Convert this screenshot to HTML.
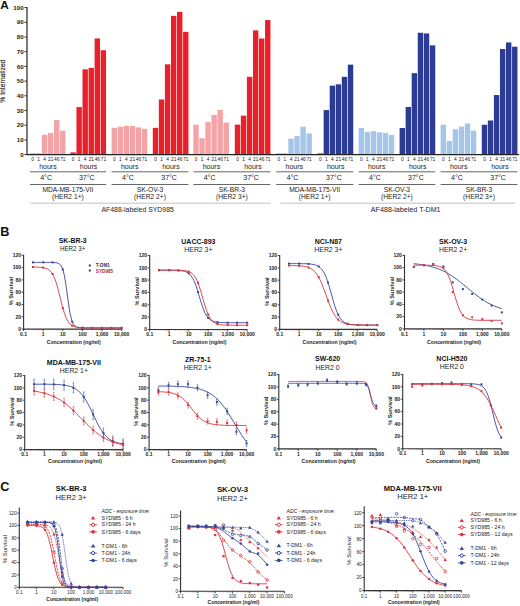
<!DOCTYPE html>
<html><head><meta charset="utf-8"><style>
html,body{margin:0;padding:0;background:#fff;width:520px;height:606px;overflow:hidden}
svg{display:block}
text{font-family:"Liberation Sans",sans-serif}
</style></head><body>
<svg width="520" height="606" viewBox="0 0 520 606">
<rect width="520" height="606" fill="#fff"/>
<text x="0.3" y="9.3" font-size="11.8" text-anchor="start" font-weight="bold" fill="#111">A</text>
<line x1="27.00" y1="155.10" x2="27.00" y2="7.10" stroke="#333" stroke-width="1.3"/>
<line x1="24.40" y1="154.60" x2="27.00" y2="154.60" stroke="#333" stroke-width="1.0"/>
<text x="23.6" y="156.7" font-size="6.2" text-anchor="end" font-weight="bold" fill="#1a1a1a">0</text>
<line x1="24.40" y1="139.90" x2="27.00" y2="139.90" stroke="#333" stroke-width="1.0"/>
<text x="23.6" y="142.0" font-size="6.2" text-anchor="end" font-weight="bold" fill="#1a1a1a">10</text>
<line x1="24.40" y1="125.20" x2="27.00" y2="125.20" stroke="#333" stroke-width="1.0"/>
<text x="23.6" y="127.3" font-size="6.2" text-anchor="end" font-weight="bold" fill="#1a1a1a">20</text>
<line x1="24.40" y1="110.50" x2="27.00" y2="110.50" stroke="#333" stroke-width="1.0"/>
<text x="23.6" y="112.6" font-size="6.2" text-anchor="end" font-weight="bold" fill="#1a1a1a">30</text>
<line x1="24.40" y1="95.80" x2="27.00" y2="95.80" stroke="#333" stroke-width="1.0"/>
<text x="23.6" y="97.9" font-size="6.2" text-anchor="end" font-weight="bold" fill="#1a1a1a">40</text>
<line x1="24.40" y1="81.10" x2="27.00" y2="81.10" stroke="#333" stroke-width="1.0"/>
<text x="23.6" y="83.2" font-size="6.2" text-anchor="end" font-weight="bold" fill="#1a1a1a">50</text>
<line x1="24.40" y1="66.40" x2="27.00" y2="66.40" stroke="#333" stroke-width="1.0"/>
<text x="23.6" y="68.5" font-size="6.2" text-anchor="end" font-weight="bold" fill="#1a1a1a">60</text>
<line x1="24.40" y1="51.70" x2="27.00" y2="51.70" stroke="#333" stroke-width="1.0"/>
<text x="23.6" y="53.8" font-size="6.2" text-anchor="end" font-weight="bold" fill="#1a1a1a">70</text>
<line x1="24.40" y1="37.00" x2="27.00" y2="37.00" stroke="#333" stroke-width="1.0"/>
<text x="23.6" y="39.1" font-size="6.2" text-anchor="end" font-weight="bold" fill="#1a1a1a">80</text>
<line x1="24.40" y1="22.30" x2="27.00" y2="22.30" stroke="#333" stroke-width="1.0"/>
<text x="23.6" y="24.4" font-size="6.2" text-anchor="end" font-weight="bold" fill="#1a1a1a">90</text>
<line x1="24.40" y1="7.60" x2="27.00" y2="7.60" stroke="#333" stroke-width="1.0"/>
<text x="23.6" y="9.7" font-size="6.2" text-anchor="end" font-weight="bold" fill="#1a1a1a">100</text>
<text x="0" y="0" font-size="6.8" text-anchor="middle" fill="#1a1a1a" stroke="#1a1a1a" stroke-width="0.15" transform="translate(5.4,81.2) rotate(-90)">% Internalized</text>
<rect x="29.80" y="153.13" width="5.4" height="1.47" fill="#f4a3a7"/>
<rect x="35.85" y="153.13" width="5.4" height="1.47" fill="#f4a3a7"/>
<rect x="41.90" y="134.75" width="5.4" height="19.84" fill="#f4a3a7"/>
<rect x="47.95" y="132.84" width="5.4" height="21.76" fill="#f4a3a7"/>
<rect x="54.00" y="120.05" width="5.4" height="34.55" fill="#f4a3a7"/>
<rect x="60.05" y="130.79" width="5.4" height="23.81" fill="#f4a3a7"/>
<text x="32.5" y="160.9" font-size="4.8" text-anchor="middle" fill="#222">0</text>
<text x="38.6" y="160.9" font-size="4.8" text-anchor="middle" fill="#222">1</text>
<text x="44.6" y="160.9" font-size="4.8" text-anchor="middle" fill="#222">4</text>
<text x="50.7" y="160.9" font-size="4.8" text-anchor="middle" fill="#222">21</text>
<text x="56.7" y="160.9" font-size="4.8" text-anchor="middle" fill="#222">46</text>
<text x="62.8" y="160.9" font-size="4.8" text-anchor="middle" fill="#222">71</text>
<text x="47.9" y="169.4" font-size="7.0" text-anchor="middle" fill="#1a1a1a">hours</text>
<text x="46.1" y="180.2" font-size="7.0" text-anchor="middle" fill="#1a1a1a">4°C</text>
<rect x="70.40" y="152.39" width="5.4" height="2.21" fill="#e8202a"/>
<rect x="76.45" y="107.12" width="5.4" height="47.48" fill="#e8202a"/>
<rect x="82.50" y="69.34" width="5.4" height="85.26" fill="#e8202a"/>
<rect x="88.55" y="67.87" width="5.4" height="86.73" fill="#e8202a"/>
<rect x="94.60" y="38.47" width="5.4" height="116.13" fill="#e8202a"/>
<rect x="100.65" y="50.23" width="5.4" height="104.37" fill="#e8202a"/>
<text x="73.1" y="160.9" font-size="4.8" text-anchor="middle" fill="#222">0</text>
<text x="79.2" y="160.9" font-size="4.8" text-anchor="middle" fill="#222">1</text>
<text x="85.2" y="160.9" font-size="4.8" text-anchor="middle" fill="#222">4</text>
<text x="91.3" y="160.9" font-size="4.8" text-anchor="middle" fill="#222">21</text>
<text x="97.3" y="160.9" font-size="4.8" text-anchor="middle" fill="#222">46</text>
<text x="103.4" y="160.9" font-size="4.8" text-anchor="middle" fill="#222">71</text>
<text x="88.5" y="169.4" font-size="7.0" text-anchor="middle" fill="#1a1a1a">hours</text>
<text x="86.7" y="180.2" font-size="7.0" text-anchor="middle" fill="#1a1a1a">37°C</text>
<rect x="111.60" y="127.85" width="5.4" height="26.75" fill="#f4a3a7"/>
<rect x="117.65" y="126.67" width="5.4" height="27.93" fill="#f4a3a7"/>
<rect x="123.70" y="125.94" width="5.4" height="28.66" fill="#f4a3a7"/>
<rect x="129.75" y="125.94" width="5.4" height="28.66" fill="#f4a3a7"/>
<rect x="135.80" y="127.41" width="5.4" height="27.20" fill="#f4a3a7"/>
<rect x="141.85" y="128.88" width="5.4" height="25.72" fill="#f4a3a7"/>
<text x="114.3" y="160.9" font-size="4.8" text-anchor="middle" fill="#222">0</text>
<text x="120.3" y="160.9" font-size="4.8" text-anchor="middle" fill="#222">1</text>
<text x="126.4" y="160.9" font-size="4.8" text-anchor="middle" fill="#222">4</text>
<text x="132.4" y="160.9" font-size="4.8" text-anchor="middle" fill="#222">21</text>
<text x="138.5" y="160.9" font-size="4.8" text-anchor="middle" fill="#222">46</text>
<text x="144.5" y="160.9" font-size="4.8" text-anchor="middle" fill="#222">71</text>
<text x="129.7" y="169.4" font-size="7.0" text-anchor="middle" fill="#1a1a1a">hours</text>
<text x="127.9" y="180.2" font-size="7.0" text-anchor="middle" fill="#1a1a1a">4°C</text>
<rect x="152.80" y="127.85" width="5.4" height="26.75" fill="#e8202a"/>
<rect x="158.85" y="99.47" width="5.4" height="55.12" fill="#e8202a"/>
<rect x="164.90" y="64.34" width="5.4" height="90.26" fill="#e8202a"/>
<rect x="170.95" y="15.83" width="5.4" height="138.77" fill="#e8202a"/>
<rect x="177.00" y="11.86" width="5.4" height="142.74" fill="#e8202a"/>
<rect x="183.05" y="31.85" width="5.4" height="122.75" fill="#e8202a"/>
<text x="155.5" y="160.9" font-size="4.8" text-anchor="middle" fill="#222">0</text>
<text x="161.6" y="160.9" font-size="4.8" text-anchor="middle" fill="#222">1</text>
<text x="167.6" y="160.9" font-size="4.8" text-anchor="middle" fill="#222">4</text>
<text x="173.7" y="160.9" font-size="4.8" text-anchor="middle" fill="#222">21</text>
<text x="179.7" y="160.9" font-size="4.8" text-anchor="middle" fill="#222">46</text>
<text x="185.8" y="160.9" font-size="4.8" text-anchor="middle" fill="#222">71</text>
<text x="170.9" y="169.4" font-size="7.0" text-anchor="middle" fill="#1a1a1a">hours</text>
<text x="169.1" y="180.2" font-size="7.0" text-anchor="middle" fill="#1a1a1a">37°C</text>
<rect x="193.30" y="124.76" width="5.4" height="29.84" fill="#f4a3a7"/>
<rect x="199.35" y="138.28" width="5.4" height="16.32" fill="#f4a3a7"/>
<rect x="205.40" y="121.97" width="5.4" height="32.63" fill="#f4a3a7"/>
<rect x="211.45" y="114.91" width="5.4" height="39.69" fill="#f4a3a7"/>
<rect x="217.50" y="109.91" width="5.4" height="44.69" fill="#f4a3a7"/>
<rect x="223.55" y="122.55" width="5.4" height="32.05" fill="#f4a3a7"/>
<text x="196.0" y="160.9" font-size="4.8" text-anchor="middle" fill="#222">0</text>
<text x="202.1" y="160.9" font-size="4.8" text-anchor="middle" fill="#222">1</text>
<text x="208.1" y="160.9" font-size="4.8" text-anchor="middle" fill="#222">4</text>
<text x="214.2" y="160.9" font-size="4.8" text-anchor="middle" fill="#222">21</text>
<text x="220.2" y="160.9" font-size="4.8" text-anchor="middle" fill="#222">46</text>
<text x="226.2" y="160.9" font-size="4.8" text-anchor="middle" fill="#222">71</text>
<text x="211.4" y="169.4" font-size="7.0" text-anchor="middle" fill="#1a1a1a">hours</text>
<text x="209.6" y="180.2" font-size="7.0" text-anchor="middle" fill="#1a1a1a">4°C</text>
<rect x="234.80" y="124.61" width="5.4" height="29.99" fill="#e8202a"/>
<rect x="240.85" y="115.64" width="5.4" height="38.95" fill="#e8202a"/>
<rect x="246.90" y="76.84" width="5.4" height="77.76" fill="#e8202a"/>
<rect x="252.95" y="30.38" width="5.4" height="124.22" fill="#e8202a"/>
<rect x="259.00" y="38.47" width="5.4" height="116.13" fill="#e8202a"/>
<rect x="265.05" y="20.09" width="5.4" height="134.50" fill="#e8202a"/>
<text x="237.5" y="160.9" font-size="4.8" text-anchor="middle" fill="#222">0</text>
<text x="243.6" y="160.9" font-size="4.8" text-anchor="middle" fill="#222">1</text>
<text x="249.6" y="160.9" font-size="4.8" text-anchor="middle" fill="#222">4</text>
<text x="255.7" y="160.9" font-size="4.8" text-anchor="middle" fill="#222">21</text>
<text x="261.7" y="160.9" font-size="4.8" text-anchor="middle" fill="#222">46</text>
<text x="267.8" y="160.9" font-size="4.8" text-anchor="middle" fill="#222">71</text>
<text x="252.9" y="169.4" font-size="7.0" text-anchor="middle" fill="#1a1a1a">hours</text>
<text x="251.1" y="180.2" font-size="7.0" text-anchor="middle" fill="#1a1a1a">37°C</text>
<rect x="276.20" y="153.13" width="5.4" height="1.47" fill="#a5c6e8"/>
<rect x="282.25" y="153.13" width="5.4" height="1.47" fill="#a5c6e8"/>
<rect x="288.30" y="138.72" width="5.4" height="15.88" fill="#a5c6e8"/>
<rect x="294.35" y="136.08" width="5.4" height="18.52" fill="#a5c6e8"/>
<rect x="300.40" y="126.67" width="5.4" height="27.93" fill="#a5c6e8"/>
<rect x="306.45" y="133.43" width="5.4" height="21.17" fill="#a5c6e8"/>
<text x="278.9" y="160.9" font-size="4.8" text-anchor="middle" fill="#222">0</text>
<text x="284.9" y="160.9" font-size="4.8" text-anchor="middle" fill="#222">1</text>
<text x="291.0" y="160.9" font-size="4.8" text-anchor="middle" fill="#222">4</text>
<text x="297.0" y="160.9" font-size="4.8" text-anchor="middle" fill="#222">21</text>
<text x="303.1" y="160.9" font-size="4.8" text-anchor="middle" fill="#222">46</text>
<text x="309.1" y="160.9" font-size="4.8" text-anchor="middle" fill="#222">71</text>
<text x="294.3" y="169.4" font-size="7.0" text-anchor="middle" fill="#1a1a1a">hours</text>
<text x="292.5" y="180.2" font-size="7.0" text-anchor="middle" fill="#1a1a1a">4°C</text>
<rect x="317.60" y="153.42" width="5.4" height="1.18" fill="#2c3b94"/>
<rect x="323.65" y="110.06" width="5.4" height="44.54" fill="#2c3b94"/>
<rect x="329.70" y="85.66" width="5.4" height="68.94" fill="#2c3b94"/>
<rect x="335.75" y="84.33" width="5.4" height="70.27" fill="#2c3b94"/>
<rect x="341.80" y="76.84" width="5.4" height="77.76" fill="#2c3b94"/>
<rect x="347.85" y="64.64" width="5.4" height="89.96" fill="#2c3b94"/>
<text x="320.3" y="160.9" font-size="4.8" text-anchor="middle" fill="#222">0</text>
<text x="326.4" y="160.9" font-size="4.8" text-anchor="middle" fill="#222">1</text>
<text x="332.4" y="160.9" font-size="4.8" text-anchor="middle" fill="#222">4</text>
<text x="338.4" y="160.9" font-size="4.8" text-anchor="middle" fill="#222">21</text>
<text x="344.5" y="160.9" font-size="4.8" text-anchor="middle" fill="#222">46</text>
<text x="350.6" y="160.9" font-size="4.8" text-anchor="middle" fill="#222">71</text>
<text x="335.7" y="169.4" font-size="7.0" text-anchor="middle" fill="#1a1a1a">hours</text>
<text x="333.9" y="180.2" font-size="7.0" text-anchor="middle" fill="#1a1a1a">37°C</text>
<rect x="358.60" y="127.99" width="5.4" height="26.61" fill="#a5c6e8"/>
<rect x="364.65" y="131.96" width="5.4" height="22.64" fill="#a5c6e8"/>
<rect x="370.70" y="131.23" width="5.4" height="23.37" fill="#a5c6e8"/>
<rect x="376.75" y="132.40" width="5.4" height="22.20" fill="#a5c6e8"/>
<rect x="382.80" y="132.99" width="5.4" height="21.61" fill="#a5c6e8"/>
<rect x="388.85" y="135.05" width="5.4" height="19.55" fill="#a5c6e8"/>
<text x="361.3" y="160.9" font-size="4.8" text-anchor="middle" fill="#222">0</text>
<text x="367.4" y="160.9" font-size="4.8" text-anchor="middle" fill="#222">1</text>
<text x="373.4" y="160.9" font-size="4.8" text-anchor="middle" fill="#222">4</text>
<text x="379.4" y="160.9" font-size="4.8" text-anchor="middle" fill="#222">21</text>
<text x="385.5" y="160.9" font-size="4.8" text-anchor="middle" fill="#222">46</text>
<text x="391.6" y="160.9" font-size="4.8" text-anchor="middle" fill="#222">71</text>
<text x="376.7" y="169.4" font-size="7.0" text-anchor="middle" fill="#1a1a1a">hours</text>
<text x="374.9" y="180.2" font-size="7.0" text-anchor="middle" fill="#1a1a1a">4°C</text>
<rect x="399.60" y="127.99" width="5.4" height="26.61" fill="#2c3b94"/>
<rect x="405.65" y="106.97" width="5.4" height="47.63" fill="#2c3b94"/>
<rect x="411.70" y="73.16" width="5.4" height="81.44" fill="#2c3b94"/>
<rect x="417.75" y="32.74" width="5.4" height="121.86" fill="#2c3b94"/>
<rect x="423.80" y="33.47" width="5.4" height="121.13" fill="#2c3b94"/>
<rect x="429.85" y="45.38" width="5.4" height="109.22" fill="#2c3b94"/>
<text x="402.3" y="160.9" font-size="4.8" text-anchor="middle" fill="#222">0</text>
<text x="408.4" y="160.9" font-size="4.8" text-anchor="middle" fill="#222">1</text>
<text x="414.4" y="160.9" font-size="4.8" text-anchor="middle" fill="#222">4</text>
<text x="420.4" y="160.9" font-size="4.8" text-anchor="middle" fill="#222">21</text>
<text x="426.5" y="160.9" font-size="4.8" text-anchor="middle" fill="#222">46</text>
<text x="432.6" y="160.9" font-size="4.8" text-anchor="middle" fill="#222">71</text>
<text x="417.7" y="169.4" font-size="7.0" text-anchor="middle" fill="#1a1a1a">hours</text>
<text x="415.9" y="180.2" font-size="7.0" text-anchor="middle" fill="#1a1a1a">37°C</text>
<rect x="440.60" y="124.76" width="5.4" height="29.84" fill="#a5c6e8"/>
<rect x="446.65" y="140.93" width="5.4" height="13.67" fill="#a5c6e8"/>
<rect x="452.70" y="129.32" width="5.4" height="25.28" fill="#a5c6e8"/>
<rect x="458.75" y="126.67" width="5.4" height="27.93" fill="#a5c6e8"/>
<rect x="464.80" y="123.44" width="5.4" height="31.16" fill="#a5c6e8"/>
<rect x="470.85" y="130.64" width="5.4" height="23.96" fill="#a5c6e8"/>
<text x="443.3" y="160.9" font-size="4.8" text-anchor="middle" fill="#222">0</text>
<text x="449.4" y="160.9" font-size="4.8" text-anchor="middle" fill="#222">1</text>
<text x="455.4" y="160.9" font-size="4.8" text-anchor="middle" fill="#222">4</text>
<text x="461.4" y="160.9" font-size="4.8" text-anchor="middle" fill="#222">21</text>
<text x="467.5" y="160.9" font-size="4.8" text-anchor="middle" fill="#222">46</text>
<text x="473.6" y="160.9" font-size="4.8" text-anchor="middle" fill="#222">71</text>
<text x="458.7" y="169.4" font-size="7.0" text-anchor="middle" fill="#1a1a1a">hours</text>
<text x="456.9" y="180.2" font-size="7.0" text-anchor="middle" fill="#1a1a1a">4°C</text>
<rect x="481.80" y="124.76" width="5.4" height="29.84" fill="#2c3b94"/>
<rect x="487.85" y="120.50" width="5.4" height="34.10" fill="#2c3b94"/>
<rect x="493.90" y="95.06" width="5.4" height="59.53" fill="#2c3b94"/>
<rect x="499.95" y="49.05" width="5.4" height="105.55" fill="#2c3b94"/>
<rect x="506.00" y="42.44" width="5.4" height="112.16" fill="#2c3b94"/>
<rect x="512.05" y="46.70" width="5.4" height="107.90" fill="#2c3b94"/>
<text x="484.5" y="160.9" font-size="4.8" text-anchor="middle" fill="#222">0</text>
<text x="490.6" y="160.9" font-size="4.8" text-anchor="middle" fill="#222">1</text>
<text x="496.6" y="160.9" font-size="4.8" text-anchor="middle" fill="#222">4</text>
<text x="502.6" y="160.9" font-size="4.8" text-anchor="middle" fill="#222">21</text>
<text x="508.7" y="160.9" font-size="4.8" text-anchor="middle" fill="#222">46</text>
<text x="514.8" y="160.9" font-size="4.8" text-anchor="middle" fill="#222">71</text>
<text x="499.9" y="169.4" font-size="7.0" text-anchor="middle" fill="#1a1a1a">hours</text>
<text x="498.1" y="180.2" font-size="7.0" text-anchor="middle" fill="#1a1a1a">37°C</text>
<line x1="27.00" y1="154.60" x2="519.00" y2="154.60" stroke="#222" stroke-width="1.2"/>
<line x1="29.80" y1="171.80" x2="106.05" y2="171.80" stroke="#555" stroke-width="0.9"/>
<line x1="29.80" y1="184.50" x2="106.05" y2="184.50" stroke="#555" stroke-width="0.9"/>
<text x="67.9" y="191.9" font-size="6.7" text-anchor="middle" fill="#222">MDA-MB-175-VII</text>
<text x="67.9" y="198.8" font-size="6.7" text-anchor="middle" fill="#222">(HER2 1+)</text>
<line x1="111.60" y1="171.80" x2="188.45" y2="171.80" stroke="#555" stroke-width="0.9"/>
<line x1="111.60" y1="184.50" x2="188.45" y2="184.50" stroke="#555" stroke-width="0.9"/>
<text x="150.0" y="191.9" font-size="6.7" text-anchor="middle" fill="#222">SK-OV-3</text>
<text x="150.0" y="198.8" font-size="6.7" text-anchor="middle" fill="#222">(HER2 2+)</text>
<line x1="193.30" y1="171.80" x2="270.45" y2="171.80" stroke="#555" stroke-width="0.9"/>
<line x1="193.30" y1="184.50" x2="270.45" y2="184.50" stroke="#555" stroke-width="0.9"/>
<text x="231.9" y="191.9" font-size="6.7" text-anchor="middle" fill="#222">SK-BR-3</text>
<text x="231.9" y="198.8" font-size="6.7" text-anchor="middle" fill="#222">(HER2 3+)</text>
<line x1="276.20" y1="171.80" x2="353.25" y2="171.80" stroke="#555" stroke-width="0.9"/>
<line x1="276.20" y1="184.50" x2="353.25" y2="184.50" stroke="#555" stroke-width="0.9"/>
<text x="314.7" y="191.9" font-size="6.7" text-anchor="middle" fill="#222">MDA-MB-175-VII</text>
<text x="314.7" y="198.8" font-size="6.7" text-anchor="middle" fill="#222">(HER2 1+)</text>
<line x1="358.60" y1="171.80" x2="435.25" y2="171.80" stroke="#555" stroke-width="0.9"/>
<line x1="358.60" y1="184.50" x2="435.25" y2="184.50" stroke="#555" stroke-width="0.9"/>
<text x="396.9" y="191.9" font-size="6.7" text-anchor="middle" fill="#222">SK-OV-3</text>
<text x="396.9" y="198.8" font-size="6.7" text-anchor="middle" fill="#222">(HER2 2+)</text>
<line x1="440.60" y1="171.80" x2="517.45" y2="171.80" stroke="#555" stroke-width="0.9"/>
<line x1="440.60" y1="184.50" x2="517.45" y2="184.50" stroke="#555" stroke-width="0.9"/>
<text x="479.0" y="191.9" font-size="6.7" text-anchor="middle" fill="#222">SK-BR-3</text>
<text x="479.0" y="198.8" font-size="6.7" text-anchor="middle" fill="#222">(HER2 3+)</text>
<line x1="30.40" y1="203.20" x2="270.50" y2="203.20" stroke="#bbb" stroke-width="0.9"/>
<line x1="280.30" y1="203.20" x2="515.00" y2="203.20" stroke="#bbb" stroke-width="0.9"/>
<text x="101.5" y="212.2" font-size="6.5" text-anchor="start" fill="#222" textLength="72.3" lengthAdjust="spacingAndGlyphs">AF488-labeled SYD985</text>
<text x="370.8" y="212.2" font-size="6.5" text-anchor="start" fill="#222" textLength="69.8" lengthAdjust="spacingAndGlyphs">AF488-labeled T-DM1</text>
<text x="0.2" y="235.9" font-size="12.7" text-anchor="start" font-weight="bold" fill="#111">B</text>
<line x1="23.60" y1="254.80" x2="23.60" y2="329.60" stroke="#333" stroke-width="1.1"/>
<line x1="23.60" y1="329.10" x2="121.70" y2="329.10" stroke="#333" stroke-width="1.1"/>
<line x1="21.60" y1="329.10" x2="23.60" y2="329.10" stroke="#333" stroke-width="0.9"/>
<text x="21.0" y="330.9" font-size="5.0" text-anchor="end" font-weight="bold" fill="#222">0</text>
<line x1="21.60" y1="316.80" x2="23.60" y2="316.80" stroke="#333" stroke-width="0.9"/>
<text x="21.0" y="318.6" font-size="5.0" text-anchor="end" font-weight="bold" fill="#222">20</text>
<line x1="21.60" y1="304.50" x2="23.60" y2="304.50" stroke="#333" stroke-width="0.9"/>
<text x="21.0" y="306.3" font-size="5.0" text-anchor="end" font-weight="bold" fill="#222">40</text>
<line x1="21.60" y1="292.20" x2="23.60" y2="292.20" stroke="#333" stroke-width="0.9"/>
<text x="21.0" y="294.0" font-size="5.0" text-anchor="end" font-weight="bold" fill="#222">60</text>
<line x1="21.60" y1="279.90" x2="23.60" y2="279.90" stroke="#333" stroke-width="0.9"/>
<text x="21.0" y="281.7" font-size="5.0" text-anchor="end" font-weight="bold" fill="#222">80</text>
<line x1="21.60" y1="267.60" x2="23.60" y2="267.60" stroke="#333" stroke-width="0.9"/>
<text x="21.0" y="269.4" font-size="5.0" text-anchor="end" font-weight="bold" fill="#222">100</text>
<line x1="21.60" y1="255.30" x2="23.60" y2="255.30" stroke="#333" stroke-width="0.9"/>
<text x="21.0" y="257.1" font-size="5.0" text-anchor="end" font-weight="bold" fill="#222">120</text>
<line x1="23.60" y1="329.10" x2="23.60" y2="331.10" stroke="#333" stroke-width="0.9"/>
<text x="23.6" y="335.7" font-size="5.0" text-anchor="middle" font-weight="bold" fill="#222">0.1</text>
<line x1="29.51" y1="329.10" x2="29.51" y2="330.20" stroke="#555" stroke-width="0.5"/>
<line x1="32.96" y1="329.10" x2="32.96" y2="330.20" stroke="#555" stroke-width="0.5"/>
<line x1="35.41" y1="329.10" x2="35.41" y2="330.20" stroke="#555" stroke-width="0.5"/>
<line x1="37.31" y1="329.10" x2="37.31" y2="330.20" stroke="#555" stroke-width="0.5"/>
<line x1="38.87" y1="329.10" x2="38.87" y2="330.20" stroke="#555" stroke-width="0.5"/>
<line x1="40.18" y1="329.10" x2="40.18" y2="330.20" stroke="#555" stroke-width="0.5"/>
<line x1="41.32" y1="329.10" x2="41.32" y2="330.20" stroke="#555" stroke-width="0.5"/>
<line x1="42.32" y1="329.10" x2="42.32" y2="330.20" stroke="#555" stroke-width="0.5"/>
<line x1="43.22" y1="329.10" x2="43.22" y2="331.10" stroke="#333" stroke-width="0.9"/>
<text x="43.2" y="335.7" font-size="5.0" text-anchor="middle" font-weight="bold" fill="#222">1</text>
<line x1="49.13" y1="329.10" x2="49.13" y2="330.20" stroke="#555" stroke-width="0.5"/>
<line x1="52.58" y1="329.10" x2="52.58" y2="330.20" stroke="#555" stroke-width="0.5"/>
<line x1="55.03" y1="329.10" x2="55.03" y2="330.20" stroke="#555" stroke-width="0.5"/>
<line x1="56.93" y1="329.10" x2="56.93" y2="330.20" stroke="#555" stroke-width="0.5"/>
<line x1="58.49" y1="329.10" x2="58.49" y2="330.20" stroke="#555" stroke-width="0.5"/>
<line x1="59.80" y1="329.10" x2="59.80" y2="330.20" stroke="#555" stroke-width="0.5"/>
<line x1="60.94" y1="329.10" x2="60.94" y2="330.20" stroke="#555" stroke-width="0.5"/>
<line x1="61.94" y1="329.10" x2="61.94" y2="330.20" stroke="#555" stroke-width="0.5"/>
<line x1="62.84" y1="329.10" x2="62.84" y2="331.10" stroke="#333" stroke-width="0.9"/>
<text x="62.8" y="335.7" font-size="5.0" text-anchor="middle" font-weight="bold" fill="#222">10</text>
<line x1="68.75" y1="329.10" x2="68.75" y2="330.20" stroke="#555" stroke-width="0.5"/>
<line x1="72.20" y1="329.10" x2="72.20" y2="330.20" stroke="#555" stroke-width="0.5"/>
<line x1="74.65" y1="329.10" x2="74.65" y2="330.20" stroke="#555" stroke-width="0.5"/>
<line x1="76.55" y1="329.10" x2="76.55" y2="330.20" stroke="#555" stroke-width="0.5"/>
<line x1="78.11" y1="329.10" x2="78.11" y2="330.20" stroke="#555" stroke-width="0.5"/>
<line x1="79.42" y1="329.10" x2="79.42" y2="330.20" stroke="#555" stroke-width="0.5"/>
<line x1="80.56" y1="329.10" x2="80.56" y2="330.20" stroke="#555" stroke-width="0.5"/>
<line x1="81.56" y1="329.10" x2="81.56" y2="330.20" stroke="#555" stroke-width="0.5"/>
<line x1="82.46" y1="329.10" x2="82.46" y2="331.10" stroke="#333" stroke-width="0.9"/>
<text x="82.5" y="335.7" font-size="5.0" text-anchor="middle" font-weight="bold" fill="#222">100</text>
<line x1="88.37" y1="329.10" x2="88.37" y2="330.20" stroke="#555" stroke-width="0.5"/>
<line x1="91.82" y1="329.10" x2="91.82" y2="330.20" stroke="#555" stroke-width="0.5"/>
<line x1="94.27" y1="329.10" x2="94.27" y2="330.20" stroke="#555" stroke-width="0.5"/>
<line x1="96.17" y1="329.10" x2="96.17" y2="330.20" stroke="#555" stroke-width="0.5"/>
<line x1="97.73" y1="329.10" x2="97.73" y2="330.20" stroke="#555" stroke-width="0.5"/>
<line x1="99.04" y1="329.10" x2="99.04" y2="330.20" stroke="#555" stroke-width="0.5"/>
<line x1="100.18" y1="329.10" x2="100.18" y2="330.20" stroke="#555" stroke-width="0.5"/>
<line x1="101.18" y1="329.10" x2="101.18" y2="330.20" stroke="#555" stroke-width="0.5"/>
<line x1="102.08" y1="329.10" x2="102.08" y2="331.10" stroke="#333" stroke-width="0.9"/>
<text x="102.1" y="335.7" font-size="5.0" text-anchor="middle" font-weight="bold" fill="#222">1,000</text>
<line x1="107.99" y1="329.10" x2="107.99" y2="330.20" stroke="#555" stroke-width="0.5"/>
<line x1="111.44" y1="329.10" x2="111.44" y2="330.20" stroke="#555" stroke-width="0.5"/>
<line x1="113.89" y1="329.10" x2="113.89" y2="330.20" stroke="#555" stroke-width="0.5"/>
<line x1="115.79" y1="329.10" x2="115.79" y2="330.20" stroke="#555" stroke-width="0.5"/>
<line x1="117.35" y1="329.10" x2="117.35" y2="330.20" stroke="#555" stroke-width="0.5"/>
<line x1="118.66" y1="329.10" x2="118.66" y2="330.20" stroke="#555" stroke-width="0.5"/>
<line x1="119.80" y1="329.10" x2="119.80" y2="330.20" stroke="#555" stroke-width="0.5"/>
<line x1="120.80" y1="329.10" x2="120.80" y2="330.20" stroke="#555" stroke-width="0.5"/>
<line x1="121.70" y1="329.10" x2="121.70" y2="331.10" stroke="#333" stroke-width="0.9"/>
<text x="121.7" y="335.7" font-size="5.0" text-anchor="middle" font-weight="bold" fill="#222">10,000</text>
<text x="0" y="0" font-size="5.6" font-weight="bold" text-anchor="middle" fill="#222" transform="translate(12.6,291.2) rotate(-90)">% Survival</text>
<text x="73.7" y="343.8" font-size="5.6" text-anchor="middle" font-weight="bold" fill="#222" textLength="54" lengthAdjust="spacingAndGlyphs">Concentration (ng/ml)</text>
<text x="72.7" y="243.2" font-size="7.0" text-anchor="middle" font-weight="bold" fill="#111" textLength="27.9" lengthAdjust="spacingAndGlyphs">SK-BR-3</text>
<text x="72.7" y="251.2" font-size="6.9" text-anchor="middle" fill="#1e1e1e" textLength="25.6" lengthAdjust="spacingAndGlyphs">HER2 3+</text>
<polyline points="33.0,262.4 34.8,262.4 36.7,262.4 38.5,262.4 40.4,262.4 42.2,262.4 44.1,262.4 45.9,262.4 47.8,262.4 49.6,262.4 51.4,262.4 53.3,262.5 55.1,262.6 57.0,262.9 58.8,263.6 60.7,265.1 62.5,268.5 64.4,275.4 66.2,286.7 68.1,300.6 69.9,312.8 71.8,320.6 73.6,324.6 75.5,326.5 77.3,327.3 79.2,327.6 81.0,327.8 82.9,327.8 84.7,327.9 86.6,327.9 88.4,327.9 90.3,327.9 92.1,327.9 94.0,327.9 95.8,327.9 97.7,327.9 99.5,327.9 101.4,327.9 103.2,327.9 105.1,327.9 106.9,327.9 108.8,327.9 110.6,327.9 112.5,327.9 114.3,327.9 116.2,327.9 118.0,327.9 119.9,327.9 121.7,327.9" fill="none" stroke="#34479a" stroke-width="0.9"/>
<rect x="32.0" y="261.4" width="2.0" height="2.0" fill="#34479a"/>
<rect x="42.2" y="261.4" width="2.0" height="2.0" fill="#34479a"/>
<rect x="51.6" y="261.4" width="2.0" height="2.0" fill="#34479a"/>
<rect x="61.8" y="268.4" width="2.0" height="2.0" fill="#34479a"/>
<rect x="71.2" y="320.7" width="2.0" height="2.0" fill="#34479a"/>
<rect x="81.5" y="326.8" width="2.0" height="2.0" fill="#34479a"/>
<rect x="90.8" y="326.9" width="2.0" height="2.0" fill="#34479a"/>
<rect x="101.1" y="326.9" width="2.0" height="2.0" fill="#34479a"/>
<rect x="110.4" y="326.9" width="2.0" height="2.0" fill="#34479a"/>
<rect x="120.7" y="326.9" width="2.0" height="2.0" fill="#34479a"/>
<polyline points="33.0,267.0 34.8,267.0 36.7,267.1 38.5,267.2 40.4,267.3 42.2,267.5 44.1,267.8 45.9,268.3 47.8,269.1 49.6,270.3 51.4,272.3 53.3,275.2 55.1,279.5 57.0,285.2 58.8,292.1 60.7,299.6 62.5,306.9 64.4,313.1 66.2,318.0 68.1,321.5 69.9,323.8 71.8,325.3 73.6,326.3 75.5,326.9 77.3,327.3 79.2,327.5 81.0,327.7 82.9,327.7 84.7,327.8 86.6,327.8 88.4,327.8 90.3,327.9 92.1,327.9 94.0,327.9 95.8,327.9 97.7,327.9 99.5,327.9 101.4,327.9 103.2,327.9 105.1,327.9 106.9,327.9 108.8,327.9 110.6,327.9 112.5,327.9 114.3,327.9 116.2,327.9 118.0,327.9 119.9,327.9 121.7,327.9" fill="none" stroke="#d9343c" stroke-width="0.9"/>
<rect x="32.0" y="266.0" width="2.0" height="2.0" fill="#d9343c"/>
<rect x="42.2" y="266.6" width="2.0" height="2.0" fill="#d9343c"/>
<rect x="51.6" y="273.0" width="2.0" height="2.0" fill="#d9343c"/>
<rect x="61.8" y="307.0" width="2.0" height="2.0" fill="#d9343c"/>
<rect x="71.2" y="324.6" width="2.0" height="2.0" fill="#d9343c"/>
<rect x="81.5" y="326.7" width="2.0" height="2.0" fill="#d9343c"/>
<rect x="90.8" y="326.9" width="2.0" height="2.0" fill="#d9343c"/>
<rect x="101.1" y="326.9" width="2.0" height="2.0" fill="#d9343c"/>
<rect x="110.4" y="326.9" width="2.0" height="2.0" fill="#d9343c"/>
<rect x="120.7" y="326.9" width="2.0" height="2.0" fill="#d9343c"/>
<rect x="88.8" y="264.5" width="2" height="2" fill="#333a55"/>
<text x="95.8" y="267.0" font-size="5.0" text-anchor="start" font-weight="bold" fill="#2a3870" textLength="14.2" lengthAdjust="spacingAndGlyphs">T-DM1</text>
<rect x="88.8" y="269.5" width="2" height="2" fill="#553338"/>
<text x="95.8" y="272.5" font-size="5.0" text-anchor="start" font-weight="bold" fill="#a83040" textLength="17.4" lengthAdjust="spacingAndGlyphs">SYD985</text>
<line x1="149.70" y1="254.90" x2="149.70" y2="330.00" stroke="#333" stroke-width="1.1"/>
<line x1="149.70" y1="329.50" x2="247.20" y2="329.50" stroke="#333" stroke-width="1.1"/>
<line x1="147.70" y1="329.50" x2="149.70" y2="329.50" stroke="#333" stroke-width="0.9"/>
<text x="147.1" y="331.3" font-size="5.0" text-anchor="end" font-weight="bold" fill="#222">0</text>
<line x1="147.70" y1="317.15" x2="149.70" y2="317.15" stroke="#333" stroke-width="0.9"/>
<text x="147.1" y="318.9" font-size="5.0" text-anchor="end" font-weight="bold" fill="#222">20</text>
<line x1="147.70" y1="304.80" x2="149.70" y2="304.80" stroke="#333" stroke-width="0.9"/>
<text x="147.1" y="306.6" font-size="5.0" text-anchor="end" font-weight="bold" fill="#222">40</text>
<line x1="147.70" y1="292.45" x2="149.70" y2="292.45" stroke="#333" stroke-width="0.9"/>
<text x="147.1" y="294.2" font-size="5.0" text-anchor="end" font-weight="bold" fill="#222">60</text>
<line x1="147.70" y1="280.10" x2="149.70" y2="280.10" stroke="#333" stroke-width="0.9"/>
<text x="147.1" y="281.9" font-size="5.0" text-anchor="end" font-weight="bold" fill="#222">80</text>
<line x1="147.70" y1="267.75" x2="149.70" y2="267.75" stroke="#333" stroke-width="0.9"/>
<text x="147.1" y="269.6" font-size="5.0" text-anchor="end" font-weight="bold" fill="#222">100</text>
<line x1="147.70" y1="255.40" x2="149.70" y2="255.40" stroke="#333" stroke-width="0.9"/>
<text x="147.1" y="257.2" font-size="5.0" text-anchor="end" font-weight="bold" fill="#222">120</text>
<line x1="149.70" y1="329.50" x2="149.70" y2="331.50" stroke="#333" stroke-width="0.9"/>
<text x="149.7" y="336.1" font-size="5.0" text-anchor="middle" font-weight="bold" fill="#222">0.1</text>
<line x1="155.57" y1="329.50" x2="155.57" y2="330.60" stroke="#555" stroke-width="0.5"/>
<line x1="159.00" y1="329.50" x2="159.00" y2="330.60" stroke="#555" stroke-width="0.5"/>
<line x1="161.44" y1="329.50" x2="161.44" y2="330.60" stroke="#555" stroke-width="0.5"/>
<line x1="163.33" y1="329.50" x2="163.33" y2="330.60" stroke="#555" stroke-width="0.5"/>
<line x1="164.87" y1="329.50" x2="164.87" y2="330.60" stroke="#555" stroke-width="0.5"/>
<line x1="166.18" y1="329.50" x2="166.18" y2="330.60" stroke="#555" stroke-width="0.5"/>
<line x1="167.31" y1="329.50" x2="167.31" y2="330.60" stroke="#555" stroke-width="0.5"/>
<line x1="168.31" y1="329.50" x2="168.31" y2="330.60" stroke="#555" stroke-width="0.5"/>
<line x1="169.20" y1="329.50" x2="169.20" y2="331.50" stroke="#333" stroke-width="0.9"/>
<text x="169.2" y="336.1" font-size="5.0" text-anchor="middle" font-weight="bold" fill="#222">1</text>
<line x1="175.07" y1="329.50" x2="175.07" y2="330.60" stroke="#555" stroke-width="0.5"/>
<line x1="178.50" y1="329.50" x2="178.50" y2="330.60" stroke="#555" stroke-width="0.5"/>
<line x1="180.94" y1="329.50" x2="180.94" y2="330.60" stroke="#555" stroke-width="0.5"/>
<line x1="182.83" y1="329.50" x2="182.83" y2="330.60" stroke="#555" stroke-width="0.5"/>
<line x1="184.37" y1="329.50" x2="184.37" y2="330.60" stroke="#555" stroke-width="0.5"/>
<line x1="185.68" y1="329.50" x2="185.68" y2="330.60" stroke="#555" stroke-width="0.5"/>
<line x1="186.81" y1="329.50" x2="186.81" y2="330.60" stroke="#555" stroke-width="0.5"/>
<line x1="187.81" y1="329.50" x2="187.81" y2="330.60" stroke="#555" stroke-width="0.5"/>
<line x1="188.70" y1="329.50" x2="188.70" y2="331.50" stroke="#333" stroke-width="0.9"/>
<text x="188.7" y="336.1" font-size="5.0" text-anchor="middle" font-weight="bold" fill="#222">10</text>
<line x1="194.57" y1="329.50" x2="194.57" y2="330.60" stroke="#555" stroke-width="0.5"/>
<line x1="198.00" y1="329.50" x2="198.00" y2="330.60" stroke="#555" stroke-width="0.5"/>
<line x1="200.44" y1="329.50" x2="200.44" y2="330.60" stroke="#555" stroke-width="0.5"/>
<line x1="202.33" y1="329.50" x2="202.33" y2="330.60" stroke="#555" stroke-width="0.5"/>
<line x1="203.87" y1="329.50" x2="203.87" y2="330.60" stroke="#555" stroke-width="0.5"/>
<line x1="205.18" y1="329.50" x2="205.18" y2="330.60" stroke="#555" stroke-width="0.5"/>
<line x1="206.31" y1="329.50" x2="206.31" y2="330.60" stroke="#555" stroke-width="0.5"/>
<line x1="207.31" y1="329.50" x2="207.31" y2="330.60" stroke="#555" stroke-width="0.5"/>
<line x1="208.20" y1="329.50" x2="208.20" y2="331.50" stroke="#333" stroke-width="0.9"/>
<text x="208.2" y="336.1" font-size="5.0" text-anchor="middle" font-weight="bold" fill="#222">100</text>
<line x1="214.07" y1="329.50" x2="214.07" y2="330.60" stroke="#555" stroke-width="0.5"/>
<line x1="217.50" y1="329.50" x2="217.50" y2="330.60" stroke="#555" stroke-width="0.5"/>
<line x1="219.94" y1="329.50" x2="219.94" y2="330.60" stroke="#555" stroke-width="0.5"/>
<line x1="221.83" y1="329.50" x2="221.83" y2="330.60" stroke="#555" stroke-width="0.5"/>
<line x1="223.37" y1="329.50" x2="223.37" y2="330.60" stroke="#555" stroke-width="0.5"/>
<line x1="224.68" y1="329.50" x2="224.68" y2="330.60" stroke="#555" stroke-width="0.5"/>
<line x1="225.81" y1="329.50" x2="225.81" y2="330.60" stroke="#555" stroke-width="0.5"/>
<line x1="226.81" y1="329.50" x2="226.81" y2="330.60" stroke="#555" stroke-width="0.5"/>
<line x1="227.70" y1="329.50" x2="227.70" y2="331.50" stroke="#333" stroke-width="0.9"/>
<text x="227.7" y="336.1" font-size="5.0" text-anchor="middle" font-weight="bold" fill="#222">1,000</text>
<line x1="233.57" y1="329.50" x2="233.57" y2="330.60" stroke="#555" stroke-width="0.5"/>
<line x1="237.00" y1="329.50" x2="237.00" y2="330.60" stroke="#555" stroke-width="0.5"/>
<line x1="239.44" y1="329.50" x2="239.44" y2="330.60" stroke="#555" stroke-width="0.5"/>
<line x1="241.33" y1="329.50" x2="241.33" y2="330.60" stroke="#555" stroke-width="0.5"/>
<line x1="242.87" y1="329.50" x2="242.87" y2="330.60" stroke="#555" stroke-width="0.5"/>
<line x1="244.18" y1="329.50" x2="244.18" y2="330.60" stroke="#555" stroke-width="0.5"/>
<line x1="245.31" y1="329.50" x2="245.31" y2="330.60" stroke="#555" stroke-width="0.5"/>
<line x1="246.31" y1="329.50" x2="246.31" y2="330.60" stroke="#555" stroke-width="0.5"/>
<line x1="247.20" y1="329.50" x2="247.20" y2="331.50" stroke="#333" stroke-width="0.9"/>
<text x="247.2" y="336.1" font-size="5.0" text-anchor="middle" font-weight="bold" fill="#222">10,000</text>
<text x="0" y="0" font-size="5.6" font-weight="bold" text-anchor="middle" fill="#222" transform="translate(138.7,291.4) rotate(-90)">% Survival</text>
<text x="199.4" y="343.8" font-size="5.6" text-anchor="middle" font-weight="bold" fill="#222" textLength="54" lengthAdjust="spacingAndGlyphs">Concentration (ng/ml)</text>
<text x="198.4" y="243.8" font-size="7.0" text-anchor="middle" font-weight="bold" fill="#111">UACC-893</text>
<text x="198.4" y="251.6" font-size="6.9" text-anchor="middle" fill="#1e1e1e">HER2 3+</text>
<polyline points="159.0,270.2 160.8,270.2 162.7,270.2 164.5,270.2 166.4,270.2 168.2,270.2 170.0,270.2 171.9,270.3 173.7,270.3 175.5,270.3 177.4,270.4 179.2,270.5 181.1,270.7 182.9,270.9 184.7,271.4 186.6,272.1 188.4,273.1 190.2,274.8 192.1,277.2 193.9,280.6 195.8,285.1 197.6,290.7 199.4,296.9 201.3,303.0 203.1,308.4 204.9,312.8 206.8,316.1 208.6,318.4 210.5,320.0 212.3,321.0 214.1,321.6 216.0,322.0 217.8,322.3 219.6,322.4 221.5,322.5 223.3,322.6 225.2,322.6 227.0,322.7 228.8,322.7 230.7,322.7 232.5,322.7 234.3,322.7 236.2,322.7 238.0,322.7 239.9,322.7 241.7,322.7 243.5,322.7 245.4,322.7 247.2,322.7" fill="none" stroke="#34479a" stroke-width="0.9"/>
<rect x="158.0" y="269.2" width="2.0" height="2.0" fill="#34479a"/>
<rect x="168.2" y="269.2" width="2.0" height="2.0" fill="#34479a"/>
<rect x="177.5" y="269.5" width="2.0" height="2.0" fill="#34479a"/>
<rect x="187.7" y="272.4" width="2.0" height="2.0" fill="#34479a"/>
<rect x="197.0" y="291.1" width="2.0" height="2.0" fill="#34479a"/>
<rect x="207.2" y="317.0" width="2.0" height="2.0" fill="#34479a"/>
<rect x="216.5" y="321.2" width="2.0" height="2.0" fill="#34479a"/>
<rect x="226.7" y="321.7" width="2.0" height="2.0" fill="#34479a"/>
<rect x="236.0" y="321.7" width="2.0" height="2.0" fill="#34479a"/>
<rect x="246.2" y="321.7" width="2.0" height="2.0" fill="#34479a"/>
<polyline points="159.0,270.2 160.8,270.2 162.7,270.2 164.5,270.2 166.4,270.2 168.2,270.2 170.0,270.2 171.9,270.2 173.7,270.2 175.5,270.3 177.4,270.3 179.2,270.3 181.1,270.4 182.9,270.5 184.7,270.7 186.6,271.0 188.4,271.5 190.2,272.3 192.1,273.5 193.9,275.4 195.8,278.0 197.6,281.8 199.4,286.8 201.3,292.8 203.1,299.3 204.9,305.6 206.8,311.1 208.6,315.5 210.5,318.8 212.3,321.0 214.1,322.5 216.0,323.5 217.8,324.1 219.6,324.5 221.5,324.8 223.3,324.9 225.2,325.0 227.0,325.1 228.8,325.1 230.7,325.1 232.5,325.2 234.3,325.2 236.2,325.2 238.0,325.2 239.9,325.2 241.7,325.2 243.5,325.2 245.4,325.2 247.2,325.2" fill="none" stroke="#d9343c" stroke-width="0.9"/>
<rect x="158.0" y="269.2" width="2.0" height="2.0" fill="#d9343c"/>
<rect x="168.2" y="269.2" width="2.0" height="2.0" fill="#d9343c"/>
<rect x="177.5" y="269.3" width="2.0" height="2.0" fill="#d9343c"/>
<rect x="187.7" y="270.6" width="2.0" height="2.0" fill="#d9343c"/>
<rect x="197.0" y="281.8" width="2.0" height="2.0" fill="#d9343c"/>
<rect x="207.2" y="313.6" width="2.0" height="2.0" fill="#d9343c"/>
<rect x="216.5" y="323.0" width="2.0" height="2.0" fill="#d9343c"/>
<rect x="226.7" y="324.1" width="2.0" height="2.0" fill="#d9343c"/>
<rect x="236.0" y="324.2" width="2.0" height="2.0" fill="#d9343c"/>
<rect x="246.2" y="324.2" width="2.0" height="2.0" fill="#d9343c"/>
<line x1="279.70" y1="255.10" x2="279.70" y2="329.90" stroke="#333" stroke-width="1.1"/>
<line x1="279.70" y1="329.40" x2="377.20" y2="329.40" stroke="#333" stroke-width="1.1"/>
<line x1="277.70" y1="329.40" x2="279.70" y2="329.40" stroke="#333" stroke-width="0.9"/>
<text x="277.1" y="331.2" font-size="5.0" text-anchor="end" font-weight="bold" fill="#222">0</text>
<line x1="277.70" y1="317.10" x2="279.70" y2="317.10" stroke="#333" stroke-width="0.9"/>
<text x="277.1" y="318.9" font-size="5.0" text-anchor="end" font-weight="bold" fill="#222">20</text>
<line x1="277.70" y1="304.80" x2="279.70" y2="304.80" stroke="#333" stroke-width="0.9"/>
<text x="277.1" y="306.6" font-size="5.0" text-anchor="end" font-weight="bold" fill="#222">40</text>
<line x1="277.70" y1="292.50" x2="279.70" y2="292.50" stroke="#333" stroke-width="0.9"/>
<text x="277.1" y="294.3" font-size="5.0" text-anchor="end" font-weight="bold" fill="#222">60</text>
<line x1="277.70" y1="280.20" x2="279.70" y2="280.20" stroke="#333" stroke-width="0.9"/>
<text x="277.1" y="282.0" font-size="5.0" text-anchor="end" font-weight="bold" fill="#222">80</text>
<line x1="277.70" y1="267.90" x2="279.70" y2="267.90" stroke="#333" stroke-width="0.9"/>
<text x="277.1" y="269.7" font-size="5.0" text-anchor="end" font-weight="bold" fill="#222">100</text>
<line x1="277.70" y1="255.60" x2="279.70" y2="255.60" stroke="#333" stroke-width="0.9"/>
<text x="277.1" y="257.4" font-size="5.0" text-anchor="end" font-weight="bold" fill="#222">120</text>
<line x1="279.70" y1="329.40" x2="279.70" y2="331.40" stroke="#333" stroke-width="0.9"/>
<text x="279.7" y="336.0" font-size="5.0" text-anchor="middle" font-weight="bold" fill="#222">0.1</text>
<line x1="285.57" y1="329.40" x2="285.57" y2="330.50" stroke="#555" stroke-width="0.5"/>
<line x1="289.00" y1="329.40" x2="289.00" y2="330.50" stroke="#555" stroke-width="0.5"/>
<line x1="291.44" y1="329.40" x2="291.44" y2="330.50" stroke="#555" stroke-width="0.5"/>
<line x1="293.33" y1="329.40" x2="293.33" y2="330.50" stroke="#555" stroke-width="0.5"/>
<line x1="294.87" y1="329.40" x2="294.87" y2="330.50" stroke="#555" stroke-width="0.5"/>
<line x1="296.18" y1="329.40" x2="296.18" y2="330.50" stroke="#555" stroke-width="0.5"/>
<line x1="297.31" y1="329.40" x2="297.31" y2="330.50" stroke="#555" stroke-width="0.5"/>
<line x1="298.31" y1="329.40" x2="298.31" y2="330.50" stroke="#555" stroke-width="0.5"/>
<line x1="299.20" y1="329.40" x2="299.20" y2="331.40" stroke="#333" stroke-width="0.9"/>
<text x="299.2" y="336.0" font-size="5.0" text-anchor="middle" font-weight="bold" fill="#222">1</text>
<line x1="305.07" y1="329.40" x2="305.07" y2="330.50" stroke="#555" stroke-width="0.5"/>
<line x1="308.50" y1="329.40" x2="308.50" y2="330.50" stroke="#555" stroke-width="0.5"/>
<line x1="310.94" y1="329.40" x2="310.94" y2="330.50" stroke="#555" stroke-width="0.5"/>
<line x1="312.83" y1="329.40" x2="312.83" y2="330.50" stroke="#555" stroke-width="0.5"/>
<line x1="314.37" y1="329.40" x2="314.37" y2="330.50" stroke="#555" stroke-width="0.5"/>
<line x1="315.68" y1="329.40" x2="315.68" y2="330.50" stroke="#555" stroke-width="0.5"/>
<line x1="316.81" y1="329.40" x2="316.81" y2="330.50" stroke="#555" stroke-width="0.5"/>
<line x1="317.81" y1="329.40" x2="317.81" y2="330.50" stroke="#555" stroke-width="0.5"/>
<line x1="318.70" y1="329.40" x2="318.70" y2="331.40" stroke="#333" stroke-width="0.9"/>
<text x="318.7" y="336.0" font-size="5.0" text-anchor="middle" font-weight="bold" fill="#222">10</text>
<line x1="324.57" y1="329.40" x2="324.57" y2="330.50" stroke="#555" stroke-width="0.5"/>
<line x1="328.00" y1="329.40" x2="328.00" y2="330.50" stroke="#555" stroke-width="0.5"/>
<line x1="330.44" y1="329.40" x2="330.44" y2="330.50" stroke="#555" stroke-width="0.5"/>
<line x1="332.33" y1="329.40" x2="332.33" y2="330.50" stroke="#555" stroke-width="0.5"/>
<line x1="333.87" y1="329.40" x2="333.87" y2="330.50" stroke="#555" stroke-width="0.5"/>
<line x1="335.18" y1="329.40" x2="335.18" y2="330.50" stroke="#555" stroke-width="0.5"/>
<line x1="336.31" y1="329.40" x2="336.31" y2="330.50" stroke="#555" stroke-width="0.5"/>
<line x1="337.31" y1="329.40" x2="337.31" y2="330.50" stroke="#555" stroke-width="0.5"/>
<line x1="338.20" y1="329.40" x2="338.20" y2="331.40" stroke="#333" stroke-width="0.9"/>
<text x="338.2" y="336.0" font-size="5.0" text-anchor="middle" font-weight="bold" fill="#222">100</text>
<line x1="344.07" y1="329.40" x2="344.07" y2="330.50" stroke="#555" stroke-width="0.5"/>
<line x1="347.50" y1="329.40" x2="347.50" y2="330.50" stroke="#555" stroke-width="0.5"/>
<line x1="349.94" y1="329.40" x2="349.94" y2="330.50" stroke="#555" stroke-width="0.5"/>
<line x1="351.83" y1="329.40" x2="351.83" y2="330.50" stroke="#555" stroke-width="0.5"/>
<line x1="353.37" y1="329.40" x2="353.37" y2="330.50" stroke="#555" stroke-width="0.5"/>
<line x1="354.68" y1="329.40" x2="354.68" y2="330.50" stroke="#555" stroke-width="0.5"/>
<line x1="355.81" y1="329.40" x2="355.81" y2="330.50" stroke="#555" stroke-width="0.5"/>
<line x1="356.81" y1="329.40" x2="356.81" y2="330.50" stroke="#555" stroke-width="0.5"/>
<line x1="357.70" y1="329.40" x2="357.70" y2="331.40" stroke="#333" stroke-width="0.9"/>
<text x="357.7" y="336.0" font-size="5.0" text-anchor="middle" font-weight="bold" fill="#222">1,000</text>
<line x1="363.57" y1="329.40" x2="363.57" y2="330.50" stroke="#555" stroke-width="0.5"/>
<line x1="367.00" y1="329.40" x2="367.00" y2="330.50" stroke="#555" stroke-width="0.5"/>
<line x1="369.44" y1="329.40" x2="369.44" y2="330.50" stroke="#555" stroke-width="0.5"/>
<line x1="371.33" y1="329.40" x2="371.33" y2="330.50" stroke="#555" stroke-width="0.5"/>
<line x1="372.87" y1="329.40" x2="372.87" y2="330.50" stroke="#555" stroke-width="0.5"/>
<line x1="374.18" y1="329.40" x2="374.18" y2="330.50" stroke="#555" stroke-width="0.5"/>
<line x1="375.31" y1="329.40" x2="375.31" y2="330.50" stroke="#555" stroke-width="0.5"/>
<line x1="376.31" y1="329.40" x2="376.31" y2="330.50" stroke="#555" stroke-width="0.5"/>
<line x1="377.20" y1="329.40" x2="377.20" y2="331.40" stroke="#333" stroke-width="0.9"/>
<text x="377.2" y="336.0" font-size="5.0" text-anchor="middle" font-weight="bold" fill="#222">10,000</text>
<text x="0" y="0" font-size="5.6" font-weight="bold" text-anchor="middle" fill="#222" transform="translate(268.7,291.5) rotate(-90)">% Survival</text>
<text x="329.4" y="344.4" font-size="5.6" text-anchor="middle" font-weight="bold" fill="#222" textLength="54" lengthAdjust="spacingAndGlyphs">Concentration (ng/ml)</text>
<text x="328.4" y="243.5" font-size="7.0" text-anchor="middle" font-weight="bold" fill="#111">NCI-N87</text>
<text x="328.4" y="251.9" font-size="6.9" text-anchor="middle" fill="#1e1e1e">HER2 3+</text>
<polyline points="289.0,263.6 290.8,263.6 292.7,263.6 294.5,263.6 296.4,263.6 298.2,263.6 300.0,263.6 301.9,263.7 303.7,263.7 305.5,263.7 307.4,263.8 309.2,263.9 311.1,264.1 312.9,264.4 314.7,264.8 316.6,265.4 318.4,266.3 320.2,267.7 322.1,269.7 323.9,272.5 325.8,276.3 327.6,281.3 329.4,287.2 331.3,293.7 333.1,300.3 334.9,306.4 336.8,311.5 338.6,315.6 340.5,318.6 342.3,320.7 344.1,322.2 346.0,323.2 347.8,323.8 349.6,324.3 351.5,324.6 353.3,324.7 355.2,324.9 357.0,324.9 358.8,325.0 360.7,325.0 362.5,325.1 364.3,325.1 366.2,325.1 368.0,325.1 369.9,325.1 371.7,325.1 373.5,325.1 375.4,325.1 377.2,325.1" fill="none" stroke="#34479a" stroke-width="0.9"/>
<rect x="288.0" y="262.6" width="2.0" height="2.0" fill="#34479a"/>
<rect x="298.2" y="262.6" width="2.0" height="2.0" fill="#34479a"/>
<rect x="307.5" y="262.9" width="2.0" height="2.0" fill="#34479a"/>
<rect x="317.7" y="265.5" width="2.0" height="2.0" fill="#34479a"/>
<rect x="327.0" y="281.5" width="2.0" height="2.0" fill="#34479a"/>
<rect x="337.2" y="313.7" width="2.0" height="2.0" fill="#34479a"/>
<rect x="346.5" y="322.7" width="2.0" height="2.0" fill="#34479a"/>
<rect x="356.7" y="324.0" width="2.0" height="2.0" fill="#34479a"/>
<rect x="366.0" y="324.1" width="2.0" height="2.0" fill="#34479a"/>
<rect x="376.2" y="324.1" width="2.0" height="2.0" fill="#34479a"/>
<polyline points="289.0,265.5 290.8,265.5 292.7,265.5 294.5,265.6 296.4,265.7 298.2,265.7 300.0,265.9 301.9,266.0 303.7,266.3 305.5,266.6 307.4,267.1 309.2,267.8 311.1,268.7 312.9,270.0 314.7,271.7 316.6,273.9 318.4,276.7 320.2,280.2 322.1,284.4 323.9,289.2 325.8,294.2 327.6,299.4 329.4,304.3 331.3,308.7 333.1,312.5 334.9,315.6 336.8,318.1 338.6,320.0 340.5,321.4 342.3,322.4 344.1,323.2 346.0,323.7 347.8,324.1 349.6,324.4 351.5,324.6 353.3,324.7 355.2,324.8 357.0,324.9 358.8,325.0 360.7,325.0 362.5,325.0 364.3,325.1 366.2,325.1 368.0,325.1 369.9,325.1 371.7,325.1 373.5,325.1 375.4,325.1 377.2,325.1" fill="none" stroke="#d9343c" stroke-width="0.9"/>
<rect x="288.0" y="264.5" width="2.0" height="2.0" fill="#d9343c"/>
<rect x="298.2" y="264.8" width="2.0" height="2.0" fill="#d9343c"/>
<rect x="307.5" y="266.5" width="2.0" height="2.0" fill="#d9343c"/>
<rect x="317.7" y="276.2" width="2.0" height="2.0" fill="#d9343c"/>
<rect x="327.0" y="299.5" width="2.0" height="2.0" fill="#d9343c"/>
<rect x="337.2" y="318.6" width="2.0" height="2.0" fill="#d9343c"/>
<rect x="346.5" y="323.1" width="2.0" height="2.0" fill="#d9343c"/>
<rect x="356.7" y="323.9" width="2.0" height="2.0" fill="#d9343c"/>
<rect x="366.0" y="324.1" width="2.0" height="2.0" fill="#d9343c"/>
<rect x="376.2" y="324.1" width="2.0" height="2.0" fill="#d9343c"/>
<line x1="404.50" y1="254.90" x2="404.50" y2="329.40" stroke="#333" stroke-width="1.1"/>
<line x1="404.50" y1="328.90" x2="501.80" y2="328.90" stroke="#333" stroke-width="1.1"/>
<line x1="402.50" y1="328.90" x2="404.50" y2="328.90" stroke="#333" stroke-width="0.9"/>
<text x="401.9" y="330.7" font-size="5.0" text-anchor="end" font-weight="bold" fill="#222">0</text>
<line x1="402.50" y1="316.65" x2="404.50" y2="316.65" stroke="#333" stroke-width="0.9"/>
<text x="401.9" y="318.4" font-size="5.0" text-anchor="end" font-weight="bold" fill="#222">20</text>
<line x1="402.50" y1="304.40" x2="404.50" y2="304.40" stroke="#333" stroke-width="0.9"/>
<text x="401.9" y="306.2" font-size="5.0" text-anchor="end" font-weight="bold" fill="#222">40</text>
<line x1="402.50" y1="292.15" x2="404.50" y2="292.15" stroke="#333" stroke-width="0.9"/>
<text x="401.9" y="293.9" font-size="5.0" text-anchor="end" font-weight="bold" fill="#222">60</text>
<line x1="402.50" y1="279.90" x2="404.50" y2="279.90" stroke="#333" stroke-width="0.9"/>
<text x="401.9" y="281.7" font-size="5.0" text-anchor="end" font-weight="bold" fill="#222">80</text>
<line x1="402.50" y1="267.65" x2="404.50" y2="267.65" stroke="#333" stroke-width="0.9"/>
<text x="401.9" y="269.4" font-size="5.0" text-anchor="end" font-weight="bold" fill="#222">100</text>
<line x1="402.50" y1="255.40" x2="404.50" y2="255.40" stroke="#333" stroke-width="0.9"/>
<text x="401.9" y="257.2" font-size="5.0" text-anchor="end" font-weight="bold" fill="#222">120</text>
<line x1="404.50" y1="328.90" x2="404.50" y2="330.90" stroke="#333" stroke-width="0.9"/>
<text x="404.5" y="335.5" font-size="5.0" text-anchor="middle" font-weight="bold" fill="#222">0.1</text>
<line x1="410.36" y1="328.90" x2="410.36" y2="330.00" stroke="#555" stroke-width="0.5"/>
<line x1="413.78" y1="328.90" x2="413.78" y2="330.00" stroke="#555" stroke-width="0.5"/>
<line x1="416.22" y1="328.90" x2="416.22" y2="330.00" stroke="#555" stroke-width="0.5"/>
<line x1="418.10" y1="328.90" x2="418.10" y2="330.00" stroke="#555" stroke-width="0.5"/>
<line x1="419.64" y1="328.90" x2="419.64" y2="330.00" stroke="#555" stroke-width="0.5"/>
<line x1="420.95" y1="328.90" x2="420.95" y2="330.00" stroke="#555" stroke-width="0.5"/>
<line x1="422.07" y1="328.90" x2="422.07" y2="330.00" stroke="#555" stroke-width="0.5"/>
<line x1="423.07" y1="328.90" x2="423.07" y2="330.00" stroke="#555" stroke-width="0.5"/>
<line x1="423.96" y1="328.90" x2="423.96" y2="330.90" stroke="#333" stroke-width="0.9"/>
<text x="424.0" y="335.5" font-size="5.0" text-anchor="middle" font-weight="bold" fill="#222">1</text>
<line x1="429.82" y1="328.90" x2="429.82" y2="330.00" stroke="#555" stroke-width="0.5"/>
<line x1="433.24" y1="328.90" x2="433.24" y2="330.00" stroke="#555" stroke-width="0.5"/>
<line x1="435.68" y1="328.90" x2="435.68" y2="330.00" stroke="#555" stroke-width="0.5"/>
<line x1="437.56" y1="328.90" x2="437.56" y2="330.00" stroke="#555" stroke-width="0.5"/>
<line x1="439.10" y1="328.90" x2="439.10" y2="330.00" stroke="#555" stroke-width="0.5"/>
<line x1="440.41" y1="328.90" x2="440.41" y2="330.00" stroke="#555" stroke-width="0.5"/>
<line x1="441.53" y1="328.90" x2="441.53" y2="330.00" stroke="#555" stroke-width="0.5"/>
<line x1="442.53" y1="328.90" x2="442.53" y2="330.00" stroke="#555" stroke-width="0.5"/>
<line x1="443.42" y1="328.90" x2="443.42" y2="330.90" stroke="#333" stroke-width="0.9"/>
<text x="443.4" y="335.5" font-size="5.0" text-anchor="middle" font-weight="bold" fill="#222">10</text>
<line x1="449.28" y1="328.90" x2="449.28" y2="330.00" stroke="#555" stroke-width="0.5"/>
<line x1="452.70" y1="328.90" x2="452.70" y2="330.00" stroke="#555" stroke-width="0.5"/>
<line x1="455.14" y1="328.90" x2="455.14" y2="330.00" stroke="#555" stroke-width="0.5"/>
<line x1="457.02" y1="328.90" x2="457.02" y2="330.00" stroke="#555" stroke-width="0.5"/>
<line x1="458.56" y1="328.90" x2="458.56" y2="330.00" stroke="#555" stroke-width="0.5"/>
<line x1="459.87" y1="328.90" x2="459.87" y2="330.00" stroke="#555" stroke-width="0.5"/>
<line x1="460.99" y1="328.90" x2="460.99" y2="330.00" stroke="#555" stroke-width="0.5"/>
<line x1="461.99" y1="328.90" x2="461.99" y2="330.00" stroke="#555" stroke-width="0.5"/>
<line x1="462.88" y1="328.90" x2="462.88" y2="330.90" stroke="#333" stroke-width="0.9"/>
<text x="462.9" y="335.5" font-size="5.0" text-anchor="middle" font-weight="bold" fill="#222">100</text>
<line x1="468.74" y1="328.90" x2="468.74" y2="330.00" stroke="#555" stroke-width="0.5"/>
<line x1="472.16" y1="328.90" x2="472.16" y2="330.00" stroke="#555" stroke-width="0.5"/>
<line x1="474.60" y1="328.90" x2="474.60" y2="330.00" stroke="#555" stroke-width="0.5"/>
<line x1="476.48" y1="328.90" x2="476.48" y2="330.00" stroke="#555" stroke-width="0.5"/>
<line x1="478.02" y1="328.90" x2="478.02" y2="330.00" stroke="#555" stroke-width="0.5"/>
<line x1="479.33" y1="328.90" x2="479.33" y2="330.00" stroke="#555" stroke-width="0.5"/>
<line x1="480.45" y1="328.90" x2="480.45" y2="330.00" stroke="#555" stroke-width="0.5"/>
<line x1="481.45" y1="328.90" x2="481.45" y2="330.00" stroke="#555" stroke-width="0.5"/>
<line x1="482.34" y1="328.90" x2="482.34" y2="330.90" stroke="#333" stroke-width="0.9"/>
<text x="482.3" y="335.5" font-size="5.0" text-anchor="middle" font-weight="bold" fill="#222">1,000</text>
<line x1="488.20" y1="328.90" x2="488.20" y2="330.00" stroke="#555" stroke-width="0.5"/>
<line x1="491.62" y1="328.90" x2="491.62" y2="330.00" stroke="#555" stroke-width="0.5"/>
<line x1="494.06" y1="328.90" x2="494.06" y2="330.00" stroke="#555" stroke-width="0.5"/>
<line x1="495.94" y1="328.90" x2="495.94" y2="330.00" stroke="#555" stroke-width="0.5"/>
<line x1="497.48" y1="328.90" x2="497.48" y2="330.00" stroke="#555" stroke-width="0.5"/>
<line x1="498.79" y1="328.90" x2="498.79" y2="330.00" stroke="#555" stroke-width="0.5"/>
<line x1="499.91" y1="328.90" x2="499.91" y2="330.00" stroke="#555" stroke-width="0.5"/>
<line x1="500.91" y1="328.90" x2="500.91" y2="330.00" stroke="#555" stroke-width="0.5"/>
<line x1="501.80" y1="328.90" x2="501.80" y2="330.90" stroke="#333" stroke-width="0.9"/>
<text x="501.8" y="335.5" font-size="5.0" text-anchor="middle" font-weight="bold" fill="#222">10,000</text>
<text x="0" y="0" font-size="5.6" font-weight="bold" text-anchor="middle" fill="#222" transform="translate(393.5,291.1) rotate(-90)">% Survival</text>
<text x="454.1" y="343.9" font-size="5.6" text-anchor="middle" font-weight="bold" fill="#222" textLength="54" lengthAdjust="spacingAndGlyphs">Concentration (ng/ml)</text>
<text x="453.1" y="243.5" font-size="7.0" text-anchor="middle" font-weight="bold" fill="#111">SK-OV-3</text>
<text x="453.1" y="251.9" font-size="6.9" text-anchor="middle" fill="#1e1e1e">HER2 2+</text>
<polyline points="413.8,263.7 415.6,263.9 417.5,264.1 419.3,264.3 421.1,264.6 423.0,264.8 424.8,265.2 426.6,265.5 428.5,265.9 430.3,266.4 432.1,266.9 434.0,267.4 435.8,268.0 437.6,268.6 439.5,269.3 441.3,270.1 443.1,270.9 445.0,271.8 446.8,272.8 448.6,273.9 450.5,275.0 452.3,276.2 454.1,277.4 456.0,278.7 457.8,280.1 459.6,281.5 461.5,283.0 463.3,284.5 465.1,286.0 467.0,287.5 468.8,289.1 470.6,290.6 472.5,292.1 474.3,293.6 476.1,295.0 478.0,296.4 479.8,297.7 481.6,299.0 483.5,300.2 485.3,301.4 487.1,302.5 489.0,303.5 490.8,304.4 492.6,305.3 494.5,306.1 496.3,306.8 498.1,307.5 500.0,308.1 501.8,308.6" fill="none" stroke="#34479a" stroke-width="0.9"/>
<rect x="412.8" y="266.0" width="2.0" height="2.0" fill="#34479a"/>
<rect x="423.0" y="264.2" width="2.0" height="2.0" fill="#34479a"/>
<rect x="432.2" y="263.0" width="2.0" height="2.0" fill="#34479a"/>
<rect x="442.4" y="265.4" width="2.0" height="2.0" fill="#34479a"/>
<rect x="451.7" y="281.4" width="2.0" height="2.0" fill="#34479a"/>
<rect x="461.9" y="288.1" width="2.0" height="2.0" fill="#34479a"/>
<rect x="471.2" y="293.0" width="2.0" height="2.0" fill="#34479a"/>
<rect x="481.3" y="298.5" width="2.0" height="2.0" fill="#34479a"/>
<rect x="490.6" y="304.6" width="2.0" height="2.0" fill="#34479a"/>
<rect x="500.8" y="311.4" width="2.0" height="2.0" fill="#34479a"/>
<polyline points="413.8,265.2 415.6,265.2 417.5,265.2 419.3,265.2 421.1,265.2 423.0,265.2 424.8,265.2 426.6,265.2 428.5,265.3 430.3,265.3 432.1,265.4 434.0,265.5 435.8,265.7 437.6,266.0 439.5,266.4 441.3,267.1 443.1,268.3 445.0,270.0 446.8,272.5 448.6,276.1 450.5,280.9 452.3,286.7 454.1,293.2 456.0,299.6 457.8,305.3 459.6,310.0 461.5,313.4 463.3,315.8 465.1,317.4 467.0,318.5 468.8,319.2 470.6,319.6 472.5,319.9 474.3,320.0 476.1,320.2 478.0,320.2 479.8,320.3 481.6,320.3 483.5,320.3 485.3,320.3 487.1,320.3 489.0,320.3 490.8,320.3 492.6,320.3 494.5,320.3 496.3,320.3 498.1,320.3 500.0,320.3 501.8,320.3" fill="none" stroke="#d9343c" stroke-width="0.9"/>
<rect x="412.8" y="266.0" width="2.0" height="2.0" fill="#d9343c"/>
<rect x="423.0" y="264.2" width="2.0" height="2.0" fill="#d9343c"/>
<rect x="432.2" y="263.6" width="2.0" height="2.0" fill="#d9343c"/>
<rect x="442.4" y="266.6" width="2.0" height="2.0" fill="#d9343c"/>
<rect x="451.7" y="291.1" width="2.0" height="2.0" fill="#d9343c"/>
<rect x="461.9" y="314.4" width="2.0" height="2.0" fill="#d9343c"/>
<rect x="471.2" y="316.3" width="2.0" height="2.0" fill="#d9343c"/>
<rect x="481.3" y="318.1" width="2.0" height="2.0" fill="#d9343c"/>
<rect x="490.6" y="319.9" width="2.0" height="2.0" fill="#d9343c"/>
<rect x="500.8" y="322.4" width="2.0" height="2.0" fill="#d9343c"/>
<line x1="24.70" y1="375.00" x2="24.70" y2="450.10" stroke="#333" stroke-width="1.1"/>
<line x1="24.70" y1="449.60" x2="123.10" y2="449.60" stroke="#333" stroke-width="1.1"/>
<line x1="22.70" y1="449.60" x2="24.70" y2="449.60" stroke="#333" stroke-width="0.9"/>
<text x="22.1" y="451.4" font-size="5.0" text-anchor="end" font-weight="bold" fill="#222">0</text>
<line x1="22.70" y1="437.25" x2="24.70" y2="437.25" stroke="#333" stroke-width="0.9"/>
<text x="22.1" y="439.1" font-size="5.0" text-anchor="end" font-weight="bold" fill="#222">20</text>
<line x1="22.70" y1="424.90" x2="24.70" y2="424.90" stroke="#333" stroke-width="0.9"/>
<text x="22.1" y="426.7" font-size="5.0" text-anchor="end" font-weight="bold" fill="#222">40</text>
<line x1="22.70" y1="412.55" x2="24.70" y2="412.55" stroke="#333" stroke-width="0.9"/>
<text x="22.1" y="414.4" font-size="5.0" text-anchor="end" font-weight="bold" fill="#222">60</text>
<line x1="22.70" y1="400.20" x2="24.70" y2="400.20" stroke="#333" stroke-width="0.9"/>
<text x="22.1" y="402.0" font-size="5.0" text-anchor="end" font-weight="bold" fill="#222">80</text>
<line x1="22.70" y1="387.85" x2="24.70" y2="387.85" stroke="#333" stroke-width="0.9"/>
<text x="22.1" y="389.7" font-size="5.0" text-anchor="end" font-weight="bold" fill="#222">100</text>
<line x1="22.70" y1="375.50" x2="24.70" y2="375.50" stroke="#333" stroke-width="0.9"/>
<text x="22.1" y="377.3" font-size="5.0" text-anchor="end" font-weight="bold" fill="#222">120</text>
<line x1="24.70" y1="449.60" x2="24.70" y2="451.60" stroke="#333" stroke-width="0.9"/>
<text x="24.7" y="456.2" font-size="5.0" text-anchor="middle" font-weight="bold" fill="#222">0.1</text>
<line x1="30.62" y1="449.60" x2="30.62" y2="450.70" stroke="#555" stroke-width="0.5"/>
<line x1="34.09" y1="449.60" x2="34.09" y2="450.70" stroke="#555" stroke-width="0.5"/>
<line x1="36.55" y1="449.60" x2="36.55" y2="450.70" stroke="#555" stroke-width="0.5"/>
<line x1="38.46" y1="449.60" x2="38.46" y2="450.70" stroke="#555" stroke-width="0.5"/>
<line x1="40.01" y1="449.60" x2="40.01" y2="450.70" stroke="#555" stroke-width="0.5"/>
<line x1="41.33" y1="449.60" x2="41.33" y2="450.70" stroke="#555" stroke-width="0.5"/>
<line x1="42.47" y1="449.60" x2="42.47" y2="450.70" stroke="#555" stroke-width="0.5"/>
<line x1="43.48" y1="449.60" x2="43.48" y2="450.70" stroke="#555" stroke-width="0.5"/>
<line x1="44.38" y1="449.60" x2="44.38" y2="451.60" stroke="#333" stroke-width="0.9"/>
<text x="44.4" y="456.2" font-size="5.0" text-anchor="middle" font-weight="bold" fill="#222">1</text>
<line x1="50.30" y1="449.60" x2="50.30" y2="450.70" stroke="#555" stroke-width="0.5"/>
<line x1="53.77" y1="449.60" x2="53.77" y2="450.70" stroke="#555" stroke-width="0.5"/>
<line x1="56.23" y1="449.60" x2="56.23" y2="450.70" stroke="#555" stroke-width="0.5"/>
<line x1="58.14" y1="449.60" x2="58.14" y2="450.70" stroke="#555" stroke-width="0.5"/>
<line x1="59.69" y1="449.60" x2="59.69" y2="450.70" stroke="#555" stroke-width="0.5"/>
<line x1="61.01" y1="449.60" x2="61.01" y2="450.70" stroke="#555" stroke-width="0.5"/>
<line x1="62.15" y1="449.60" x2="62.15" y2="450.70" stroke="#555" stroke-width="0.5"/>
<line x1="63.16" y1="449.60" x2="63.16" y2="450.70" stroke="#555" stroke-width="0.5"/>
<line x1="64.06" y1="449.60" x2="64.06" y2="451.60" stroke="#333" stroke-width="0.9"/>
<text x="64.1" y="456.2" font-size="5.0" text-anchor="middle" font-weight="bold" fill="#222">10</text>
<line x1="69.98" y1="449.60" x2="69.98" y2="450.70" stroke="#555" stroke-width="0.5"/>
<line x1="73.45" y1="449.60" x2="73.45" y2="450.70" stroke="#555" stroke-width="0.5"/>
<line x1="75.91" y1="449.60" x2="75.91" y2="450.70" stroke="#555" stroke-width="0.5"/>
<line x1="77.82" y1="449.60" x2="77.82" y2="450.70" stroke="#555" stroke-width="0.5"/>
<line x1="79.37" y1="449.60" x2="79.37" y2="450.70" stroke="#555" stroke-width="0.5"/>
<line x1="80.69" y1="449.60" x2="80.69" y2="450.70" stroke="#555" stroke-width="0.5"/>
<line x1="81.83" y1="449.60" x2="81.83" y2="450.70" stroke="#555" stroke-width="0.5"/>
<line x1="82.84" y1="449.60" x2="82.84" y2="450.70" stroke="#555" stroke-width="0.5"/>
<line x1="83.74" y1="449.60" x2="83.74" y2="451.60" stroke="#333" stroke-width="0.9"/>
<text x="83.7" y="456.2" font-size="5.0" text-anchor="middle" font-weight="bold" fill="#222">100</text>
<line x1="89.66" y1="449.60" x2="89.66" y2="450.70" stroke="#555" stroke-width="0.5"/>
<line x1="93.13" y1="449.60" x2="93.13" y2="450.70" stroke="#555" stroke-width="0.5"/>
<line x1="95.59" y1="449.60" x2="95.59" y2="450.70" stroke="#555" stroke-width="0.5"/>
<line x1="97.50" y1="449.60" x2="97.50" y2="450.70" stroke="#555" stroke-width="0.5"/>
<line x1="99.05" y1="449.60" x2="99.05" y2="450.70" stroke="#555" stroke-width="0.5"/>
<line x1="100.37" y1="449.60" x2="100.37" y2="450.70" stroke="#555" stroke-width="0.5"/>
<line x1="101.51" y1="449.60" x2="101.51" y2="450.70" stroke="#555" stroke-width="0.5"/>
<line x1="102.52" y1="449.60" x2="102.52" y2="450.70" stroke="#555" stroke-width="0.5"/>
<line x1="103.42" y1="449.60" x2="103.42" y2="451.60" stroke="#333" stroke-width="0.9"/>
<text x="103.4" y="456.2" font-size="5.0" text-anchor="middle" font-weight="bold" fill="#222">1,000</text>
<line x1="109.34" y1="449.60" x2="109.34" y2="450.70" stroke="#555" stroke-width="0.5"/>
<line x1="112.81" y1="449.60" x2="112.81" y2="450.70" stroke="#555" stroke-width="0.5"/>
<line x1="115.27" y1="449.60" x2="115.27" y2="450.70" stroke="#555" stroke-width="0.5"/>
<line x1="117.18" y1="449.60" x2="117.18" y2="450.70" stroke="#555" stroke-width="0.5"/>
<line x1="118.73" y1="449.60" x2="118.73" y2="450.70" stroke="#555" stroke-width="0.5"/>
<line x1="120.05" y1="449.60" x2="120.05" y2="450.70" stroke="#555" stroke-width="0.5"/>
<line x1="121.19" y1="449.60" x2="121.19" y2="450.70" stroke="#555" stroke-width="0.5"/>
<line x1="122.20" y1="449.60" x2="122.20" y2="450.70" stroke="#555" stroke-width="0.5"/>
<line x1="123.10" y1="449.60" x2="123.10" y2="451.60" stroke="#333" stroke-width="0.9"/>
<text x="123.1" y="456.2" font-size="5.0" text-anchor="middle" font-weight="bold" fill="#222">10,000</text>
<text x="0" y="0" font-size="5.6" font-weight="bold" text-anchor="middle" fill="#222" transform="translate(13.7,411.6) rotate(-90)">% Survival</text>
<text x="74.9" y="463.0" font-size="5.6" text-anchor="middle" font-weight="bold" fill="#222" textLength="54" lengthAdjust="spacingAndGlyphs">Concentration (ng/ml)</text>
<text x="73.9" y="364.9" font-size="7.0" text-anchor="middle" font-weight="bold" fill="#111">MDA-MB-175-VII</text>
<text x="73.9" y="373.1" font-size="6.9" text-anchor="middle" fill="#1e1e1e">HER2 1+</text>
<polyline points="34.1,384.2 35.9,384.2 37.8,384.2 39.7,384.2 41.5,384.2 43.4,384.2 45.2,384.2 47.1,384.2 48.9,384.3 50.8,384.3 52.6,384.3 54.5,384.4 56.3,384.5 58.2,384.6 60.1,384.7 61.9,384.9 63.8,385.1 65.6,385.4 67.5,385.8 69.3,386.2 71.2,386.8 73.0,387.5 74.9,388.5 76.7,389.7 78.6,391.1 80.4,392.9 82.3,395.0 84.2,397.5 86.0,400.4 87.9,403.7 89.7,407.3 91.6,411.1 93.4,415.0 95.3,418.9 97.1,422.7 99.0,426.2 100.8,429.4 102.7,432.1 104.6,434.5 106.4,436.5 108.3,438.2 110.1,439.6 112.0,440.7 113.8,441.5 115.7,442.2 117.5,442.8 119.4,443.2 121.2,443.5 123.1,443.8" fill="none" stroke="#34479a" stroke-width="0.9"/>
<line x1="34.09" y1="379.16" x2="34.09" y2="389.16" stroke="#34479a" stroke-width="0.6"/>
<line x1="33.29" y1="379.16" x2="34.89" y2="379.16" stroke="#34479a" stroke-width="0.5"/>
<line x1="33.29" y1="389.16" x2="34.89" y2="389.16" stroke="#34479a" stroke-width="0.5"/>
<rect x="33.1" y="383.2" width="2.0" height="2.0" fill="#34479a"/>
<line x1="44.38" y1="379.21" x2="44.38" y2="389.21" stroke="#34479a" stroke-width="0.6"/>
<line x1="43.58" y1="379.21" x2="45.18" y2="379.21" stroke="#34479a" stroke-width="0.5"/>
<line x1="43.58" y1="389.21" x2="45.18" y2="389.21" stroke="#34479a" stroke-width="0.5"/>
<rect x="43.4" y="383.2" width="2.0" height="2.0" fill="#34479a"/>
<line x1="53.77" y1="379.38" x2="53.77" y2="389.38" stroke="#34479a" stroke-width="0.6"/>
<line x1="52.97" y1="379.38" x2="54.57" y2="379.38" stroke="#34479a" stroke-width="0.5"/>
<line x1="52.97" y1="389.38" x2="54.57" y2="389.38" stroke="#34479a" stroke-width="0.5"/>
<rect x="52.8" y="383.4" width="2.0" height="2.0" fill="#34479a"/>
<line x1="64.06" y1="380.15" x2="64.06" y2="390.15" stroke="#34479a" stroke-width="0.6"/>
<line x1="63.26" y1="380.15" x2="64.86" y2="380.15" stroke="#34479a" stroke-width="0.5"/>
<line x1="63.26" y1="390.15" x2="64.86" y2="390.15" stroke="#34479a" stroke-width="0.5"/>
<rect x="63.1" y="384.1" width="2.0" height="2.0" fill="#34479a"/>
<line x1="73.45" y1="382.74" x2="73.45" y2="392.74" stroke="#34479a" stroke-width="0.6"/>
<line x1="72.65" y1="382.74" x2="74.25" y2="382.74" stroke="#34479a" stroke-width="0.5"/>
<line x1="72.65" y1="392.74" x2="74.25" y2="392.74" stroke="#34479a" stroke-width="0.5"/>
<rect x="72.4" y="386.7" width="2.0" height="2.0" fill="#34479a"/>
<line x1="83.74" y1="391.92" x2="83.74" y2="401.92" stroke="#34479a" stroke-width="0.6"/>
<line x1="82.94" y1="391.92" x2="84.54" y2="391.92" stroke="#34479a" stroke-width="0.5"/>
<line x1="82.94" y1="401.92" x2="84.54" y2="401.92" stroke="#34479a" stroke-width="0.5"/>
<rect x="82.7" y="395.9" width="2.0" height="2.0" fill="#34479a"/>
<line x1="93.13" y1="409.40" x2="93.13" y2="419.40" stroke="#34479a" stroke-width="0.6"/>
<line x1="92.33" y1="409.40" x2="93.93" y2="409.40" stroke="#34479a" stroke-width="0.5"/>
<line x1="92.33" y1="419.40" x2="93.93" y2="419.40" stroke="#34479a" stroke-width="0.5"/>
<rect x="92.1" y="413.4" width="2.0" height="2.0" fill="#34479a"/>
<line x1="103.42" y1="428.11" x2="103.42" y2="438.11" stroke="#34479a" stroke-width="0.6"/>
<line x1="102.62" y1="428.11" x2="104.22" y2="428.11" stroke="#34479a" stroke-width="0.5"/>
<line x1="102.62" y1="438.11" x2="104.22" y2="438.11" stroke="#34479a" stroke-width="0.5"/>
<rect x="102.4" y="432.1" width="2.0" height="2.0" fill="#34479a"/>
<line x1="112.81" y1="436.07" x2="112.81" y2="446.07" stroke="#34479a" stroke-width="0.6"/>
<line x1="112.01" y1="436.07" x2="113.61" y2="436.07" stroke="#34479a" stroke-width="0.5"/>
<line x1="112.01" y1="446.07" x2="113.61" y2="446.07" stroke="#34479a" stroke-width="0.5"/>
<rect x="111.8" y="440.1" width="2.0" height="2.0" fill="#34479a"/>
<line x1="123.10" y1="438.77" x2="123.10" y2="448.77" stroke="#34479a" stroke-width="0.6"/>
<line x1="122.30" y1="438.77" x2="123.90" y2="438.77" stroke="#34479a" stroke-width="0.5"/>
<line x1="122.30" y1="448.77" x2="123.90" y2="448.77" stroke="#34479a" stroke-width="0.5"/>
<rect x="122.1" y="442.8" width="2.0" height="2.0" fill="#34479a"/>
<polyline points="34.1,391.1 35.9,391.4 37.8,391.7 39.7,392.1 41.5,392.5 43.4,392.9 45.2,393.4 47.1,394.0 48.9,394.6 50.8,395.3 52.6,396.0 54.5,396.8 56.3,397.8 58.2,398.8 60.1,399.9 61.9,401.1 63.8,402.4 65.6,403.7 67.5,405.2 69.3,406.8 71.2,408.4 73.0,410.2 74.9,411.9 76.7,413.8 78.6,415.7 80.4,417.6 82.3,419.5 84.2,421.4 86.0,423.2 87.9,425.1 89.7,426.9 91.6,428.6 93.4,430.2 95.3,431.8 97.1,433.2 99.0,434.6 100.8,435.9 102.7,437.1 104.6,438.2 106.4,439.2 108.3,440.1 110.1,440.9 112.0,441.7 113.8,442.3 115.7,442.9 117.5,443.5 119.4,444.0 121.2,444.4 123.1,444.8" fill="none" stroke="#d9343c" stroke-width="0.9"/>
<line x1="34.09" y1="387.15" x2="34.09" y2="395.15" stroke="#d9343c" stroke-width="0.6"/>
<line x1="33.29" y1="387.15" x2="34.89" y2="387.15" stroke="#d9343c" stroke-width="0.5"/>
<line x1="33.29" y1="395.15" x2="34.89" y2="395.15" stroke="#d9343c" stroke-width="0.5"/>
<rect x="33.1" y="390.1" width="2.0" height="2.0" fill="#d9343c"/>
<line x1="44.38" y1="389.18" x2="44.38" y2="397.18" stroke="#d9343c" stroke-width="0.6"/>
<line x1="43.58" y1="389.18" x2="45.18" y2="389.18" stroke="#d9343c" stroke-width="0.5"/>
<line x1="43.58" y1="397.18" x2="45.18" y2="397.18" stroke="#d9343c" stroke-width="0.5"/>
<rect x="43.4" y="392.2" width="2.0" height="2.0" fill="#d9343c"/>
<line x1="53.77" y1="392.51" x2="53.77" y2="400.51" stroke="#d9343c" stroke-width="0.6"/>
<line x1="52.97" y1="392.51" x2="54.57" y2="392.51" stroke="#d9343c" stroke-width="0.5"/>
<line x1="52.97" y1="400.51" x2="54.57" y2="400.51" stroke="#d9343c" stroke-width="0.5"/>
<rect x="52.8" y="395.5" width="2.0" height="2.0" fill="#d9343c"/>
<line x1="64.06" y1="398.57" x2="64.06" y2="406.57" stroke="#d9343c" stroke-width="0.6"/>
<line x1="63.26" y1="398.57" x2="64.86" y2="398.57" stroke="#d9343c" stroke-width="0.5"/>
<line x1="63.26" y1="406.57" x2="64.86" y2="406.57" stroke="#d9343c" stroke-width="0.5"/>
<rect x="63.1" y="401.6" width="2.0" height="2.0" fill="#d9343c"/>
<line x1="73.45" y1="406.55" x2="73.45" y2="414.55" stroke="#d9343c" stroke-width="0.6"/>
<line x1="72.65" y1="406.55" x2="74.25" y2="406.55" stroke="#d9343c" stroke-width="0.5"/>
<line x1="72.65" y1="414.55" x2="74.25" y2="414.55" stroke="#d9343c" stroke-width="0.5"/>
<rect x="72.4" y="409.6" width="2.0" height="2.0" fill="#d9343c"/>
<line x1="83.74" y1="416.94" x2="83.74" y2="424.94" stroke="#d9343c" stroke-width="0.6"/>
<line x1="82.94" y1="416.94" x2="84.54" y2="416.94" stroke="#d9343c" stroke-width="0.5"/>
<line x1="82.94" y1="424.94" x2="84.54" y2="424.94" stroke="#d9343c" stroke-width="0.5"/>
<rect x="82.7" y="419.9" width="2.0" height="2.0" fill="#d9343c"/>
<line x1="93.13" y1="425.96" x2="93.13" y2="433.96" stroke="#d9343c" stroke-width="0.6"/>
<line x1="92.33" y1="425.96" x2="93.93" y2="425.96" stroke="#d9343c" stroke-width="0.5"/>
<line x1="92.33" y1="433.96" x2="93.93" y2="433.96" stroke="#d9343c" stroke-width="0.5"/>
<rect x="92.1" y="429.0" width="2.0" height="2.0" fill="#d9343c"/>
<line x1="103.42" y1="433.51" x2="103.42" y2="441.51" stroke="#d9343c" stroke-width="0.6"/>
<line x1="102.62" y1="433.51" x2="104.22" y2="433.51" stroke="#d9343c" stroke-width="0.5"/>
<line x1="102.62" y1="441.51" x2="104.22" y2="441.51" stroke="#d9343c" stroke-width="0.5"/>
<rect x="102.4" y="436.5" width="2.0" height="2.0" fill="#d9343c"/>
<line x1="112.81" y1="437.97" x2="112.81" y2="445.97" stroke="#d9343c" stroke-width="0.6"/>
<line x1="112.01" y1="437.97" x2="113.61" y2="437.97" stroke="#d9343c" stroke-width="0.5"/>
<line x1="112.01" y1="445.97" x2="113.61" y2="445.97" stroke="#d9343c" stroke-width="0.5"/>
<rect x="111.8" y="441.0" width="2.0" height="2.0" fill="#d9343c"/>
<line x1="123.10" y1="440.79" x2="123.10" y2="448.79" stroke="#d9343c" stroke-width="0.6"/>
<line x1="122.30" y1="440.79" x2="123.90" y2="440.79" stroke="#d9343c" stroke-width="0.5"/>
<line x1="122.30" y1="448.79" x2="123.90" y2="448.79" stroke="#d9343c" stroke-width="0.5"/>
<rect x="122.1" y="443.8" width="2.0" height="2.0" fill="#d9343c"/>
<line x1="149.10" y1="374.90" x2="149.10" y2="450.10" stroke="#333" stroke-width="1.1"/>
<line x1="149.10" y1="449.60" x2="246.60" y2="449.60" stroke="#333" stroke-width="1.1"/>
<line x1="147.10" y1="449.60" x2="149.10" y2="449.60" stroke="#333" stroke-width="0.9"/>
<text x="146.5" y="451.4" font-size="5.0" text-anchor="end" font-weight="bold" fill="#222">0</text>
<line x1="147.10" y1="437.23" x2="149.10" y2="437.23" stroke="#333" stroke-width="0.9"/>
<text x="146.5" y="439.0" font-size="5.0" text-anchor="end" font-weight="bold" fill="#222">20</text>
<line x1="147.10" y1="424.87" x2="149.10" y2="424.87" stroke="#333" stroke-width="0.9"/>
<text x="146.5" y="426.7" font-size="5.0" text-anchor="end" font-weight="bold" fill="#222">40</text>
<line x1="147.10" y1="412.50" x2="149.10" y2="412.50" stroke="#333" stroke-width="0.9"/>
<text x="146.5" y="414.3" font-size="5.0" text-anchor="end" font-weight="bold" fill="#222">60</text>
<line x1="147.10" y1="400.13" x2="149.10" y2="400.13" stroke="#333" stroke-width="0.9"/>
<text x="146.5" y="401.9" font-size="5.0" text-anchor="end" font-weight="bold" fill="#222">80</text>
<line x1="147.10" y1="387.77" x2="149.10" y2="387.77" stroke="#333" stroke-width="0.9"/>
<text x="146.5" y="389.6" font-size="5.0" text-anchor="end" font-weight="bold" fill="#222">100</text>
<line x1="147.10" y1="375.40" x2="149.10" y2="375.40" stroke="#333" stroke-width="0.9"/>
<text x="146.5" y="377.2" font-size="5.0" text-anchor="end" font-weight="bold" fill="#222">120</text>
<line x1="149.10" y1="449.60" x2="149.10" y2="451.60" stroke="#333" stroke-width="0.9"/>
<text x="149.1" y="456.2" font-size="5.0" text-anchor="middle" font-weight="bold" fill="#222">0.1</text>
<line x1="154.97" y1="449.60" x2="154.97" y2="450.70" stroke="#555" stroke-width="0.5"/>
<line x1="158.40" y1="449.60" x2="158.40" y2="450.70" stroke="#555" stroke-width="0.5"/>
<line x1="160.84" y1="449.60" x2="160.84" y2="450.70" stroke="#555" stroke-width="0.5"/>
<line x1="162.73" y1="449.60" x2="162.73" y2="450.70" stroke="#555" stroke-width="0.5"/>
<line x1="164.27" y1="449.60" x2="164.27" y2="450.70" stroke="#555" stroke-width="0.5"/>
<line x1="165.58" y1="449.60" x2="165.58" y2="450.70" stroke="#555" stroke-width="0.5"/>
<line x1="166.71" y1="449.60" x2="166.71" y2="450.70" stroke="#555" stroke-width="0.5"/>
<line x1="167.71" y1="449.60" x2="167.71" y2="450.70" stroke="#555" stroke-width="0.5"/>
<line x1="168.60" y1="449.60" x2="168.60" y2="451.60" stroke="#333" stroke-width="0.9"/>
<text x="168.6" y="456.2" font-size="5.0" text-anchor="middle" font-weight="bold" fill="#222">1</text>
<line x1="174.47" y1="449.60" x2="174.47" y2="450.70" stroke="#555" stroke-width="0.5"/>
<line x1="177.90" y1="449.60" x2="177.90" y2="450.70" stroke="#555" stroke-width="0.5"/>
<line x1="180.34" y1="449.60" x2="180.34" y2="450.70" stroke="#555" stroke-width="0.5"/>
<line x1="182.23" y1="449.60" x2="182.23" y2="450.70" stroke="#555" stroke-width="0.5"/>
<line x1="183.77" y1="449.60" x2="183.77" y2="450.70" stroke="#555" stroke-width="0.5"/>
<line x1="185.08" y1="449.60" x2="185.08" y2="450.70" stroke="#555" stroke-width="0.5"/>
<line x1="186.21" y1="449.60" x2="186.21" y2="450.70" stroke="#555" stroke-width="0.5"/>
<line x1="187.21" y1="449.60" x2="187.21" y2="450.70" stroke="#555" stroke-width="0.5"/>
<line x1="188.10" y1="449.60" x2="188.10" y2="451.60" stroke="#333" stroke-width="0.9"/>
<text x="188.1" y="456.2" font-size="5.0" text-anchor="middle" font-weight="bold" fill="#222">10</text>
<line x1="193.97" y1="449.60" x2="193.97" y2="450.70" stroke="#555" stroke-width="0.5"/>
<line x1="197.40" y1="449.60" x2="197.40" y2="450.70" stroke="#555" stroke-width="0.5"/>
<line x1="199.84" y1="449.60" x2="199.84" y2="450.70" stroke="#555" stroke-width="0.5"/>
<line x1="201.73" y1="449.60" x2="201.73" y2="450.70" stroke="#555" stroke-width="0.5"/>
<line x1="203.27" y1="449.60" x2="203.27" y2="450.70" stroke="#555" stroke-width="0.5"/>
<line x1="204.58" y1="449.60" x2="204.58" y2="450.70" stroke="#555" stroke-width="0.5"/>
<line x1="205.71" y1="449.60" x2="205.71" y2="450.70" stroke="#555" stroke-width="0.5"/>
<line x1="206.71" y1="449.60" x2="206.71" y2="450.70" stroke="#555" stroke-width="0.5"/>
<line x1="207.60" y1="449.60" x2="207.60" y2="451.60" stroke="#333" stroke-width="0.9"/>
<text x="207.6" y="456.2" font-size="5.0" text-anchor="middle" font-weight="bold" fill="#222">100</text>
<line x1="213.47" y1="449.60" x2="213.47" y2="450.70" stroke="#555" stroke-width="0.5"/>
<line x1="216.90" y1="449.60" x2="216.90" y2="450.70" stroke="#555" stroke-width="0.5"/>
<line x1="219.34" y1="449.60" x2="219.34" y2="450.70" stroke="#555" stroke-width="0.5"/>
<line x1="221.23" y1="449.60" x2="221.23" y2="450.70" stroke="#555" stroke-width="0.5"/>
<line x1="222.77" y1="449.60" x2="222.77" y2="450.70" stroke="#555" stroke-width="0.5"/>
<line x1="224.08" y1="449.60" x2="224.08" y2="450.70" stroke="#555" stroke-width="0.5"/>
<line x1="225.21" y1="449.60" x2="225.21" y2="450.70" stroke="#555" stroke-width="0.5"/>
<line x1="226.21" y1="449.60" x2="226.21" y2="450.70" stroke="#555" stroke-width="0.5"/>
<line x1="227.10" y1="449.60" x2="227.10" y2="451.60" stroke="#333" stroke-width="0.9"/>
<text x="227.1" y="456.2" font-size="5.0" text-anchor="middle" font-weight="bold" fill="#222">1,000</text>
<line x1="232.97" y1="449.60" x2="232.97" y2="450.70" stroke="#555" stroke-width="0.5"/>
<line x1="236.40" y1="449.60" x2="236.40" y2="450.70" stroke="#555" stroke-width="0.5"/>
<line x1="238.84" y1="449.60" x2="238.84" y2="450.70" stroke="#555" stroke-width="0.5"/>
<line x1="240.73" y1="449.60" x2="240.73" y2="450.70" stroke="#555" stroke-width="0.5"/>
<line x1="242.27" y1="449.60" x2="242.27" y2="450.70" stroke="#555" stroke-width="0.5"/>
<line x1="243.58" y1="449.60" x2="243.58" y2="450.70" stroke="#555" stroke-width="0.5"/>
<line x1="244.71" y1="449.60" x2="244.71" y2="450.70" stroke="#555" stroke-width="0.5"/>
<line x1="245.71" y1="449.60" x2="245.71" y2="450.70" stroke="#555" stroke-width="0.5"/>
<line x1="246.60" y1="449.60" x2="246.60" y2="451.60" stroke="#333" stroke-width="0.9"/>
<text x="246.6" y="456.2" font-size="5.0" text-anchor="middle" font-weight="bold" fill="#222">10,000</text>
<text x="0" y="0" font-size="5.6" font-weight="bold" text-anchor="middle" fill="#222" transform="translate(138.1,411.5) rotate(-90)">% Survival</text>
<text x="198.8" y="463.2" font-size="5.6" text-anchor="middle" font-weight="bold" fill="#222" textLength="54" lengthAdjust="spacingAndGlyphs">Concentration (ng/ml)</text>
<text x="197.8" y="362.1" font-size="7.0" text-anchor="middle" font-weight="bold" fill="#111">ZR-75-1</text>
<text x="197.8" y="370.3" font-size="6.9" text-anchor="middle" fill="#1e1e1e">HER2 1+</text>
<polyline points="158.4,386.0 160.2,386.0 162.1,386.0 163.9,386.1 165.8,386.1 167.6,386.1 169.4,386.1 171.3,386.2 173.1,386.2 174.9,386.3 176.8,386.4 178.6,386.4 180.5,386.5 182.3,386.6 184.1,386.8 186.0,386.9 187.8,387.1 189.6,387.3 191.5,387.5 193.3,387.8 195.2,388.1 197.0,388.5 198.8,388.9 200.7,389.4 202.5,390.0 204.3,390.7 206.2,391.5 208.0,392.4 209.9,393.4 211.7,394.6 213.5,395.9 215.4,397.4 217.2,399.1 219.0,400.9 220.9,403.0 222.7,405.3 224.6,407.7 226.4,410.3 228.2,413.1 230.1,416.0 231.9,419.0 233.7,422.1 235.6,425.1 237.4,428.2 239.3,431.2 241.1,434.2 242.9,437.0 244.8,439.6 246.6,442.1" fill="none" stroke="#34479a" stroke-width="0.9"/>
<line x1="158.40" y1="387.24" x2="158.40" y2="393.24" stroke="#34479a" stroke-width="0.6"/>
<line x1="157.60" y1="387.24" x2="159.20" y2="387.24" stroke="#34479a" stroke-width="0.5"/>
<line x1="157.60" y1="393.24" x2="159.20" y2="393.24" stroke="#34479a" stroke-width="0.5"/>
<rect x="157.4" y="389.2" width="2.0" height="2.0" fill="#34479a"/>
<line x1="168.60" y1="382.29" x2="168.60" y2="388.29" stroke="#34479a" stroke-width="0.6"/>
<line x1="167.80" y1="382.29" x2="169.40" y2="382.29" stroke="#34479a" stroke-width="0.5"/>
<line x1="167.80" y1="388.29" x2="169.40" y2="388.29" stroke="#34479a" stroke-width="0.5"/>
<rect x="167.6" y="384.3" width="2.0" height="2.0" fill="#34479a"/>
<line x1="177.90" y1="381.06" x2="177.90" y2="387.06" stroke="#34479a" stroke-width="0.6"/>
<line x1="177.10" y1="381.06" x2="178.70" y2="381.06" stroke="#34479a" stroke-width="0.5"/>
<line x1="177.10" y1="387.06" x2="178.70" y2="387.06" stroke="#34479a" stroke-width="0.5"/>
<rect x="176.9" y="383.1" width="2.0" height="2.0" fill="#34479a"/>
<line x1="188.10" y1="381.06" x2="188.10" y2="387.06" stroke="#34479a" stroke-width="0.6"/>
<line x1="187.30" y1="381.06" x2="188.90" y2="381.06" stroke="#34479a" stroke-width="0.5"/>
<line x1="187.30" y1="387.06" x2="188.90" y2="387.06" stroke="#34479a" stroke-width="0.5"/>
<rect x="187.1" y="383.1" width="2.0" height="2.0" fill="#34479a"/>
<line x1="197.40" y1="384.77" x2="197.40" y2="390.77" stroke="#34479a" stroke-width="0.6"/>
<line x1="196.60" y1="384.77" x2="198.20" y2="384.77" stroke="#34479a" stroke-width="0.5"/>
<line x1="196.60" y1="390.77" x2="198.20" y2="390.77" stroke="#34479a" stroke-width="0.5"/>
<rect x="196.4" y="386.8" width="2.0" height="2.0" fill="#34479a"/>
<line x1="207.60" y1="392.19" x2="207.60" y2="398.19" stroke="#34479a" stroke-width="0.6"/>
<line x1="206.80" y1="392.19" x2="208.40" y2="392.19" stroke="#34479a" stroke-width="0.5"/>
<line x1="206.80" y1="398.19" x2="208.40" y2="398.19" stroke="#34479a" stroke-width="0.5"/>
<rect x="206.6" y="394.2" width="2.0" height="2.0" fill="#34479a"/>
<line x1="216.90" y1="398.99" x2="216.90" y2="404.99" stroke="#34479a" stroke-width="0.6"/>
<line x1="216.10" y1="398.99" x2="217.70" y2="398.99" stroke="#34479a" stroke-width="0.5"/>
<line x1="216.10" y1="404.99" x2="217.70" y2="404.99" stroke="#34479a" stroke-width="0.5"/>
<rect x="215.9" y="401.0" width="2.0" height="2.0" fill="#34479a"/>
<line x1="227.10" y1="408.26" x2="227.10" y2="414.26" stroke="#34479a" stroke-width="0.6"/>
<line x1="226.30" y1="408.26" x2="227.90" y2="408.26" stroke="#34479a" stroke-width="0.5"/>
<line x1="226.30" y1="414.26" x2="227.90" y2="414.26" stroke="#34479a" stroke-width="0.5"/>
<rect x="226.1" y="410.3" width="2.0" height="2.0" fill="#34479a"/>
<line x1="236.40" y1="428.67" x2="236.40" y2="434.67" stroke="#34479a" stroke-width="0.6"/>
<line x1="235.60" y1="428.67" x2="237.20" y2="428.67" stroke="#34479a" stroke-width="0.5"/>
<line x1="235.60" y1="434.67" x2="237.20" y2="434.67" stroke="#34479a" stroke-width="0.5"/>
<rect x="235.4" y="430.7" width="2.0" height="2.0" fill="#34479a"/>
<line x1="246.60" y1="440.42" x2="246.60" y2="446.42" stroke="#34479a" stroke-width="0.6"/>
<line x1="245.80" y1="440.42" x2="247.40" y2="440.42" stroke="#34479a" stroke-width="0.5"/>
<line x1="245.80" y1="446.42" x2="247.40" y2="446.42" stroke="#34479a" stroke-width="0.5"/>
<rect x="245.6" y="442.4" width="2.0" height="2.0" fill="#34479a"/>
<polyline points="158.4,391.7 160.2,391.8 162.1,391.8 163.9,392.0 165.8,392.1 167.6,392.3 169.4,392.6 171.3,392.9 173.1,393.4 174.9,393.9 176.8,394.7 178.6,395.6 180.5,396.7 182.3,398.1 184.1,399.7 186.0,401.6 187.8,403.7 189.6,406.0 191.5,408.4 193.3,410.8 195.2,413.1 197.0,415.2 198.8,417.1 200.7,418.8 202.5,420.2 204.3,421.3 206.2,422.2 208.0,423.0 209.9,423.6 211.7,424.0 213.5,424.4 215.4,424.6 217.2,424.8 219.0,425.0 220.9,425.1 222.7,425.2 224.6,425.3 226.4,425.3 228.2,425.4 230.1,425.4 231.9,425.4 233.7,425.4 235.6,425.4 237.4,425.5 239.3,425.5 241.1,425.5 242.9,425.5 244.8,425.5 246.6,425.5" fill="none" stroke="#d9343c" stroke-width="0.9"/>
<line x1="158.40" y1="389.09" x2="158.40" y2="395.09" stroke="#d9343c" stroke-width="0.6"/>
<line x1="157.60" y1="389.09" x2="159.20" y2="389.09" stroke="#d9343c" stroke-width="0.5"/>
<line x1="157.60" y1="395.09" x2="159.20" y2="395.09" stroke="#d9343c" stroke-width="0.5"/>
<rect x="157.4" y="391.1" width="2.0" height="2.0" fill="#d9343c"/>
<line x1="168.60" y1="389.09" x2="168.60" y2="395.09" stroke="#d9343c" stroke-width="0.6"/>
<line x1="167.80" y1="389.09" x2="169.40" y2="389.09" stroke="#d9343c" stroke-width="0.5"/>
<line x1="167.80" y1="395.09" x2="169.40" y2="395.09" stroke="#d9343c" stroke-width="0.5"/>
<rect x="167.6" y="391.1" width="2.0" height="2.0" fill="#d9343c"/>
<line x1="177.90" y1="392.81" x2="177.90" y2="398.81" stroke="#d9343c" stroke-width="0.6"/>
<line x1="177.10" y1="392.81" x2="178.70" y2="392.81" stroke="#d9343c" stroke-width="0.5"/>
<line x1="177.10" y1="398.81" x2="178.70" y2="398.81" stroke="#d9343c" stroke-width="0.5"/>
<rect x="176.9" y="394.8" width="2.0" height="2.0" fill="#d9343c"/>
<line x1="188.10" y1="402.08" x2="188.10" y2="408.08" stroke="#d9343c" stroke-width="0.6"/>
<line x1="187.30" y1="402.08" x2="188.90" y2="402.08" stroke="#d9343c" stroke-width="0.5"/>
<line x1="187.30" y1="408.08" x2="188.90" y2="408.08" stroke="#d9343c" stroke-width="0.5"/>
<rect x="187.1" y="404.1" width="2.0" height="2.0" fill="#d9343c"/>
<line x1="197.40" y1="413.21" x2="197.40" y2="419.21" stroke="#d9343c" stroke-width="0.6"/>
<line x1="196.60" y1="413.21" x2="198.20" y2="413.21" stroke="#d9343c" stroke-width="0.5"/>
<line x1="196.60" y1="419.21" x2="198.20" y2="419.21" stroke="#d9343c" stroke-width="0.5"/>
<rect x="196.4" y="415.2" width="2.0" height="2.0" fill="#d9343c"/>
<line x1="207.60" y1="418.16" x2="207.60" y2="424.16" stroke="#d9343c" stroke-width="0.6"/>
<line x1="206.80" y1="418.16" x2="208.40" y2="418.16" stroke="#d9343c" stroke-width="0.5"/>
<line x1="206.80" y1="424.16" x2="208.40" y2="424.16" stroke="#d9343c" stroke-width="0.5"/>
<rect x="206.6" y="420.2" width="2.0" height="2.0" fill="#d9343c"/>
<line x1="216.90" y1="418.77" x2="216.90" y2="424.77" stroke="#d9343c" stroke-width="0.6"/>
<line x1="216.10" y1="418.77" x2="217.70" y2="418.77" stroke="#d9343c" stroke-width="0.5"/>
<line x1="216.10" y1="424.77" x2="217.70" y2="424.77" stroke="#d9343c" stroke-width="0.5"/>
<rect x="215.9" y="420.8" width="2.0" height="2.0" fill="#d9343c"/>
<line x1="227.10" y1="420.01" x2="227.10" y2="426.01" stroke="#d9343c" stroke-width="0.6"/>
<line x1="226.30" y1="420.01" x2="227.90" y2="420.01" stroke="#d9343c" stroke-width="0.5"/>
<line x1="226.30" y1="426.01" x2="227.90" y2="426.01" stroke="#d9343c" stroke-width="0.5"/>
<rect x="226.1" y="422.0" width="2.0" height="2.0" fill="#d9343c"/>
<line x1="236.40" y1="421.87" x2="236.40" y2="427.87" stroke="#d9343c" stroke-width="0.6"/>
<line x1="235.60" y1="421.87" x2="237.20" y2="421.87" stroke="#d9343c" stroke-width="0.5"/>
<line x1="235.60" y1="427.87" x2="237.20" y2="427.87" stroke="#d9343c" stroke-width="0.5"/>
<rect x="235.4" y="423.9" width="2.0" height="2.0" fill="#d9343c"/>
<line x1="246.60" y1="427.43" x2="246.60" y2="433.43" stroke="#d9343c" stroke-width="0.6"/>
<line x1="245.80" y1="427.43" x2="247.40" y2="427.43" stroke="#d9343c" stroke-width="0.5"/>
<line x1="245.80" y1="433.43" x2="247.40" y2="433.43" stroke="#d9343c" stroke-width="0.5"/>
<rect x="245.6" y="429.4" width="2.0" height="2.0" fill="#d9343c"/>
<line x1="278.80" y1="374.10" x2="278.80" y2="449.40" stroke="#333" stroke-width="1.1"/>
<line x1="278.80" y1="448.90" x2="376.30" y2="448.90" stroke="#333" stroke-width="1.1"/>
<line x1="276.80" y1="448.90" x2="278.80" y2="448.90" stroke="#333" stroke-width="0.9"/>
<text x="276.2" y="450.7" font-size="5.0" text-anchor="end" font-weight="bold" fill="#222">0</text>
<line x1="276.80" y1="436.52" x2="278.80" y2="436.52" stroke="#333" stroke-width="0.9"/>
<text x="276.2" y="438.3" font-size="5.0" text-anchor="end" font-weight="bold" fill="#222">20</text>
<line x1="276.80" y1="424.13" x2="278.80" y2="424.13" stroke="#333" stroke-width="0.9"/>
<text x="276.2" y="425.9" font-size="5.0" text-anchor="end" font-weight="bold" fill="#222">40</text>
<line x1="276.80" y1="411.75" x2="278.80" y2="411.75" stroke="#333" stroke-width="0.9"/>
<text x="276.2" y="413.6" font-size="5.0" text-anchor="end" font-weight="bold" fill="#222">60</text>
<line x1="276.80" y1="399.37" x2="278.80" y2="399.37" stroke="#333" stroke-width="0.9"/>
<text x="276.2" y="401.2" font-size="5.0" text-anchor="end" font-weight="bold" fill="#222">80</text>
<line x1="276.80" y1="386.98" x2="278.80" y2="386.98" stroke="#333" stroke-width="0.9"/>
<text x="276.2" y="388.8" font-size="5.0" text-anchor="end" font-weight="bold" fill="#222">100</text>
<line x1="276.80" y1="374.60" x2="278.80" y2="374.60" stroke="#333" stroke-width="0.9"/>
<text x="276.2" y="376.4" font-size="5.0" text-anchor="end" font-weight="bold" fill="#222">120</text>
<line x1="278.80" y1="448.90" x2="278.80" y2="450.90" stroke="#333" stroke-width="0.9"/>
<text x="278.8" y="455.5" font-size="5.0" text-anchor="middle" font-weight="bold" fill="#222">0.1</text>
<line x1="284.67" y1="448.90" x2="284.67" y2="450.00" stroke="#555" stroke-width="0.5"/>
<line x1="288.10" y1="448.90" x2="288.10" y2="450.00" stroke="#555" stroke-width="0.5"/>
<line x1="290.54" y1="448.90" x2="290.54" y2="450.00" stroke="#555" stroke-width="0.5"/>
<line x1="292.43" y1="448.90" x2="292.43" y2="450.00" stroke="#555" stroke-width="0.5"/>
<line x1="293.97" y1="448.90" x2="293.97" y2="450.00" stroke="#555" stroke-width="0.5"/>
<line x1="295.28" y1="448.90" x2="295.28" y2="450.00" stroke="#555" stroke-width="0.5"/>
<line x1="296.41" y1="448.90" x2="296.41" y2="450.00" stroke="#555" stroke-width="0.5"/>
<line x1="297.41" y1="448.90" x2="297.41" y2="450.00" stroke="#555" stroke-width="0.5"/>
<line x1="298.30" y1="448.90" x2="298.30" y2="450.90" stroke="#333" stroke-width="0.9"/>
<text x="298.3" y="455.5" font-size="5.0" text-anchor="middle" font-weight="bold" fill="#222">1</text>
<line x1="304.17" y1="448.90" x2="304.17" y2="450.00" stroke="#555" stroke-width="0.5"/>
<line x1="307.60" y1="448.90" x2="307.60" y2="450.00" stroke="#555" stroke-width="0.5"/>
<line x1="310.04" y1="448.90" x2="310.04" y2="450.00" stroke="#555" stroke-width="0.5"/>
<line x1="311.93" y1="448.90" x2="311.93" y2="450.00" stroke="#555" stroke-width="0.5"/>
<line x1="313.47" y1="448.90" x2="313.47" y2="450.00" stroke="#555" stroke-width="0.5"/>
<line x1="314.78" y1="448.90" x2="314.78" y2="450.00" stroke="#555" stroke-width="0.5"/>
<line x1="315.91" y1="448.90" x2="315.91" y2="450.00" stroke="#555" stroke-width="0.5"/>
<line x1="316.91" y1="448.90" x2="316.91" y2="450.00" stroke="#555" stroke-width="0.5"/>
<line x1="317.80" y1="448.90" x2="317.80" y2="450.90" stroke="#333" stroke-width="0.9"/>
<text x="317.8" y="455.5" font-size="5.0" text-anchor="middle" font-weight="bold" fill="#222">10</text>
<line x1="323.67" y1="448.90" x2="323.67" y2="450.00" stroke="#555" stroke-width="0.5"/>
<line x1="327.10" y1="448.90" x2="327.10" y2="450.00" stroke="#555" stroke-width="0.5"/>
<line x1="329.54" y1="448.90" x2="329.54" y2="450.00" stroke="#555" stroke-width="0.5"/>
<line x1="331.43" y1="448.90" x2="331.43" y2="450.00" stroke="#555" stroke-width="0.5"/>
<line x1="332.97" y1="448.90" x2="332.97" y2="450.00" stroke="#555" stroke-width="0.5"/>
<line x1="334.28" y1="448.90" x2="334.28" y2="450.00" stroke="#555" stroke-width="0.5"/>
<line x1="335.41" y1="448.90" x2="335.41" y2="450.00" stroke="#555" stroke-width="0.5"/>
<line x1="336.41" y1="448.90" x2="336.41" y2="450.00" stroke="#555" stroke-width="0.5"/>
<line x1="337.30" y1="448.90" x2="337.30" y2="450.90" stroke="#333" stroke-width="0.9"/>
<text x="337.3" y="455.5" font-size="5.0" text-anchor="middle" font-weight="bold" fill="#222">100</text>
<line x1="343.17" y1="448.90" x2="343.17" y2="450.00" stroke="#555" stroke-width="0.5"/>
<line x1="346.60" y1="448.90" x2="346.60" y2="450.00" stroke="#555" stroke-width="0.5"/>
<line x1="349.04" y1="448.90" x2="349.04" y2="450.00" stroke="#555" stroke-width="0.5"/>
<line x1="350.93" y1="448.90" x2="350.93" y2="450.00" stroke="#555" stroke-width="0.5"/>
<line x1="352.47" y1="448.90" x2="352.47" y2="450.00" stroke="#555" stroke-width="0.5"/>
<line x1="353.78" y1="448.90" x2="353.78" y2="450.00" stroke="#555" stroke-width="0.5"/>
<line x1="354.91" y1="448.90" x2="354.91" y2="450.00" stroke="#555" stroke-width="0.5"/>
<line x1="355.91" y1="448.90" x2="355.91" y2="450.00" stroke="#555" stroke-width="0.5"/>
<line x1="356.80" y1="448.90" x2="356.80" y2="450.90" stroke="#333" stroke-width="0.9"/>
<text x="356.8" y="455.5" font-size="5.0" text-anchor="middle" font-weight="bold" fill="#222">1,000</text>
<line x1="362.67" y1="448.90" x2="362.67" y2="450.00" stroke="#555" stroke-width="0.5"/>
<line x1="366.10" y1="448.90" x2="366.10" y2="450.00" stroke="#555" stroke-width="0.5"/>
<line x1="368.54" y1="448.90" x2="368.54" y2="450.00" stroke="#555" stroke-width="0.5"/>
<line x1="370.43" y1="448.90" x2="370.43" y2="450.00" stroke="#555" stroke-width="0.5"/>
<line x1="371.97" y1="448.90" x2="371.97" y2="450.00" stroke="#555" stroke-width="0.5"/>
<line x1="373.28" y1="448.90" x2="373.28" y2="450.00" stroke="#555" stroke-width="0.5"/>
<line x1="374.41" y1="448.90" x2="374.41" y2="450.00" stroke="#555" stroke-width="0.5"/>
<line x1="375.41" y1="448.90" x2="375.41" y2="450.00" stroke="#555" stroke-width="0.5"/>
<line x1="376.30" y1="448.90" x2="376.30" y2="450.90" stroke="#333" stroke-width="0.9"/>
<text x="376.3" y="455.5" font-size="5.0" text-anchor="middle" font-weight="bold" fill="#222">10,000</text>
<text x="0" y="0" font-size="5.6" font-weight="bold" text-anchor="middle" fill="#222" transform="translate(267.8,410.8) rotate(-90)">% Survival</text>
<text x="328.6" y="462.9" font-size="5.6" text-anchor="middle" font-weight="bold" fill="#222" textLength="54" lengthAdjust="spacingAndGlyphs">Concentration (ng/ml)</text>
<text x="327.6" y="361.0" font-size="7.0" text-anchor="middle" font-weight="bold" fill="#111">SW-620</text>
<text x="327.6" y="369.5" font-size="6.9" text-anchor="middle" fill="#1e1e1e">HER2 0</text>
<polyline points="288.1,381.4 289.9,381.4 291.8,381.4 293.6,381.4 295.5,381.4 297.3,381.4 299.1,381.4 301.0,381.4 302.8,381.4 304.6,381.4 306.5,381.4 308.3,381.4 310.2,381.4 312.0,381.4 313.8,381.4 315.7,381.4 317.5,381.4 319.3,381.4 321.2,381.4 323.0,381.4 324.9,381.4 326.7,381.4 328.5,381.4 330.4,381.4 332.2,381.4 334.0,381.4 335.9,381.4 337.7,381.4 339.6,381.4 341.4,381.4 343.2,381.4 345.1,381.4 346.9,381.4 348.7,381.4 350.6,381.4 352.4,381.4 354.3,381.4 356.1,381.4 357.9,381.4 359.8,381.4 361.6,381.5 363.4,381.6 365.3,382.1 367.1,383.8 369.0,388.6 370.8,397.1 372.6,404.4 374.5,407.8 376.3,408.8" fill="none" stroke="#d9343c" stroke-width="0.8"/>
<rect x="365.1" y="383.5" width="2.0" height="2.0" fill="#d9343c"/>
<rect x="375.3" y="407.7" width="2.0" height="2.0" fill="#d9343c"/>
<polyline points="288.1,383.3 289.9,383.3 291.8,383.3 293.6,383.3 295.5,383.3 297.3,383.3 299.1,383.3 301.0,383.3 302.8,383.3 304.6,383.3 306.5,383.3 308.3,383.3 310.2,383.3 312.0,383.3 313.8,383.3 315.7,383.3 317.5,383.3 319.3,383.3 321.2,383.3 323.0,383.3 324.9,383.3 326.7,383.3 328.5,383.3 330.4,383.3 332.2,383.3 334.0,383.3 335.9,383.3 337.7,383.3 339.6,383.3 341.4,383.3 343.2,383.3 345.1,383.3 346.9,383.3 348.7,383.3 350.6,383.3 352.4,383.3 354.3,383.3 356.1,383.3 357.9,383.3 359.8,383.3 361.6,383.3 363.4,383.4 365.3,383.8 367.1,385.3 369.0,389.2 370.8,396.2 372.6,402.2 374.5,404.9 376.3,405.8" fill="none" stroke="#34479a" stroke-width="0.8"/>
<line x1="288.10" y1="384.86" x2="288.10" y2="387.86" stroke="#34479a" stroke-width="0.6"/>
<line x1="287.30" y1="384.86" x2="288.90" y2="384.86" stroke="#34479a" stroke-width="0.5"/>
<line x1="287.30" y1="387.86" x2="288.90" y2="387.86" stroke="#34479a" stroke-width="0.5"/>
<rect x="287.1" y="385.4" width="2.0" height="2.0" fill="#34479a"/>
<line x1="298.30" y1="383.63" x2="298.30" y2="386.63" stroke="#34479a" stroke-width="0.6"/>
<line x1="297.50" y1="383.63" x2="299.10" y2="383.63" stroke="#34479a" stroke-width="0.5"/>
<line x1="297.50" y1="386.63" x2="299.10" y2="386.63" stroke="#34479a" stroke-width="0.5"/>
<rect x="297.3" y="384.1" width="2.0" height="2.0" fill="#34479a"/>
<line x1="307.60" y1="383.01" x2="307.60" y2="386.01" stroke="#34479a" stroke-width="0.6"/>
<line x1="306.80" y1="383.01" x2="308.40" y2="383.01" stroke="#34479a" stroke-width="0.5"/>
<line x1="306.80" y1="386.01" x2="308.40" y2="386.01" stroke="#34479a" stroke-width="0.5"/>
<rect x="306.6" y="383.5" width="2.0" height="2.0" fill="#34479a"/>
<line x1="317.80" y1="381.77" x2="317.80" y2="384.77" stroke="#34479a" stroke-width="0.6"/>
<line x1="317.00" y1="381.77" x2="318.60" y2="381.77" stroke="#34479a" stroke-width="0.5"/>
<line x1="317.00" y1="384.77" x2="318.60" y2="384.77" stroke="#34479a" stroke-width="0.5"/>
<rect x="316.8" y="382.3" width="2.0" height="2.0" fill="#34479a"/>
<line x1="327.10" y1="378.67" x2="327.10" y2="381.67" stroke="#34479a" stroke-width="0.6"/>
<line x1="326.30" y1="378.67" x2="327.90" y2="378.67" stroke="#34479a" stroke-width="0.5"/>
<line x1="326.30" y1="381.67" x2="327.90" y2="381.67" stroke="#34479a" stroke-width="0.5"/>
<rect x="326.1" y="379.2" width="2.0" height="2.0" fill="#34479a"/>
<line x1="337.30" y1="380.53" x2="337.30" y2="383.53" stroke="#34479a" stroke-width="0.6"/>
<line x1="336.50" y1="380.53" x2="338.10" y2="380.53" stroke="#34479a" stroke-width="0.5"/>
<line x1="336.50" y1="383.53" x2="338.10" y2="383.53" stroke="#34479a" stroke-width="0.5"/>
<rect x="336.3" y="381.0" width="2.0" height="2.0" fill="#34479a"/>
<line x1="346.60" y1="382.39" x2="346.60" y2="385.39" stroke="#34479a" stroke-width="0.6"/>
<line x1="345.80" y1="382.39" x2="347.40" y2="382.39" stroke="#34479a" stroke-width="0.5"/>
<line x1="345.80" y1="385.39" x2="347.40" y2="385.39" stroke="#34479a" stroke-width="0.5"/>
<rect x="345.6" y="382.9" width="2.0" height="2.0" fill="#34479a"/>
<line x1="356.80" y1="381.77" x2="356.80" y2="384.77" stroke="#34479a" stroke-width="0.6"/>
<line x1="356.00" y1="381.77" x2="357.60" y2="381.77" stroke="#34479a" stroke-width="0.5"/>
<line x1="356.00" y1="384.77" x2="357.60" y2="384.77" stroke="#34479a" stroke-width="0.5"/>
<rect x="355.8" y="382.3" width="2.0" height="2.0" fill="#34479a"/>
<line x1="366.10" y1="383.01" x2="366.10" y2="386.01" stroke="#34479a" stroke-width="0.6"/>
<line x1="365.30" y1="383.01" x2="366.90" y2="383.01" stroke="#34479a" stroke-width="0.5"/>
<line x1="365.30" y1="386.01" x2="366.90" y2="386.01" stroke="#34479a" stroke-width="0.5"/>
<rect x="365.1" y="383.5" width="2.0" height="2.0" fill="#34479a"/>
<line x1="376.30" y1="404.68" x2="376.30" y2="407.68" stroke="#34479a" stroke-width="0.6"/>
<line x1="375.50" y1="404.68" x2="377.10" y2="404.68" stroke="#34479a" stroke-width="0.5"/>
<line x1="375.50" y1="407.68" x2="377.10" y2="407.68" stroke="#34479a" stroke-width="0.5"/>
<rect x="375.3" y="405.2" width="2.0" height="2.0" fill="#34479a"/>
<line x1="402.70" y1="373.90" x2="402.70" y2="449.30" stroke="#333" stroke-width="1.1"/>
<line x1="402.70" y1="448.80" x2="501.20" y2="448.80" stroke="#333" stroke-width="1.1"/>
<line x1="400.70" y1="448.80" x2="402.70" y2="448.80" stroke="#333" stroke-width="0.9"/>
<text x="400.1" y="450.6" font-size="5.0" text-anchor="end" font-weight="bold" fill="#222">0</text>
<line x1="400.70" y1="436.40" x2="402.70" y2="436.40" stroke="#333" stroke-width="0.9"/>
<text x="400.1" y="438.2" font-size="5.0" text-anchor="end" font-weight="bold" fill="#222">20</text>
<line x1="400.70" y1="424.00" x2="402.70" y2="424.00" stroke="#333" stroke-width="0.9"/>
<text x="400.1" y="425.8" font-size="5.0" text-anchor="end" font-weight="bold" fill="#222">40</text>
<line x1="400.70" y1="411.60" x2="402.70" y2="411.60" stroke="#333" stroke-width="0.9"/>
<text x="400.1" y="413.4" font-size="5.0" text-anchor="end" font-weight="bold" fill="#222">60</text>
<line x1="400.70" y1="399.20" x2="402.70" y2="399.20" stroke="#333" stroke-width="0.9"/>
<text x="400.1" y="401.0" font-size="5.0" text-anchor="end" font-weight="bold" fill="#222">80</text>
<line x1="400.70" y1="386.80" x2="402.70" y2="386.80" stroke="#333" stroke-width="0.9"/>
<text x="400.1" y="388.6" font-size="5.0" text-anchor="end" font-weight="bold" fill="#222">100</text>
<line x1="400.70" y1="374.40" x2="402.70" y2="374.40" stroke="#333" stroke-width="0.9"/>
<text x="400.1" y="376.2" font-size="5.0" text-anchor="end" font-weight="bold" fill="#222">120</text>
<line x1="402.70" y1="448.80" x2="402.70" y2="450.80" stroke="#333" stroke-width="0.9"/>
<text x="402.7" y="455.4" font-size="5.0" text-anchor="middle" font-weight="bold" fill="#222">0.1</text>
<line x1="408.63" y1="448.80" x2="408.63" y2="449.90" stroke="#555" stroke-width="0.5"/>
<line x1="412.10" y1="448.80" x2="412.10" y2="449.90" stroke="#555" stroke-width="0.5"/>
<line x1="414.56" y1="448.80" x2="414.56" y2="449.90" stroke="#555" stroke-width="0.5"/>
<line x1="416.47" y1="448.80" x2="416.47" y2="449.90" stroke="#555" stroke-width="0.5"/>
<line x1="418.03" y1="448.80" x2="418.03" y2="449.90" stroke="#555" stroke-width="0.5"/>
<line x1="419.35" y1="448.80" x2="419.35" y2="449.90" stroke="#555" stroke-width="0.5"/>
<line x1="420.49" y1="448.80" x2="420.49" y2="449.90" stroke="#555" stroke-width="0.5"/>
<line x1="421.50" y1="448.80" x2="421.50" y2="449.90" stroke="#555" stroke-width="0.5"/>
<line x1="422.40" y1="448.80" x2="422.40" y2="450.80" stroke="#333" stroke-width="0.9"/>
<text x="422.4" y="455.4" font-size="5.0" text-anchor="middle" font-weight="bold" fill="#222">1</text>
<line x1="428.33" y1="448.80" x2="428.33" y2="449.90" stroke="#555" stroke-width="0.5"/>
<line x1="431.80" y1="448.80" x2="431.80" y2="449.90" stroke="#555" stroke-width="0.5"/>
<line x1="434.26" y1="448.80" x2="434.26" y2="449.90" stroke="#555" stroke-width="0.5"/>
<line x1="436.17" y1="448.80" x2="436.17" y2="449.90" stroke="#555" stroke-width="0.5"/>
<line x1="437.73" y1="448.80" x2="437.73" y2="449.90" stroke="#555" stroke-width="0.5"/>
<line x1="439.05" y1="448.80" x2="439.05" y2="449.90" stroke="#555" stroke-width="0.5"/>
<line x1="440.19" y1="448.80" x2="440.19" y2="449.90" stroke="#555" stroke-width="0.5"/>
<line x1="441.20" y1="448.80" x2="441.20" y2="449.90" stroke="#555" stroke-width="0.5"/>
<line x1="442.10" y1="448.80" x2="442.10" y2="450.80" stroke="#333" stroke-width="0.9"/>
<text x="442.1" y="455.4" font-size="5.0" text-anchor="middle" font-weight="bold" fill="#222">10</text>
<line x1="448.03" y1="448.80" x2="448.03" y2="449.90" stroke="#555" stroke-width="0.5"/>
<line x1="451.50" y1="448.80" x2="451.50" y2="449.90" stroke="#555" stroke-width="0.5"/>
<line x1="453.96" y1="448.80" x2="453.96" y2="449.90" stroke="#555" stroke-width="0.5"/>
<line x1="455.87" y1="448.80" x2="455.87" y2="449.90" stroke="#555" stroke-width="0.5"/>
<line x1="457.43" y1="448.80" x2="457.43" y2="449.90" stroke="#555" stroke-width="0.5"/>
<line x1="458.75" y1="448.80" x2="458.75" y2="449.90" stroke="#555" stroke-width="0.5"/>
<line x1="459.89" y1="448.80" x2="459.89" y2="449.90" stroke="#555" stroke-width="0.5"/>
<line x1="460.90" y1="448.80" x2="460.90" y2="449.90" stroke="#555" stroke-width="0.5"/>
<line x1="461.80" y1="448.80" x2="461.80" y2="450.80" stroke="#333" stroke-width="0.9"/>
<text x="461.8" y="455.4" font-size="5.0" text-anchor="middle" font-weight="bold" fill="#222">100</text>
<line x1="467.73" y1="448.80" x2="467.73" y2="449.90" stroke="#555" stroke-width="0.5"/>
<line x1="471.20" y1="448.80" x2="471.20" y2="449.90" stroke="#555" stroke-width="0.5"/>
<line x1="473.66" y1="448.80" x2="473.66" y2="449.90" stroke="#555" stroke-width="0.5"/>
<line x1="475.57" y1="448.80" x2="475.57" y2="449.90" stroke="#555" stroke-width="0.5"/>
<line x1="477.13" y1="448.80" x2="477.13" y2="449.90" stroke="#555" stroke-width="0.5"/>
<line x1="478.45" y1="448.80" x2="478.45" y2="449.90" stroke="#555" stroke-width="0.5"/>
<line x1="479.59" y1="448.80" x2="479.59" y2="449.90" stroke="#555" stroke-width="0.5"/>
<line x1="480.60" y1="448.80" x2="480.60" y2="449.90" stroke="#555" stroke-width="0.5"/>
<line x1="481.50" y1="448.80" x2="481.50" y2="450.80" stroke="#333" stroke-width="0.9"/>
<text x="481.5" y="455.4" font-size="5.0" text-anchor="middle" font-weight="bold" fill="#222">1,000</text>
<line x1="487.43" y1="448.80" x2="487.43" y2="449.90" stroke="#555" stroke-width="0.5"/>
<line x1="490.90" y1="448.80" x2="490.90" y2="449.90" stroke="#555" stroke-width="0.5"/>
<line x1="493.36" y1="448.80" x2="493.36" y2="449.90" stroke="#555" stroke-width="0.5"/>
<line x1="495.27" y1="448.80" x2="495.27" y2="449.90" stroke="#555" stroke-width="0.5"/>
<line x1="496.83" y1="448.80" x2="496.83" y2="449.90" stroke="#555" stroke-width="0.5"/>
<line x1="498.15" y1="448.80" x2="498.15" y2="449.90" stroke="#555" stroke-width="0.5"/>
<line x1="499.29" y1="448.80" x2="499.29" y2="449.90" stroke="#555" stroke-width="0.5"/>
<line x1="500.30" y1="448.80" x2="500.30" y2="449.90" stroke="#555" stroke-width="0.5"/>
<line x1="501.20" y1="448.80" x2="501.20" y2="450.80" stroke="#333" stroke-width="0.9"/>
<text x="501.2" y="455.4" font-size="5.0" text-anchor="middle" font-weight="bold" fill="#222">10,000</text>
<text x="0" y="0" font-size="5.6" font-weight="bold" text-anchor="middle" fill="#222" transform="translate(391.7,410.6) rotate(-90)">% Survival</text>
<text x="452.9" y="462.8" font-size="5.6" text-anchor="middle" font-weight="bold" fill="#222" textLength="54" lengthAdjust="spacingAndGlyphs">Concentration (ng/ml)</text>
<text x="451.9" y="360.5" font-size="7.0" text-anchor="middle" font-weight="bold" fill="#111">NCI-H520</text>
<text x="451.9" y="368.7" font-size="6.9" text-anchor="middle" fill="#1e1e1e">HER2 0</text>
<polyline points="412.1,383.7 414.0,383.7 415.8,383.7 417.7,383.7 419.5,383.7 421.4,383.7 423.2,383.7 425.1,383.7 426.9,383.7 428.8,383.7 430.7,383.7 432.5,383.7 434.4,383.7 436.2,383.7 438.1,383.7 439.9,383.7 441.8,383.7 443.7,383.7 445.5,383.7 447.4,383.7 449.2,383.7 451.1,383.7 452.9,383.7 454.8,383.7 456.6,383.7 458.5,383.7 460.4,383.7 462.2,383.7 464.1,383.7 465.9,383.7 467.8,383.7 469.6,383.8 471.5,383.8 473.4,383.9 475.2,384.0 477.1,384.3 478.9,384.7 480.8,385.4 482.6,386.6 484.5,388.5 486.3,391.5 488.2,395.9 490.1,402.0 491.9,409.3 493.8,417.0 495.6,424.2 497.5,430.0 499.3,434.1 501.2,436.9" fill="none" stroke="#34479a" stroke-width="0.9"/>
<rect x="411.1" y="383.3" width="2.0" height="2.0" fill="#34479a"/>
<rect x="421.4" y="383.3" width="2.0" height="2.0" fill="#34479a"/>
<rect x="430.8" y="382.7" width="2.0" height="2.0" fill="#34479a"/>
<rect x="441.1" y="382.1" width="2.0" height="2.0" fill="#34479a"/>
<rect x="450.5" y="381.5" width="2.0" height="2.0" fill="#34479a"/>
<rect x="460.8" y="383.3" width="2.0" height="2.0" fill="#34479a"/>
<rect x="470.2" y="383.3" width="2.0" height="2.0" fill="#34479a"/>
<rect x="480.5" y="383.3" width="2.0" height="2.0" fill="#34479a"/>
<rect x="489.9" y="404.4" width="2.0" height="2.0" fill="#34479a"/>
<rect x="500.2" y="436.6" width="2.0" height="2.0" fill="#34479a"/>
<polyline points="412.1,384.3 414.0,384.3 415.8,384.3 417.7,384.3 419.5,384.3 421.4,384.3 423.2,384.3 425.1,384.3 426.9,384.3 428.8,384.3 430.7,384.3 432.5,384.3 434.4,384.3 436.2,384.3 438.1,384.3 439.9,384.3 441.8,384.4 443.7,384.4 445.5,384.4 447.4,384.4 449.2,384.4 451.1,384.4 452.9,384.5 454.8,384.5 456.6,384.6 458.5,384.6 460.4,384.7 462.2,384.9 464.1,385.0 465.9,385.2 467.8,385.5 469.6,385.9 471.5,386.3 473.4,386.9 475.2,387.6 477.1,388.5 478.9,389.6 480.8,391.1 482.6,392.8 484.5,394.9 486.3,397.4 488.2,400.4 490.1,403.7 491.9,407.4 493.8,411.4 495.6,415.5 497.5,419.7 499.3,423.8 501.2,427.7" fill="none" stroke="#d9343c" stroke-width="0.9"/>
<rect x="411.1" y="385.8" width="2.0" height="2.0" fill="#d9343c"/>
<rect x="421.4" y="384.6" width="2.0" height="2.0" fill="#d9343c"/>
<rect x="430.8" y="383.3" width="2.0" height="2.0" fill="#d9343c"/>
<rect x="441.1" y="383.3" width="2.0" height="2.0" fill="#d9343c"/>
<rect x="450.5" y="383.3" width="2.0" height="2.0" fill="#d9343c"/>
<rect x="460.8" y="383.9" width="2.0" height="2.0" fill="#d9343c"/>
<rect x="470.2" y="385.2" width="2.0" height="2.0" fill="#d9343c"/>
<rect x="480.5" y="390.1" width="2.0" height="2.0" fill="#d9343c"/>
<rect x="489.9" y="404.4" width="2.0" height="2.0" fill="#d9343c"/>
<rect x="500.2" y="426.7" width="2.0" height="2.0" fill="#d9343c"/>
<text x="0.2" y="491.1" font-size="12.7" text-anchor="start" font-weight="bold" fill="#111">C</text>
<line x1="19.30" y1="507.60" x2="19.30" y2="587.80" stroke="#333" stroke-width="1.1"/>
<line x1="19.30" y1="587.30" x2="123.10" y2="587.30" stroke="#333" stroke-width="1.1"/>
<line x1="17.30" y1="587.30" x2="19.30" y2="587.30" stroke="#333" stroke-width="0.9"/>
<text x="16.7" y="589.1" font-size="4.6" text-anchor="end" fill="#222">0</text>
<line x1="17.30" y1="574.93" x2="19.30" y2="574.93" stroke="#333" stroke-width="0.9"/>
<text x="16.7" y="576.7" font-size="4.6" text-anchor="end" fill="#222">20</text>
<line x1="17.30" y1="562.57" x2="19.30" y2="562.57" stroke="#333" stroke-width="0.9"/>
<text x="16.7" y="564.4" font-size="4.6" text-anchor="end" fill="#222">40</text>
<line x1="17.30" y1="550.20" x2="19.30" y2="550.20" stroke="#333" stroke-width="0.9"/>
<text x="16.7" y="552.0" font-size="4.6" text-anchor="end" fill="#222">60</text>
<line x1="17.30" y1="537.83" x2="19.30" y2="537.83" stroke="#333" stroke-width="0.9"/>
<text x="16.7" y="539.6" font-size="4.6" text-anchor="end" fill="#222">80</text>
<line x1="17.30" y1="525.47" x2="19.30" y2="525.47" stroke="#333" stroke-width="0.9"/>
<text x="16.7" y="527.3" font-size="4.6" text-anchor="end" fill="#222">100</text>
<line x1="17.30" y1="513.10" x2="19.30" y2="513.10" stroke="#333" stroke-width="0.9"/>
<text x="16.7" y="514.9" font-size="4.6" text-anchor="end" fill="#222">120</text>
<line x1="19.30" y1="587.30" x2="19.30" y2="589.30" stroke="#333" stroke-width="0.9"/>
<text x="19.3" y="594.3" font-size="4.6" text-anchor="middle" fill="#222">0.1</text>
<line x1="24.51" y1="587.30" x2="24.51" y2="588.40" stroke="#555" stroke-width="0.5"/>
<line x1="27.55" y1="587.30" x2="27.55" y2="588.40" stroke="#555" stroke-width="0.5"/>
<line x1="29.72" y1="587.30" x2="29.72" y2="588.40" stroke="#555" stroke-width="0.5"/>
<line x1="31.39" y1="587.30" x2="31.39" y2="588.40" stroke="#555" stroke-width="0.5"/>
<line x1="32.76" y1="587.30" x2="32.76" y2="588.40" stroke="#555" stroke-width="0.5"/>
<line x1="33.92" y1="587.30" x2="33.92" y2="588.40" stroke="#555" stroke-width="0.5"/>
<line x1="34.92" y1="587.30" x2="34.92" y2="588.40" stroke="#555" stroke-width="0.5"/>
<line x1="35.81" y1="587.30" x2="35.81" y2="588.40" stroke="#555" stroke-width="0.5"/>
<line x1="36.60" y1="587.30" x2="36.60" y2="589.30" stroke="#333" stroke-width="0.9"/>
<text x="36.6" y="594.3" font-size="4.6" text-anchor="middle" fill="#222">1</text>
<line x1="41.81" y1="587.30" x2="41.81" y2="588.40" stroke="#555" stroke-width="0.5"/>
<line x1="44.85" y1="587.30" x2="44.85" y2="588.40" stroke="#555" stroke-width="0.5"/>
<line x1="47.02" y1="587.30" x2="47.02" y2="588.40" stroke="#555" stroke-width="0.5"/>
<line x1="48.69" y1="587.30" x2="48.69" y2="588.40" stroke="#555" stroke-width="0.5"/>
<line x1="50.06" y1="587.30" x2="50.06" y2="588.40" stroke="#555" stroke-width="0.5"/>
<line x1="51.22" y1="587.30" x2="51.22" y2="588.40" stroke="#555" stroke-width="0.5"/>
<line x1="52.22" y1="587.30" x2="52.22" y2="588.40" stroke="#555" stroke-width="0.5"/>
<line x1="53.11" y1="587.30" x2="53.11" y2="588.40" stroke="#555" stroke-width="0.5"/>
<line x1="53.90" y1="587.30" x2="53.90" y2="589.30" stroke="#333" stroke-width="0.9"/>
<text x="53.9" y="594.3" font-size="4.6" text-anchor="middle" fill="#222">10</text>
<line x1="59.11" y1="587.30" x2="59.11" y2="588.40" stroke="#555" stroke-width="0.5"/>
<line x1="62.15" y1="587.30" x2="62.15" y2="588.40" stroke="#555" stroke-width="0.5"/>
<line x1="64.32" y1="587.30" x2="64.32" y2="588.40" stroke="#555" stroke-width="0.5"/>
<line x1="65.99" y1="587.30" x2="65.99" y2="588.40" stroke="#555" stroke-width="0.5"/>
<line x1="67.36" y1="587.30" x2="67.36" y2="588.40" stroke="#555" stroke-width="0.5"/>
<line x1="68.52" y1="587.30" x2="68.52" y2="588.40" stroke="#555" stroke-width="0.5"/>
<line x1="69.52" y1="587.30" x2="69.52" y2="588.40" stroke="#555" stroke-width="0.5"/>
<line x1="70.41" y1="587.30" x2="70.41" y2="588.40" stroke="#555" stroke-width="0.5"/>
<line x1="71.20" y1="587.30" x2="71.20" y2="589.30" stroke="#333" stroke-width="0.9"/>
<text x="71.2" y="594.3" font-size="4.6" text-anchor="middle" fill="#222">100</text>
<line x1="76.41" y1="587.30" x2="76.41" y2="588.40" stroke="#555" stroke-width="0.5"/>
<line x1="79.45" y1="587.30" x2="79.45" y2="588.40" stroke="#555" stroke-width="0.5"/>
<line x1="81.62" y1="587.30" x2="81.62" y2="588.40" stroke="#555" stroke-width="0.5"/>
<line x1="83.29" y1="587.30" x2="83.29" y2="588.40" stroke="#555" stroke-width="0.5"/>
<line x1="84.66" y1="587.30" x2="84.66" y2="588.40" stroke="#555" stroke-width="0.5"/>
<line x1="85.82" y1="587.30" x2="85.82" y2="588.40" stroke="#555" stroke-width="0.5"/>
<line x1="86.82" y1="587.30" x2="86.82" y2="588.40" stroke="#555" stroke-width="0.5"/>
<line x1="87.71" y1="587.30" x2="87.71" y2="588.40" stroke="#555" stroke-width="0.5"/>
<line x1="88.50" y1="587.30" x2="88.50" y2="589.30" stroke="#333" stroke-width="0.9"/>
<text x="88.5" y="594.3" font-size="4.6" text-anchor="middle" fill="#222">1,000</text>
<line x1="93.71" y1="587.30" x2="93.71" y2="588.40" stroke="#555" stroke-width="0.5"/>
<line x1="96.75" y1="587.30" x2="96.75" y2="588.40" stroke="#555" stroke-width="0.5"/>
<line x1="98.92" y1="587.30" x2="98.92" y2="588.40" stroke="#555" stroke-width="0.5"/>
<line x1="100.59" y1="587.30" x2="100.59" y2="588.40" stroke="#555" stroke-width="0.5"/>
<line x1="101.96" y1="587.30" x2="101.96" y2="588.40" stroke="#555" stroke-width="0.5"/>
<line x1="103.12" y1="587.30" x2="103.12" y2="588.40" stroke="#555" stroke-width="0.5"/>
<line x1="104.12" y1="587.30" x2="104.12" y2="588.40" stroke="#555" stroke-width="0.5"/>
<line x1="105.01" y1="587.30" x2="105.01" y2="588.40" stroke="#555" stroke-width="0.5"/>
<line x1="105.80" y1="587.30" x2="105.80" y2="589.30" stroke="#333" stroke-width="0.9"/>
<text x="105.8" y="594.3" font-size="4.6" text-anchor="middle" fill="#222">10,000</text>
<line x1="111.01" y1="587.30" x2="111.01" y2="588.40" stroke="#555" stroke-width="0.5"/>
<line x1="114.05" y1="587.30" x2="114.05" y2="588.40" stroke="#555" stroke-width="0.5"/>
<line x1="116.22" y1="587.30" x2="116.22" y2="588.40" stroke="#555" stroke-width="0.5"/>
<line x1="117.89" y1="587.30" x2="117.89" y2="588.40" stroke="#555" stroke-width="0.5"/>
<line x1="119.26" y1="587.30" x2="119.26" y2="588.40" stroke="#555" stroke-width="0.5"/>
<line x1="120.42" y1="587.30" x2="120.42" y2="588.40" stroke="#555" stroke-width="0.5"/>
<line x1="121.42" y1="587.30" x2="121.42" y2="588.40" stroke="#555" stroke-width="0.5"/>
<line x1="122.31" y1="587.30" x2="122.31" y2="588.40" stroke="#555" stroke-width="0.5"/>
<line x1="123.10" y1="587.30" x2="123.10" y2="589.30" stroke="#333" stroke-width="0.9"/>
<text x="123.1" y="594.3" font-size="4.6" text-anchor="middle" fill="#222">100,000</text>
<text x="0" y="0" font-size="6.0" text-anchor="middle" fill="#222" transform="translate(7.1,549.2) rotate(-90)">% Survival</text>
<text x="72.2" y="600.5" font-size="5.6" text-anchor="middle" font-weight="bold" fill="#222" textLength="51.8" lengthAdjust="spacingAndGlyphs">Concentration (ng/ml)</text>
<text x="71.2" y="490.8" font-size="7.5" text-anchor="middle" font-weight="bold" fill="#111" textLength="30.7" lengthAdjust="spacingAndGlyphs">SK-BR-3</text>
<text x="71.2" y="500.0" font-size="7.6" text-anchor="middle" fill="#1e1e1e" textLength="31.2" lengthAdjust="spacingAndGlyphs">HER2 3+</text>
<polyline points="27.6,524.2 29.2,524.2 30.8,524.2 32.4,524.2 34.1,524.2 35.7,524.3 37.3,524.3 39.0,524.3 40.6,524.3 42.2,524.4 43.9,524.6 45.5,524.9 47.1,525.3 48.7,526.2 50.4,527.6 52.0,529.9 53.6,533.5 55.3,538.9 56.9,546.1 58.5,554.7 60.2,563.4 61.8,571.1 63.4,576.9 65.0,580.9 66.7,583.5 68.3,585.1 69.9,586.0 71.6,586.6 73.2,586.9 74.8,587.1 76.5,587.2 78.1,587.2 79.7,587.3 81.3,587.3 83.0,587.3 84.6,587.3 86.2,587.3 87.9,587.3 89.5,587.3 91.1,587.3 92.8,587.3 94.4,587.3 96.0,587.3 97.6,587.3 99.3,587.3 100.9,587.3 102.5,587.3 104.2,587.3 105.8,587.3" fill="none" stroke="#d9343c" stroke-width="0.9" stroke-dasharray="0.9,0.9"/>
<path d="M27.6,522.5L29.2,525.4L25.9,525.4Z" fill="#d9343c"/>
<path d="M36.6,522.5L38.2,525.5L35.0,525.5Z" fill="#d9343c"/>
<path d="M44.9,523.0L46.5,526.0L43.2,526.0Z" fill="#d9343c"/>
<path d="M53.9,532.5L55.5,535.4L52.3,535.4Z" fill="#d9343c"/>
<path d="M62.2,570.8L63.8,573.8L60.5,573.8Z" fill="#d9343c"/>
<path d="M71.2,584.7L72.8,587.7L69.6,587.7Z" fill="#d9343c"/>
<path d="M79.5,585.5L81.1,588.5L77.8,588.5Z" fill="#d9343c"/>
<path d="M88.5,585.5L90.1,588.5L86.9,588.5Z" fill="#d9343c"/>
<path d="M96.8,585.5L98.4,588.5L95.1,588.5Z" fill="#d9343c"/>
<path d="M105.8,585.5L107.4,588.5L104.2,588.5Z" fill="#d9343c"/>
<polyline points="27.6,524.2 29.2,524.2 30.8,524.2 32.4,524.3 34.1,524.3 35.7,524.3 37.3,524.4 39.0,524.5 40.6,524.7 42.2,525.1 43.9,525.7 45.5,526.8 47.1,528.6 48.7,531.5 50.4,536.0 52.0,542.4 53.6,550.5 55.3,559.3 56.9,567.6 58.5,574.3 60.2,579.2 61.8,582.4 63.4,584.4 65.0,585.6 66.7,586.3 68.3,586.8 69.9,587.0 71.6,587.1 73.2,587.2 74.8,587.2 76.5,587.3 78.1,587.3 79.7,587.3 81.3,587.3 83.0,587.3 84.6,587.3 86.2,587.3 87.9,587.3 89.5,587.3 91.1,587.3 92.8,587.3 94.4,587.3 96.0,587.3 97.6,587.3 99.3,587.3 100.9,587.3 102.5,587.3 104.2,587.3 105.8,587.3" fill="none" stroke="#d9343c" stroke-width="0.9" stroke-dasharray="2,1.1"/>
<circle cx="27.6" cy="524.2" r="1.3" fill="none" stroke="#d9343c" stroke-width="0.8"/>
<circle cx="36.6" cy="524.4" r="1.3" fill="none" stroke="#d9343c" stroke-width="0.8"/>
<circle cx="44.9" cy="526.3" r="1.3" fill="none" stroke="#d9343c" stroke-width="0.8"/>
<circle cx="53.9" cy="551.9" r="1.3" fill="none" stroke="#d9343c" stroke-width="0.8"/>
<circle cx="62.2" cy="583.0" r="1.3" fill="none" stroke="#d9343c" stroke-width="0.8"/>
<circle cx="71.2" cy="587.1" r="1.3" fill="none" stroke="#d9343c" stroke-width="0.8"/>
<circle cx="79.5" cy="587.3" r="1.3" fill="none" stroke="#d9343c" stroke-width="0.8"/>
<circle cx="88.5" cy="587.3" r="1.3" fill="none" stroke="#d9343c" stroke-width="0.8"/>
<circle cx="96.8" cy="587.3" r="1.3" fill="none" stroke="#d9343c" stroke-width="0.8"/>
<circle cx="105.8" cy="587.3" r="1.3" fill="none" stroke="#d9343c" stroke-width="0.8"/>
<polyline points="27.6,525.5 29.2,525.5 30.8,525.5 32.4,525.5 34.1,525.6 35.7,525.7 37.3,525.8 39.0,526.1 40.6,526.6 42.2,527.3 43.9,528.6 45.5,530.6 47.1,533.9 48.7,538.6 50.4,545.1 52.0,552.9 53.6,561.3 55.3,568.9 56.9,575.1 58.5,579.6 60.2,582.6 61.8,584.5 63.4,585.6 65.0,586.3 66.7,586.7 68.3,587.0 69.9,587.1 71.6,587.2 73.2,587.2 74.8,587.3 76.5,587.3 78.1,587.3 79.7,587.3 81.3,587.3 83.0,587.3 84.6,587.3 86.2,587.3 87.9,587.3 89.5,587.3 91.1,587.3 92.8,587.3 94.4,587.3 96.0,587.3 97.6,587.3 99.3,587.3 100.9,587.3 102.5,587.3 104.2,587.3 105.8,587.3" fill="none" stroke="#d9343c" stroke-width="0.9"/>
<circle cx="27.6" cy="525.5" r="1.25" fill="#d9343c"/>
<circle cx="36.6" cy="525.8" r="1.25" fill="#d9343c"/>
<circle cx="44.9" cy="529.7" r="1.25" fill="#d9343c"/>
<circle cx="53.9" cy="562.6" r="1.25" fill="#d9343c"/>
<circle cx="62.2" cy="584.8" r="1.25" fill="#d9343c"/>
<circle cx="71.2" cy="587.2" r="1.25" fill="#d9343c"/>
<circle cx="79.5" cy="587.3" r="1.25" fill="#d9343c"/>
<circle cx="88.5" cy="587.3" r="1.25" fill="#d9343c"/>
<circle cx="96.8" cy="587.3" r="1.25" fill="#d9343c"/>
<circle cx="105.8" cy="587.3" r="1.25" fill="#d9343c"/>
<polyline points="27.6,521.8 29.2,521.8 30.8,521.8 32.4,521.8 34.1,521.8 35.7,521.8 37.3,521.8 39.0,521.8 40.6,521.8 42.2,521.8 43.9,521.8 45.5,521.8 47.1,521.8 48.7,521.8 50.4,521.8 52.0,521.9 53.6,522.1 55.3,522.4 56.9,523.1 58.5,524.6 60.2,527.5 61.8,532.9 63.4,541.6 65.0,553.4 66.7,565.4 68.3,574.8 69.9,580.8 71.6,584.1 73.2,585.8 74.8,586.6 76.5,587.0 78.1,587.1 79.7,587.2 81.3,587.3 83.0,587.3 84.6,587.3 86.2,587.3 87.9,587.3 89.5,587.3 91.1,587.3 92.8,587.3 94.4,587.3 96.0,587.3 97.6,587.3 99.3,587.3 100.9,587.3 102.5,587.3 104.2,587.3 105.8,587.3" fill="none" stroke="#34479a" stroke-width="0.9" stroke-dasharray="0.9,0.9"/>
<path d="M27.6,520.0L29.2,523.0L25.9,523.0Z" fill="#34479a"/>
<path d="M36.6,520.0L38.2,523.0L35.0,523.0Z" fill="#34479a"/>
<path d="M44.9,520.0L46.5,523.0L43.2,523.0Z" fill="#34479a"/>
<path d="M53.9,520.3L55.5,523.3L52.3,523.3Z" fill="#34479a"/>
<path d="M62.2,532.8L63.8,535.7L60.5,535.7Z" fill="#34479a"/>
<path d="M71.2,581.8L72.8,584.7L69.6,584.7Z" fill="#34479a"/>
<path d="M79.5,585.5L81.1,588.4L77.8,588.4Z" fill="#34479a"/>
<path d="M88.5,585.5L90.1,588.5L86.9,588.5Z" fill="#34479a"/>
<path d="M96.8,585.5L98.4,588.5L95.1,588.5Z" fill="#34479a"/>
<path d="M105.8,585.5L107.4,588.5L104.2,588.5Z" fill="#34479a"/>
<polyline points="27.6,522.4 29.2,522.4 30.8,522.4 32.4,522.4 34.1,522.4 35.7,522.4 37.3,522.4 39.0,522.4 40.6,522.4 42.2,522.4 43.9,522.4 45.5,522.4 47.1,522.4 48.7,522.5 50.4,522.7 52.0,523.1 53.6,524.0 55.3,526.2 56.9,530.8 58.5,539.3 60.2,552.1 61.8,565.7 63.4,576.1 65.0,582.1 66.7,585.0 68.3,586.3 69.9,586.9 71.6,587.1 73.2,587.2 74.8,587.3 76.5,587.3 78.1,587.3 79.7,587.3 81.3,587.3 83.0,587.3 84.6,587.3 86.2,587.3 87.9,587.3 89.5,587.3 91.1,587.3 92.8,587.3 94.4,587.3 96.0,587.3 97.6,587.3 99.3,587.3 100.9,587.3 102.5,587.3 104.2,587.3 105.8,587.3" fill="none" stroke="#34479a" stroke-width="0.9" stroke-dasharray="2,1.1"/>
<circle cx="27.6" cy="522.4" r="1.3" fill="none" stroke="#34479a" stroke-width="0.8"/>
<circle cx="36.6" cy="522.4" r="1.3" fill="none" stroke="#34479a" stroke-width="0.8"/>
<circle cx="44.9" cy="522.4" r="1.3" fill="none" stroke="#34479a" stroke-width="0.8"/>
<circle cx="53.9" cy="524.3" r="1.3" fill="none" stroke="#34479a" stroke-width="0.8"/>
<circle cx="62.2" cy="568.4" r="1.3" fill="none" stroke="#34479a" stroke-width="0.8"/>
<circle cx="71.2" cy="587.1" r="1.3" fill="none" stroke="#34479a" stroke-width="0.8"/>
<circle cx="79.5" cy="587.3" r="1.3" fill="none" stroke="#34479a" stroke-width="0.8"/>
<circle cx="88.5" cy="587.3" r="1.3" fill="none" stroke="#34479a" stroke-width="0.8"/>
<circle cx="96.8" cy="587.3" r="1.3" fill="none" stroke="#34479a" stroke-width="0.8"/>
<circle cx="105.8" cy="587.3" r="1.3" fill="none" stroke="#34479a" stroke-width="0.8"/>
<polyline points="27.6,522.4 29.2,522.4 30.8,522.4 32.4,522.4 34.1,522.4 35.7,522.4 37.3,522.4 39.0,522.4 40.6,522.4 42.2,522.4 43.9,522.4 45.5,522.4 47.1,522.5 48.7,522.6 50.4,523.0 52.0,523.8 53.6,525.7 55.3,529.8 56.9,537.7 58.5,549.9 60.2,563.7 61.8,574.7 63.4,581.4 65.0,584.7 66.7,586.2 68.3,586.8 69.9,587.1 71.6,587.2 73.2,587.3 74.8,587.3 76.5,587.3 78.1,587.3 79.7,587.3 81.3,587.3 83.0,587.3 84.6,587.3 86.2,587.3 87.9,587.3 89.5,587.3 91.1,587.3 92.8,587.3 94.4,587.3 96.0,587.3 97.6,587.3 99.3,587.3 100.9,587.3 102.5,587.3 104.2,587.3 105.8,587.3" fill="none" stroke="#34479a" stroke-width="0.9"/>
<circle cx="27.6" cy="522.4" r="1.25" fill="#34479a"/>
<circle cx="36.6" cy="522.4" r="1.25" fill="#34479a"/>
<circle cx="44.9" cy="522.4" r="1.25" fill="#34479a"/>
<circle cx="53.9" cy="526.2" r="1.25" fill="#34479a"/>
<circle cx="62.2" cy="576.6" r="1.25" fill="#34479a"/>
<circle cx="71.2" cy="587.2" r="1.25" fill="#34479a"/>
<circle cx="79.5" cy="587.3" r="1.25" fill="#34479a"/>
<circle cx="88.5" cy="587.3" r="1.25" fill="#34479a"/>
<circle cx="96.8" cy="587.3" r="1.25" fill="#34479a"/>
<circle cx="105.8" cy="587.3" r="1.25" fill="#34479a"/>
<text x="101.5" y="513.1" font-size="5.2" text-anchor="start" font-style="italic" fill="#222" textLength="48.4" lengthAdjust="spacingAndGlyphs">ADC - exposure time:</text>
<line x1="89.30" y1="518.20" x2="96.90" y2="518.20" stroke="#d9343c" stroke-width="0.7" stroke-dasharray="0.9,0.9" opacity="0.6"/>
<path d="M93.1,515.7L95.1,519.4L91.1,519.4Z" fill="#d9343c"/>
<text x="101.5" y="519.5" font-size="5.2" text-anchor="start" fill="#1a1a1a">SYD985 - 6 h</text>
<line x1="89.30" y1="524.80" x2="96.90" y2="524.80" stroke="#d9343c" stroke-width="0.9"/>
<circle cx="93.1" cy="524.8" r="1.6" fill="white" stroke="#d9343c" stroke-width="1.0"/>
<text x="101.5" y="526.4" font-size="5.2" text-anchor="start" fill="#1a1a1a">SYD985 - 24 h</text>
<line x1="89.30" y1="531.90" x2="96.90" y2="531.90" stroke="#d9343c" stroke-width="0.9"/>
<circle cx="93.1" cy="531.9" r="1.8" fill="#d9343c"/>
<text x="101.5" y="533.5" font-size="5.2" text-anchor="start" fill="#1a1a1a">SYD985 - 6 days</text>
<line x1="89.30" y1="546.30" x2="96.90" y2="546.30" stroke="#34479a" stroke-width="0.7" stroke-dasharray="0.9,0.9" opacity="0.6"/>
<path d="M93.1,543.8L95.1,547.5L91.1,547.5Z" fill="#34479a"/>
<text x="101.5" y="547.6" font-size="5.2" text-anchor="start" fill="#1a1a1a">T-DM1 - 6h</text>
<line x1="89.30" y1="553.10" x2="96.90" y2="553.10" stroke="#34479a" stroke-width="0.9"/>
<circle cx="93.1" cy="553.1" r="1.6" fill="white" stroke="#34479a" stroke-width="1.0"/>
<text x="101.5" y="554.7" font-size="5.2" text-anchor="start" fill="#1a1a1a">T-DM1 - 24h</text>
<line x1="89.30" y1="560.50" x2="96.90" y2="560.50" stroke="#34479a" stroke-width="0.9"/>
<circle cx="93.1" cy="560.5" r="1.8" fill="#34479a"/>
<text x="101.5" y="562.1" font-size="5.2" text-anchor="start" fill="#1a1a1a">T-DM1 - 6 days</text>
<line x1="180.60" y1="510.60" x2="180.60" y2="591.80" stroke="#333" stroke-width="1.1"/>
<line x1="180.60" y1="591.30" x2="284.40" y2="591.30" stroke="#333" stroke-width="1.1"/>
<line x1="178.60" y1="591.30" x2="180.60" y2="591.30" stroke="#333" stroke-width="0.9"/>
<text x="178.0" y="593.1" font-size="4.6" text-anchor="end" fill="#222">0</text>
<line x1="178.60" y1="578.77" x2="180.60" y2="578.77" stroke="#333" stroke-width="0.9"/>
<text x="178.0" y="580.6" font-size="4.6" text-anchor="end" fill="#222">20</text>
<line x1="178.60" y1="566.23" x2="180.60" y2="566.23" stroke="#333" stroke-width="0.9"/>
<text x="178.0" y="568.0" font-size="4.6" text-anchor="end" fill="#222">40</text>
<line x1="178.60" y1="553.70" x2="180.60" y2="553.70" stroke="#333" stroke-width="0.9"/>
<text x="178.0" y="555.5" font-size="4.6" text-anchor="end" fill="#222">60</text>
<line x1="178.60" y1="541.17" x2="180.60" y2="541.17" stroke="#333" stroke-width="0.9"/>
<text x="178.0" y="543.0" font-size="4.6" text-anchor="end" fill="#222">80</text>
<line x1="178.60" y1="528.63" x2="180.60" y2="528.63" stroke="#333" stroke-width="0.9"/>
<text x="178.0" y="530.4" font-size="4.6" text-anchor="end" fill="#222">100</text>
<line x1="178.60" y1="516.10" x2="180.60" y2="516.10" stroke="#333" stroke-width="0.9"/>
<text x="178.0" y="517.9" font-size="4.6" text-anchor="end" fill="#222">120</text>
<line x1="180.60" y1="591.30" x2="180.60" y2="593.30" stroke="#333" stroke-width="0.9"/>
<text x="180.6" y="597.9" font-size="4.6" text-anchor="middle" fill="#222">0.1</text>
<line x1="185.81" y1="591.30" x2="185.81" y2="592.40" stroke="#555" stroke-width="0.5"/>
<line x1="188.85" y1="591.30" x2="188.85" y2="592.40" stroke="#555" stroke-width="0.5"/>
<line x1="191.02" y1="591.30" x2="191.02" y2="592.40" stroke="#555" stroke-width="0.5"/>
<line x1="192.69" y1="591.30" x2="192.69" y2="592.40" stroke="#555" stroke-width="0.5"/>
<line x1="194.06" y1="591.30" x2="194.06" y2="592.40" stroke="#555" stroke-width="0.5"/>
<line x1="195.22" y1="591.30" x2="195.22" y2="592.40" stroke="#555" stroke-width="0.5"/>
<line x1="196.22" y1="591.30" x2="196.22" y2="592.40" stroke="#555" stroke-width="0.5"/>
<line x1="197.11" y1="591.30" x2="197.11" y2="592.40" stroke="#555" stroke-width="0.5"/>
<line x1="197.90" y1="591.30" x2="197.90" y2="593.30" stroke="#333" stroke-width="0.9"/>
<text x="197.9" y="597.9" font-size="4.6" text-anchor="middle" fill="#222">1</text>
<line x1="203.11" y1="591.30" x2="203.11" y2="592.40" stroke="#555" stroke-width="0.5"/>
<line x1="206.15" y1="591.30" x2="206.15" y2="592.40" stroke="#555" stroke-width="0.5"/>
<line x1="208.32" y1="591.30" x2="208.32" y2="592.40" stroke="#555" stroke-width="0.5"/>
<line x1="209.99" y1="591.30" x2="209.99" y2="592.40" stroke="#555" stroke-width="0.5"/>
<line x1="211.36" y1="591.30" x2="211.36" y2="592.40" stroke="#555" stroke-width="0.5"/>
<line x1="212.52" y1="591.30" x2="212.52" y2="592.40" stroke="#555" stroke-width="0.5"/>
<line x1="213.52" y1="591.30" x2="213.52" y2="592.40" stroke="#555" stroke-width="0.5"/>
<line x1="214.41" y1="591.30" x2="214.41" y2="592.40" stroke="#555" stroke-width="0.5"/>
<line x1="215.20" y1="591.30" x2="215.20" y2="593.30" stroke="#333" stroke-width="0.9"/>
<text x="215.2" y="597.9" font-size="4.6" text-anchor="middle" fill="#222">10</text>
<line x1="220.41" y1="591.30" x2="220.41" y2="592.40" stroke="#555" stroke-width="0.5"/>
<line x1="223.45" y1="591.30" x2="223.45" y2="592.40" stroke="#555" stroke-width="0.5"/>
<line x1="225.62" y1="591.30" x2="225.62" y2="592.40" stroke="#555" stroke-width="0.5"/>
<line x1="227.29" y1="591.30" x2="227.29" y2="592.40" stroke="#555" stroke-width="0.5"/>
<line x1="228.66" y1="591.30" x2="228.66" y2="592.40" stroke="#555" stroke-width="0.5"/>
<line x1="229.82" y1="591.30" x2="229.82" y2="592.40" stroke="#555" stroke-width="0.5"/>
<line x1="230.82" y1="591.30" x2="230.82" y2="592.40" stroke="#555" stroke-width="0.5"/>
<line x1="231.71" y1="591.30" x2="231.71" y2="592.40" stroke="#555" stroke-width="0.5"/>
<line x1="232.50" y1="591.30" x2="232.50" y2="593.30" stroke="#333" stroke-width="0.9"/>
<text x="232.5" y="597.9" font-size="4.6" text-anchor="middle" fill="#222">100</text>
<line x1="237.71" y1="591.30" x2="237.71" y2="592.40" stroke="#555" stroke-width="0.5"/>
<line x1="240.75" y1="591.30" x2="240.75" y2="592.40" stroke="#555" stroke-width="0.5"/>
<line x1="242.92" y1="591.30" x2="242.92" y2="592.40" stroke="#555" stroke-width="0.5"/>
<line x1="244.59" y1="591.30" x2="244.59" y2="592.40" stroke="#555" stroke-width="0.5"/>
<line x1="245.96" y1="591.30" x2="245.96" y2="592.40" stroke="#555" stroke-width="0.5"/>
<line x1="247.12" y1="591.30" x2="247.12" y2="592.40" stroke="#555" stroke-width="0.5"/>
<line x1="248.12" y1="591.30" x2="248.12" y2="592.40" stroke="#555" stroke-width="0.5"/>
<line x1="249.01" y1="591.30" x2="249.01" y2="592.40" stroke="#555" stroke-width="0.5"/>
<line x1="249.80" y1="591.30" x2="249.80" y2="593.30" stroke="#333" stroke-width="0.9"/>
<text x="249.8" y="597.9" font-size="4.6" text-anchor="middle" fill="#222">1,000</text>
<line x1="255.01" y1="591.30" x2="255.01" y2="592.40" stroke="#555" stroke-width="0.5"/>
<line x1="258.05" y1="591.30" x2="258.05" y2="592.40" stroke="#555" stroke-width="0.5"/>
<line x1="260.22" y1="591.30" x2="260.22" y2="592.40" stroke="#555" stroke-width="0.5"/>
<line x1="261.89" y1="591.30" x2="261.89" y2="592.40" stroke="#555" stroke-width="0.5"/>
<line x1="263.26" y1="591.30" x2="263.26" y2="592.40" stroke="#555" stroke-width="0.5"/>
<line x1="264.42" y1="591.30" x2="264.42" y2="592.40" stroke="#555" stroke-width="0.5"/>
<line x1="265.42" y1="591.30" x2="265.42" y2="592.40" stroke="#555" stroke-width="0.5"/>
<line x1="266.31" y1="591.30" x2="266.31" y2="592.40" stroke="#555" stroke-width="0.5"/>
<line x1="267.10" y1="591.30" x2="267.10" y2="593.30" stroke="#333" stroke-width="0.9"/>
<text x="267.1" y="597.9" font-size="4.6" text-anchor="middle" fill="#222">10,000</text>
<line x1="272.31" y1="591.30" x2="272.31" y2="592.40" stroke="#555" stroke-width="0.5"/>
<line x1="275.35" y1="591.30" x2="275.35" y2="592.40" stroke="#555" stroke-width="0.5"/>
<line x1="277.52" y1="591.30" x2="277.52" y2="592.40" stroke="#555" stroke-width="0.5"/>
<line x1="279.19" y1="591.30" x2="279.19" y2="592.40" stroke="#555" stroke-width="0.5"/>
<line x1="280.56" y1="591.30" x2="280.56" y2="592.40" stroke="#555" stroke-width="0.5"/>
<line x1="281.72" y1="591.30" x2="281.72" y2="592.40" stroke="#555" stroke-width="0.5"/>
<line x1="282.72" y1="591.30" x2="282.72" y2="592.40" stroke="#555" stroke-width="0.5"/>
<line x1="283.61" y1="591.30" x2="283.61" y2="592.40" stroke="#555" stroke-width="0.5"/>
<line x1="284.40" y1="591.30" x2="284.40" y2="593.30" stroke="#333" stroke-width="0.9"/>
<text x="284.4" y="597.9" font-size="4.6" text-anchor="middle" fill="#222">100,000</text>
<text x="0" y="0" font-size="6.0" text-anchor="middle" fill="#222" transform="translate(167.8,552.7) rotate(-90)">% Survival</text>
<text x="233.5" y="603.6" font-size="5.6" text-anchor="middle" font-weight="bold" fill="#222" textLength="51.8" lengthAdjust="spacingAndGlyphs">Concentration (ng/ml)</text>
<text x="232.5" y="492.0" font-size="7.8" text-anchor="middle" font-weight="bold" fill="#111">SK-OV-3</text>
<text x="232.5" y="501.4" font-size="7.6" text-anchor="middle" fill="#1e1e1e">HER2 2+</text>
<polyline points="188.9,526.8 190.5,526.8 192.1,526.8 193.7,526.8 195.4,526.8 197.0,526.8 198.6,526.8 200.3,526.8 201.9,526.8 203.5,526.8 205.2,526.8 206.8,526.8 208.4,526.8 210.0,526.8 211.7,526.9 213.3,526.9 214.9,526.9 216.6,526.9 218.2,526.9 219.8,527.0 221.5,527.0 223.1,527.1 224.7,527.1 226.3,527.2 228.0,527.2 229.6,527.3 231.2,527.3 232.9,527.4 234.5,527.8 236.1,528.6 237.8,529.6 239.4,531.0 241.0,532.5 242.6,534.1 244.3,535.8 245.9,537.5 247.5,539.1 249.2,540.6 250.8,542.0 252.4,543.3 254.1,544.6 255.7,546.0 257.3,547.4 258.9,548.9 260.6,550.4 262.2,552.0 263.8,553.6 265.5,555.2 267.1,556.8" fill="none" stroke="#d9343c" stroke-width="0.9" stroke-dasharray="0.9,0.9"/>
<path d="M188.9,526.3L190.5,529.2L187.2,529.2Z" fill="#d9343c"/>
<path d="M197.9,525.0L199.5,528.0L196.3,528.0Z" fill="#d9343c"/>
<path d="M206.2,525.0L207.8,528.0L204.5,528.0Z" fill="#d9343c"/>
<path d="M215.2,525.6L216.8,528.6L213.6,528.6Z" fill="#d9343c"/>
<path d="M223.5,526.3L225.1,529.2L221.8,529.2Z" fill="#d9343c"/>
<path d="M232.5,528.8L234.1,531.7L230.9,531.7Z" fill="#d9343c"/>
<path d="M240.8,538.2L242.4,541.1L239.1,541.1Z" fill="#d9343c"/>
<path d="M249.8,540.0L251.4,543.0L248.2,543.0Z" fill="#d9343c"/>
<path d="M258.1,546.3L259.7,549.3L256.4,549.3Z" fill="#d9343c"/>
<polyline points="188.9,526.8 190.5,526.8 192.1,526.8 193.7,526.9 195.4,526.9 197.0,526.9 198.6,527.0 200.3,527.0 201.9,527.1 203.5,527.2 205.2,527.3 206.8,527.4 208.4,527.5 210.0,527.7 211.7,527.9 213.3,528.3 214.9,529.1 216.6,530.4 218.2,532.2 219.8,534.4 221.5,536.7 223.1,538.8 224.7,540.8 226.3,542.8 228.0,544.9 229.6,546.8 231.2,548.7 232.9,550.3 234.5,551.7 236.1,553.0 237.8,554.1 239.4,555.2 241.0,556.4 242.6,557.5 244.3,558.5 245.9,559.5 247.5,560.6 249.2,561.9 250.8,563.5 252.4,565.3 254.1,567.2 255.7,569.2 257.3,571.1 258.9,572.8 260.6,574.3 262.2,575.8 263.8,577.2 265.5,578.6 267.1,580.0" fill="none" stroke="#d9343c" stroke-width="0.9" stroke-dasharray="2,1.1"/>
<circle cx="188.9" cy="528.0" r="1.3" fill="none" stroke="#d9343c" stroke-width="0.8"/>
<circle cx="197.9" cy="526.8" r="1.3" fill="none" stroke="#d9343c" stroke-width="0.8"/>
<circle cx="206.2" cy="527.4" r="1.3" fill="none" stroke="#d9343c" stroke-width="0.8"/>
<circle cx="215.2" cy="529.3" r="1.3" fill="none" stroke="#d9343c" stroke-width="0.8"/>
<circle cx="223.5" cy="540.5" r="1.3" fill="none" stroke="#d9343c" stroke-width="0.8"/>
<circle cx="232.5" cy="550.1" r="1.3" fill="none" stroke="#d9343c" stroke-width="0.8"/>
<circle cx="240.8" cy="555.6" r="1.3" fill="none" stroke="#d9343c" stroke-width="0.8"/>
<circle cx="249.8" cy="561.7" r="1.3" fill="none" stroke="#d9343c" stroke-width="0.8"/>
<circle cx="258.1" cy="571.9" r="1.3" fill="none" stroke="#d9343c" stroke-width="0.8"/>
<circle cx="267.1" cy="580.0" r="1.3" fill="none" stroke="#d9343c" stroke-width="0.8"/>
<polyline points="188.9,526.8 190.5,526.8 192.1,526.8 193.7,526.8 195.4,526.8 197.0,526.8 198.6,526.8 200.3,526.8 201.9,526.9 203.5,526.9 205.2,527.0 206.8,527.1 208.4,527.3 210.0,527.6 211.7,528.1 213.3,528.8 214.9,529.9 216.6,531.5 218.2,533.7 219.8,536.8 221.5,540.9 223.1,546.0 224.7,551.9 226.3,558.0 228.0,563.9 229.6,569.1 231.2,573.3 232.9,576.6 234.5,578.9 236.1,580.5 237.8,581.6 239.4,582.4 241.0,582.9 242.6,583.2 244.3,583.4 245.9,583.5 247.5,583.6 249.2,583.7 250.8,583.7 252.4,583.7 254.1,583.8 255.7,583.8 257.3,583.8 258.9,583.8 260.6,583.8 262.2,583.8 263.8,583.8 265.5,583.8 267.1,583.8" fill="none" stroke="#d9343c" stroke-width="0.9"/>
<circle cx="188.9" cy="528.0" r="1.25" fill="#d9343c"/>
<circle cx="197.9" cy="526.8" r="1.25" fill="#d9343c"/>
<circle cx="206.2" cy="526.8" r="1.25" fill="#d9343c"/>
<circle cx="215.2" cy="534.9" r="1.25" fill="#d9343c"/>
<circle cx="223.5" cy="556.3" r="1.25" fill="#d9343c"/>
<circle cx="232.5" cy="578.1" r="1.25" fill="#d9343c"/>
<circle cx="240.8" cy="581.0" r="1.25" fill="#d9343c"/>
<circle cx="249.8" cy="582.9" r="1.25" fill="#d9343c"/>
<circle cx="258.1" cy="584.7" r="1.25" fill="#d9343c"/>
<circle cx="267.1" cy="587.6" r="1.25" fill="#d9343c"/>
<polyline points="188.9,526.8 190.5,526.8 192.1,526.8 193.7,526.8 195.4,526.8 197.0,526.8 198.6,526.8 200.3,526.9 201.9,526.9 203.5,526.9 205.2,526.9 206.8,526.9 208.4,526.9 210.0,526.9 211.7,526.9 213.3,527.0 214.9,527.0 216.6,527.0 218.2,527.0 219.8,527.0 221.5,527.0 223.1,527.1 224.7,527.1 226.3,527.1 228.0,527.1 229.6,527.2 231.2,527.2 232.9,527.2 234.5,527.2 236.1,527.3 237.8,527.3 239.4,527.3 241.0,527.4 242.6,527.4 244.3,527.4 245.9,527.5 247.5,527.7 249.2,527.9 250.8,528.3 252.4,528.9 254.1,529.7 255.7,530.7 257.3,531.8 258.9,533.1 260.6,534.7 262.2,536.4 263.8,538.2 265.5,540.0 267.1,541.8" fill="none" stroke="#34479a" stroke-width="0.9" stroke-dasharray="0.9,0.9"/>
<path d="M188.9,524.4L190.5,527.3L187.2,527.3Z" fill="#34479a"/>
<path d="M197.9,524.4L199.5,527.3L196.3,527.3Z" fill="#34479a"/>
<path d="M206.2,524.4L207.8,527.3L204.5,527.3Z" fill="#34479a"/>
<path d="M215.2,523.7L216.8,526.7L213.6,526.7Z" fill="#34479a"/>
<path d="M223.5,525.0L225.1,528.0L221.8,528.0Z" fill="#34479a"/>
<path d="M232.5,525.8L234.1,528.7L230.9,528.7Z" fill="#34479a"/>
<path d="M240.8,526.4L242.4,529.4L239.1,529.4Z" fill="#34479a"/>
<path d="M249.8,525.8L251.4,528.7L248.2,528.7Z" fill="#34479a"/>
<path d="M258.1,530.4L259.7,533.4L256.4,533.4Z" fill="#34479a"/>
<path d="M267.1,539.7L268.7,542.7L265.5,542.7Z" fill="#34479a"/>
<polyline points="188.9,526.1 190.5,526.1 192.1,526.1 193.7,526.2 195.4,526.2 197.0,526.2 198.6,526.2 200.3,526.2 201.9,526.2 203.5,526.3 205.2,526.3 206.8,526.3 208.4,526.4 210.0,526.5 211.7,526.5 213.3,526.6 214.9,526.7 216.6,526.9 218.2,527.3 219.8,527.9 221.5,528.6 223.1,529.4 224.7,530.2 226.3,531.0 228.0,531.8 229.6,532.6 231.2,533.2 232.9,533.7 234.5,534.1 236.1,534.4 237.8,534.6 239.4,534.7 241.0,534.8 242.6,535.0 244.3,535.2 245.9,535.5 247.5,535.9 249.2,536.5 250.8,537.3 252.4,538.4 254.1,539.7 255.7,541.1 257.3,542.5 258.9,543.7 260.6,545.0 262.2,546.2 263.8,547.5 265.5,548.7 267.1,549.9" fill="none" stroke="#34479a" stroke-width="0.9" stroke-dasharray="2,1.1"/>
<circle cx="188.9" cy="526.1" r="1.3" fill="none" stroke="#34479a" stroke-width="0.8"/>
<circle cx="197.9" cy="526.1" r="1.3" fill="none" stroke="#34479a" stroke-width="0.8"/>
<circle cx="206.2" cy="526.1" r="1.3" fill="none" stroke="#34479a" stroke-width="0.8"/>
<circle cx="215.2" cy="525.5" r="1.3" fill="none" stroke="#34479a" stroke-width="0.8"/>
<circle cx="223.5" cy="524.9" r="1.3" fill="none" stroke="#34479a" stroke-width="0.8"/>
<circle cx="232.5" cy="534.3" r="1.3" fill="none" stroke="#34479a" stroke-width="0.8"/>
<circle cx="240.8" cy="535.5" r="1.3" fill="none" stroke="#34479a" stroke-width="0.8"/>
<circle cx="249.8" cy="536.8" r="1.3" fill="none" stroke="#34479a" stroke-width="0.8"/>
<circle cx="258.1" cy="543.4" r="1.3" fill="none" stroke="#34479a" stroke-width="0.8"/>
<circle cx="267.1" cy="550.1" r="1.3" fill="none" stroke="#34479a" stroke-width="0.8"/>
<polyline points="188.9,526.1 190.5,526.2 192.1,526.2 193.7,526.2 195.4,526.2 197.0,526.2 198.6,526.3 200.3,526.3 201.9,526.4 203.5,526.4 205.2,526.5 206.8,526.6 208.4,526.7 210.0,526.8 211.7,527.0 213.3,527.1 214.9,527.3 216.6,527.7 218.2,528.2 219.8,529.0 221.5,530.0 223.1,531.1 224.7,532.2 226.3,533.5 228.0,534.8 229.6,536.0 231.2,537.2 232.9,538.3 234.5,539.3 236.1,540.4 237.8,541.5 239.4,542.7 241.0,543.9 242.6,545.2 244.3,546.7 245.9,548.1 247.5,549.5 249.2,550.8 250.8,551.8 252.4,552.5 254.1,553.0 255.7,553.6 257.3,554.5 258.9,555.7 260.6,557.2 262.2,558.9 263.8,560.7 265.5,562.6 267.1,564.4" fill="none" stroke="#34479a" stroke-width="0.9"/>
<circle cx="188.9" cy="526.1" r="1.25" fill="#34479a"/>
<circle cx="197.9" cy="526.1" r="1.25" fill="#34479a"/>
<circle cx="206.2" cy="526.1" r="1.25" fill="#34479a"/>
<circle cx="215.2" cy="526.8" r="1.25" fill="#34479a"/>
<circle cx="223.5" cy="528.6" r="1.25" fill="#34479a"/>
<circle cx="232.5" cy="538.2" r="1.25" fill="#34479a"/>
<circle cx="240.8" cy="543.4" r="1.25" fill="#34479a"/>
<circle cx="249.8" cy="551.4" r="1.25" fill="#34479a"/>
<circle cx="258.1" cy="553.4" r="1.25" fill="#34479a"/>
<circle cx="267.1" cy="564.7" r="1.25" fill="#34479a"/>
<text x="286.6" y="513.0" font-size="5.2" text-anchor="start" font-style="italic" fill="#222" textLength="48.4" lengthAdjust="spacingAndGlyphs">ADC - exposure time:</text>
<line x1="275.00" y1="518.30" x2="282.60" y2="518.30" stroke="#d9343c" stroke-width="0.7" stroke-dasharray="0.9,0.9" opacity="0.6"/>
<path d="M278.8,515.8L280.8,519.5L276.8,519.5Z" fill="#d9343c"/>
<text x="286.6" y="519.6" font-size="5.2" text-anchor="start" fill="#1a1a1a">SYD985 - 6 h</text>
<line x1="275.00" y1="524.70" x2="282.60" y2="524.70" stroke="#d9343c" stroke-width="0.9"/>
<circle cx="278.8" cy="524.7" r="1.6" fill="white" stroke="#d9343c" stroke-width="1.0"/>
<text x="286.6" y="526.3" font-size="5.2" text-anchor="start" fill="#1a1a1a">SYD985 - 24 h</text>
<line x1="275.00" y1="531.90" x2="282.60" y2="531.90" stroke="#d9343c" stroke-width="0.9"/>
<circle cx="278.8" cy="531.9" r="1.8" fill="#d9343c"/>
<text x="286.6" y="533.5" font-size="5.2" text-anchor="start" fill="#1a1a1a">SYD985 - 6 days</text>
<line x1="275.00" y1="546.10" x2="282.60" y2="546.10" stroke="#34479a" stroke-width="0.7" stroke-dasharray="0.9,0.9" opacity="0.6"/>
<path d="M278.8,543.6L280.8,547.3L276.8,547.3Z" fill="#34479a"/>
<text x="286.6" y="547.4" font-size="5.2" text-anchor="start" fill="#1a1a1a">T-DM1 - 6h</text>
<line x1="275.00" y1="553.00" x2="282.60" y2="553.00" stroke="#34479a" stroke-width="0.9"/>
<circle cx="278.8" cy="553.0" r="1.6" fill="white" stroke="#34479a" stroke-width="1.0"/>
<text x="286.6" y="554.6" font-size="5.2" text-anchor="start" fill="#1a1a1a">T-DM1 - 24h</text>
<line x1="275.00" y1="560.40" x2="282.60" y2="560.40" stroke="#34479a" stroke-width="0.9"/>
<circle cx="278.8" cy="560.4" r="1.8" fill="#34479a"/>
<text x="286.6" y="562.0" font-size="5.2" text-anchor="start" fill="#1a1a1a">T-DM1 - 6 days</text>
<line x1="364.20" y1="506.20" x2="364.20" y2="591.10" stroke="#333" stroke-width="1.1"/>
<line x1="364.20" y1="590.60" x2="461.40" y2="590.60" stroke="#333" stroke-width="1.1"/>
<line x1="362.20" y1="590.60" x2="364.20" y2="590.60" stroke="#333" stroke-width="0.9"/>
<text x="361.6" y="592.4" font-size="4.6" text-anchor="end" fill="#222">0</text>
<line x1="362.20" y1="577.62" x2="364.20" y2="577.62" stroke="#333" stroke-width="0.9"/>
<text x="361.6" y="579.4" font-size="4.6" text-anchor="end" fill="#222">20</text>
<line x1="362.20" y1="564.63" x2="364.20" y2="564.63" stroke="#333" stroke-width="0.9"/>
<text x="361.6" y="566.4" font-size="4.6" text-anchor="end" fill="#222">40</text>
<line x1="362.20" y1="551.65" x2="364.20" y2="551.65" stroke="#333" stroke-width="0.9"/>
<text x="361.6" y="553.5" font-size="4.6" text-anchor="end" fill="#222">60</text>
<line x1="362.20" y1="538.67" x2="364.20" y2="538.67" stroke="#333" stroke-width="0.9"/>
<text x="361.6" y="540.5" font-size="4.6" text-anchor="end" fill="#222">80</text>
<line x1="362.20" y1="525.68" x2="364.20" y2="525.68" stroke="#333" stroke-width="0.9"/>
<text x="361.6" y="527.5" font-size="4.6" text-anchor="end" fill="#222">100</text>
<line x1="362.20" y1="512.70" x2="364.20" y2="512.70" stroke="#333" stroke-width="0.9"/>
<text x="361.6" y="514.5" font-size="4.6" text-anchor="end" fill="#222">120</text>
<line x1="364.20" y1="590.60" x2="364.20" y2="592.60" stroke="#333" stroke-width="0.9"/>
<text x="364.2" y="597.6" font-size="4.6" text-anchor="middle" fill="#222">0.1</text>
<line x1="369.08" y1="590.60" x2="369.08" y2="591.70" stroke="#555" stroke-width="0.5"/>
<line x1="371.93" y1="590.60" x2="371.93" y2="591.70" stroke="#555" stroke-width="0.5"/>
<line x1="373.95" y1="590.60" x2="373.95" y2="591.70" stroke="#555" stroke-width="0.5"/>
<line x1="375.52" y1="590.60" x2="375.52" y2="591.70" stroke="#555" stroke-width="0.5"/>
<line x1="376.81" y1="590.60" x2="376.81" y2="591.70" stroke="#555" stroke-width="0.5"/>
<line x1="377.89" y1="590.60" x2="377.89" y2="591.70" stroke="#555" stroke-width="0.5"/>
<line x1="378.83" y1="590.60" x2="378.83" y2="591.70" stroke="#555" stroke-width="0.5"/>
<line x1="379.66" y1="590.60" x2="379.66" y2="591.70" stroke="#555" stroke-width="0.5"/>
<line x1="380.40" y1="590.60" x2="380.40" y2="592.60" stroke="#333" stroke-width="0.9"/>
<text x="380.4" y="597.6" font-size="4.6" text-anchor="middle" fill="#222">1</text>
<line x1="385.28" y1="590.60" x2="385.28" y2="591.70" stroke="#555" stroke-width="0.5"/>
<line x1="388.13" y1="590.60" x2="388.13" y2="591.70" stroke="#555" stroke-width="0.5"/>
<line x1="390.15" y1="590.60" x2="390.15" y2="591.70" stroke="#555" stroke-width="0.5"/>
<line x1="391.72" y1="590.60" x2="391.72" y2="591.70" stroke="#555" stroke-width="0.5"/>
<line x1="393.01" y1="590.60" x2="393.01" y2="591.70" stroke="#555" stroke-width="0.5"/>
<line x1="394.09" y1="590.60" x2="394.09" y2="591.70" stroke="#555" stroke-width="0.5"/>
<line x1="395.03" y1="590.60" x2="395.03" y2="591.70" stroke="#555" stroke-width="0.5"/>
<line x1="395.86" y1="590.60" x2="395.86" y2="591.70" stroke="#555" stroke-width="0.5"/>
<line x1="396.60" y1="590.60" x2="396.60" y2="592.60" stroke="#333" stroke-width="0.9"/>
<text x="396.6" y="597.6" font-size="4.6" text-anchor="middle" fill="#222">10</text>
<line x1="401.48" y1="590.60" x2="401.48" y2="591.70" stroke="#555" stroke-width="0.5"/>
<line x1="404.33" y1="590.60" x2="404.33" y2="591.70" stroke="#555" stroke-width="0.5"/>
<line x1="406.35" y1="590.60" x2="406.35" y2="591.70" stroke="#555" stroke-width="0.5"/>
<line x1="407.92" y1="590.60" x2="407.92" y2="591.70" stroke="#555" stroke-width="0.5"/>
<line x1="409.21" y1="590.60" x2="409.21" y2="591.70" stroke="#555" stroke-width="0.5"/>
<line x1="410.29" y1="590.60" x2="410.29" y2="591.70" stroke="#555" stroke-width="0.5"/>
<line x1="411.23" y1="590.60" x2="411.23" y2="591.70" stroke="#555" stroke-width="0.5"/>
<line x1="412.06" y1="590.60" x2="412.06" y2="591.70" stroke="#555" stroke-width="0.5"/>
<line x1="412.80" y1="590.60" x2="412.80" y2="592.60" stroke="#333" stroke-width="0.9"/>
<text x="412.8" y="597.6" font-size="4.6" text-anchor="middle" fill="#222">100</text>
<line x1="417.68" y1="590.60" x2="417.68" y2="591.70" stroke="#555" stroke-width="0.5"/>
<line x1="420.53" y1="590.60" x2="420.53" y2="591.70" stroke="#555" stroke-width="0.5"/>
<line x1="422.55" y1="590.60" x2="422.55" y2="591.70" stroke="#555" stroke-width="0.5"/>
<line x1="424.12" y1="590.60" x2="424.12" y2="591.70" stroke="#555" stroke-width="0.5"/>
<line x1="425.41" y1="590.60" x2="425.41" y2="591.70" stroke="#555" stroke-width="0.5"/>
<line x1="426.49" y1="590.60" x2="426.49" y2="591.70" stroke="#555" stroke-width="0.5"/>
<line x1="427.43" y1="590.60" x2="427.43" y2="591.70" stroke="#555" stroke-width="0.5"/>
<line x1="428.26" y1="590.60" x2="428.26" y2="591.70" stroke="#555" stroke-width="0.5"/>
<line x1="429.00" y1="590.60" x2="429.00" y2="592.60" stroke="#333" stroke-width="0.9"/>
<text x="429.0" y="597.6" font-size="4.6" text-anchor="middle" fill="#222">1,000</text>
<line x1="433.88" y1="590.60" x2="433.88" y2="591.70" stroke="#555" stroke-width="0.5"/>
<line x1="436.73" y1="590.60" x2="436.73" y2="591.70" stroke="#555" stroke-width="0.5"/>
<line x1="438.75" y1="590.60" x2="438.75" y2="591.70" stroke="#555" stroke-width="0.5"/>
<line x1="440.32" y1="590.60" x2="440.32" y2="591.70" stroke="#555" stroke-width="0.5"/>
<line x1="441.61" y1="590.60" x2="441.61" y2="591.70" stroke="#555" stroke-width="0.5"/>
<line x1="442.69" y1="590.60" x2="442.69" y2="591.70" stroke="#555" stroke-width="0.5"/>
<line x1="443.63" y1="590.60" x2="443.63" y2="591.70" stroke="#555" stroke-width="0.5"/>
<line x1="444.46" y1="590.60" x2="444.46" y2="591.70" stroke="#555" stroke-width="0.5"/>
<line x1="445.20" y1="590.60" x2="445.20" y2="592.60" stroke="#333" stroke-width="0.9"/>
<text x="445.2" y="597.6" font-size="4.6" text-anchor="middle" fill="#222">10,000</text>
<line x1="450.08" y1="590.60" x2="450.08" y2="591.70" stroke="#555" stroke-width="0.5"/>
<line x1="452.93" y1="590.60" x2="452.93" y2="591.70" stroke="#555" stroke-width="0.5"/>
<line x1="454.95" y1="590.60" x2="454.95" y2="591.70" stroke="#555" stroke-width="0.5"/>
<line x1="456.52" y1="590.60" x2="456.52" y2="591.70" stroke="#555" stroke-width="0.5"/>
<line x1="457.81" y1="590.60" x2="457.81" y2="591.70" stroke="#555" stroke-width="0.5"/>
<line x1="458.89" y1="590.60" x2="458.89" y2="591.70" stroke="#555" stroke-width="0.5"/>
<line x1="459.83" y1="590.60" x2="459.83" y2="591.70" stroke="#555" stroke-width="0.5"/>
<line x1="460.66" y1="590.60" x2="460.66" y2="591.70" stroke="#555" stroke-width="0.5"/>
<line x1="461.40" y1="590.60" x2="461.40" y2="592.60" stroke="#333" stroke-width="0.9"/>
<text x="461.4" y="597.6" font-size="4.6" text-anchor="middle" fill="#222">100,000</text>
<text x="0" y="0" font-size="6.0" text-anchor="middle" fill="#222" transform="translate(351.4,550.7) rotate(-90)">% Survival</text>
<text x="413.8" y="604.2" font-size="5.6" text-anchor="middle" font-weight="bold" fill="#222" textLength="51.8" lengthAdjust="spacingAndGlyphs">Concentration (ng/ml)</text>
<text x="412.8" y="490.6" font-size="7.5" text-anchor="middle" font-weight="bold" fill="#111">MDA-MB-175-VII</text>
<text x="412.8" y="498.9" font-size="7.6" text-anchor="middle" fill="#1e1e1e">HER2 1+</text>
<polyline points="371.9,518.8 373.5,518.9 375.0,519.0 376.5,519.1 378.0,519.2 379.6,519.3 381.1,519.4 382.6,519.6 384.1,519.8 385.7,520.0 387.2,520.2 388.7,520.4 390.2,520.6 391.8,520.9 393.3,521.2 394.8,521.5 396.4,521.9 397.9,522.3 399.4,522.7 400.9,523.1 402.5,523.6 404.0,524.2 405.5,524.8 407.0,525.4 408.6,526.1 410.1,526.8 411.6,527.6 413.1,528.4 414.7,529.4 416.2,530.3 417.7,531.4 419.2,532.5 420.8,533.7 422.3,534.9 423.8,536.2 425.4,537.6 426.9,539.0 428.4,540.5 429.9,542.0 431.5,543.6 433.0,545.3 434.5,547.0 436.0,548.7 437.6,550.4 439.1,552.2 440.6,554.0 442.1,555.7 443.7,557.5 445.2,559.3" fill="none" stroke="#d9343c" stroke-width="0.9" stroke-dasharray="0.9,0.9"/>
<path d="M371.9,513.8L373.5,516.8L370.3,516.8Z" fill="#d9343c"/>
<path d="M380.4,512.9L382.0,515.9L378.8,515.9Z" fill="#d9343c"/>
<path d="M388.1,518.7L389.7,521.7L386.5,521.7Z" fill="#d9343c"/>
<path d="M396.6,523.5L398.2,526.4L395.0,526.4Z" fill="#d9343c"/>
<path d="M404.3,527.2L405.9,530.1L402.7,530.1Z" fill="#d9343c"/>
<path d="M412.8,530.4L414.4,533.4L411.2,533.4Z" fill="#d9343c"/>
<path d="M420.5,535.0L422.1,537.9L418.9,537.9Z" fill="#d9343c"/>
<path d="M429.0,537.9L430.6,540.9L427.4,540.9Z" fill="#d9343c"/>
<path d="M436.7,545.5L438.3,548.5L435.1,548.5Z" fill="#d9343c"/>
<path d="M445.2,558.1L446.8,561.0L443.6,561.0Z" fill="#d9343c"/>
<polyline points="371.9,520.2 373.5,520.3 375.0,520.5 376.5,520.6 378.0,520.8 379.6,520.9 381.1,521.1 382.6,521.4 384.1,521.6 385.7,521.9 387.2,522.2 388.7,522.5 390.2,522.8 391.8,523.2 393.3,523.7 394.8,524.1 396.4,524.7 397.9,525.2 399.4,525.9 400.9,526.6 402.5,527.3 404.0,528.1 405.5,529.0 407.0,530.0 408.6,531.0 410.1,532.1 411.6,533.3 413.1,534.5 414.7,535.9 416.2,537.3 417.7,538.8 419.2,540.4 420.8,542.1 422.3,543.8 423.8,545.6 425.4,547.4 426.9,549.3 428.4,551.2 429.9,553.1 431.5,555.0 433.0,557.0 434.5,558.9 436.0,560.8 437.6,562.6 439.1,564.5 440.6,566.2 442.1,567.9 443.7,569.6 445.2,571.2" fill="none" stroke="#d9343c" stroke-width="0.9" stroke-dasharray="2,1.1"/>
<circle cx="371.9" cy="517.5" r="1.3" fill="none" stroke="#d9343c" stroke-width="0.8"/>
<circle cx="380.4" cy="518.1" r="1.3" fill="none" stroke="#d9343c" stroke-width="0.8"/>
<circle cx="388.1" cy="520.5" r="1.3" fill="none" stroke="#d9343c" stroke-width="0.8"/>
<circle cx="396.6" cy="526.3" r="1.3" fill="none" stroke="#d9343c" stroke-width="0.8"/>
<circle cx="404.3" cy="530.9" r="1.3" fill="none" stroke="#d9343c" stroke-width="0.8"/>
<circle cx="412.8" cy="538.7" r="1.3" fill="none" stroke="#d9343c" stroke-width="0.8"/>
<circle cx="420.5" cy="544.5" r="1.3" fill="none" stroke="#d9343c" stroke-width="0.8"/>
<circle cx="429.0" cy="547.3" r="1.3" fill="none" stroke="#d9343c" stroke-width="0.8"/>
<circle cx="436.7" cy="558.5" r="1.3" fill="none" stroke="#d9343c" stroke-width="0.8"/>
<circle cx="445.2" cy="571.4" r="1.3" fill="none" stroke="#d9343c" stroke-width="0.8"/>
<polyline points="371.9,527.0 373.5,527.2 375.0,527.5 376.5,527.8 378.0,528.1 379.6,528.5 381.1,528.9 382.6,529.4 384.1,529.9 385.7,530.6 387.2,531.3 388.7,532.1 390.2,533.1 391.8,534.1 393.3,535.3 394.8,536.6 396.4,538.0 397.9,539.6 399.4,541.3 400.9,543.1 402.5,545.1 404.0,547.2 405.5,549.3 407.0,551.6 408.6,553.9 410.1,556.2 411.6,558.6 413.1,560.9 414.7,563.1 416.2,565.3 417.7,567.4 419.2,569.4 420.8,571.3 422.3,573.0 423.8,574.6 425.4,576.1 426.9,577.4 428.4,578.6 429.9,579.7 431.5,580.7 433.0,581.5 434.5,582.3 436.0,582.9 437.6,583.5 439.1,584.0 440.6,584.5 442.1,584.9 443.7,585.2 445.2,585.5" fill="none" stroke="#d9343c" stroke-width="0.9"/>
<circle cx="371.9" cy="527.0" r="1.25" fill="#d9343c"/>
<circle cx="380.4" cy="528.7" r="1.25" fill="#d9343c"/>
<circle cx="388.1" cy="531.8" r="1.25" fill="#d9343c"/>
<circle cx="396.6" cy="538.3" r="1.25" fill="#d9343c"/>
<circle cx="404.3" cy="547.6" r="1.25" fill="#d9343c"/>
<circle cx="412.8" cy="560.3" r="1.25" fill="#d9343c"/>
<circle cx="420.5" cy="571.0" r="1.25" fill="#d9343c"/>
<circle cx="429.0" cy="579.1" r="1.25" fill="#d9343c"/>
<circle cx="436.7" cy="583.2" r="1.25" fill="#d9343c"/>
<circle cx="445.2" cy="585.5" r="1.25" fill="#d9343c"/>
<polyline points="371.9,520.5 373.5,520.5 375.0,520.5 376.5,520.5 378.0,520.5 379.6,520.5 381.1,520.5 382.6,520.5 384.1,520.5 385.7,520.5 387.2,520.5 388.7,520.5 390.2,520.5 391.8,520.5 393.3,520.5 394.8,520.5 396.4,520.5 397.9,520.5 399.4,520.5 400.9,520.5 402.5,520.5 404.0,520.5 405.5,520.5 407.0,520.5 408.6,520.6 410.1,520.6 411.6,520.7 413.1,520.9 414.7,521.1 416.2,521.3 417.7,521.7 419.2,522.0 420.8,522.5 422.3,523.1 423.8,523.9 425.4,524.7 426.9,525.6 428.4,526.6 429.9,527.6 431.5,528.6 433.0,529.7 434.5,530.9 436.0,532.2 437.6,533.7 439.1,535.3 440.6,537.1 442.1,538.9 443.7,540.8 445.2,542.6" fill="none" stroke="#34479a" stroke-width="0.9" stroke-dasharray="0.9,0.9"/>
<path d="M371.9,521.3L373.5,524.3L370.3,524.3Z" fill="#34479a"/>
<path d="M380.4,521.3L382.0,524.3L378.8,524.3Z" fill="#34479a"/>
<path d="M388.1,517.4L389.7,520.4L386.5,520.4Z" fill="#34479a"/>
<path d="M396.6,518.7L398.2,521.7L395.0,521.7Z" fill="#34479a"/>
<path d="M404.3,521.3L405.9,524.3L402.7,524.3Z" fill="#34479a"/>
<path d="M412.8,524.6L414.4,527.5L411.2,527.5Z" fill="#34479a"/>
<path d="M420.5,521.3L422.1,524.3L418.9,524.3Z" fill="#34479a"/>
<path d="M429.0,525.4L430.6,528.3L427.4,528.3Z" fill="#34479a"/>
<path d="M436.7,531.1L438.3,534.1L435.1,534.1Z" fill="#34479a"/>
<path d="M445.2,540.8L446.8,543.8L443.6,543.8Z" fill="#34479a"/>
<polyline points="371.9,517.9 373.5,517.9 375.0,517.8 376.5,517.8 378.0,517.7 379.6,517.6 381.1,517.6 382.6,517.5 384.1,517.5 385.7,517.4 387.2,517.4 388.7,517.4 390.2,517.3 391.8,517.3 393.3,517.3 394.8,517.3 396.4,517.2 397.9,517.3 399.4,517.3 400.9,517.4 402.5,517.5 404.0,517.6 405.5,517.7 407.0,517.9 408.6,518.0 410.1,518.2 411.6,518.4 413.1,518.6 414.7,518.7 416.2,518.8 417.7,519.0 419.2,519.3 420.8,520.0 422.3,520.9 423.8,522.2 425.4,523.5 426.9,525.0 428.4,526.4 429.9,527.8 431.5,528.9 433.0,530.1 434.5,531.5 436.0,533.2 437.6,535.4 439.1,538.2 440.6,541.3 442.1,544.5 443.7,547.8 445.2,551.0" fill="none" stroke="#34479a" stroke-width="0.9" stroke-dasharray="2,1.1"/>
<circle cx="371.9" cy="521.8" r="1.3" fill="none" stroke="#34479a" stroke-width="0.8"/>
<circle cx="380.4" cy="520.5" r="1.3" fill="none" stroke="#34479a" stroke-width="0.8"/>
<circle cx="388.1" cy="519.2" r="1.3" fill="none" stroke="#34479a" stroke-width="0.8"/>
<circle cx="396.6" cy="513.7" r="1.3" fill="none" stroke="#34479a" stroke-width="0.8"/>
<circle cx="404.3" cy="517.5" r="1.3" fill="none" stroke="#34479a" stroke-width="0.8"/>
<circle cx="412.8" cy="520.5" r="1.3" fill="none" stroke="#34479a" stroke-width="0.8"/>
<circle cx="420.5" cy="519.5" r="1.3" fill="none" stroke="#34479a" stroke-width="0.8"/>
<circle cx="429.0" cy="527.1" r="1.3" fill="none" stroke="#34479a" stroke-width="0.8"/>
<circle cx="436.7" cy="533.9" r="1.3" fill="none" stroke="#34479a" stroke-width="0.8"/>
<circle cx="445.2" cy="551.2" r="1.3" fill="none" stroke="#34479a" stroke-width="0.8"/>
<polyline points="371.9,521.8 373.5,521.8 375.0,521.8 376.5,521.8 378.0,521.8 379.6,521.8 381.1,521.9 382.6,521.9 384.1,521.9 385.7,522.0 387.2,522.0 388.7,522.1 390.2,522.1 391.8,522.2 393.3,522.4 394.8,522.5 396.4,522.8 397.9,523.0 399.4,523.4 400.9,523.8 402.5,524.4 404.0,525.1 405.5,526.0 407.0,527.1 408.6,528.5 410.1,530.2 411.6,532.2 413.1,534.6 414.7,537.4 416.2,540.6 417.7,544.1 419.2,547.9 420.8,551.9 422.3,556.0 423.8,559.9 425.4,563.7 426.9,567.1 428.4,570.3 429.9,573.0 431.5,575.3 433.0,577.3 434.5,578.9 436.0,580.3 437.6,581.4 439.1,582.2 440.6,582.9 442.1,583.4 443.7,583.9 445.2,584.2" fill="none" stroke="#34479a" stroke-width="0.9"/>
<circle cx="371.9" cy="521.8" r="1.25" fill="#34479a"/>
<circle cx="380.4" cy="521.9" r="1.25" fill="#34479a"/>
<circle cx="388.1" cy="522.0" r="1.25" fill="#34479a"/>
<circle cx="396.6" cy="522.8" r="1.25" fill="#34479a"/>
<circle cx="404.3" cy="525.3" r="1.25" fill="#34479a"/>
<circle cx="412.8" cy="534.1" r="1.25" fill="#34479a"/>
<circle cx="420.5" cy="551.3" r="1.25" fill="#34479a"/>
<circle cx="429.0" cy="571.4" r="1.25" fill="#34479a"/>
<circle cx="436.7" cy="580.8" r="1.25" fill="#34479a"/>
<circle cx="445.2" cy="584.2" r="1.25" fill="#34479a"/>
<text x="470.6" y="515.5" font-size="5.2" text-anchor="start" font-style="italic" fill="#222" textLength="47.1" lengthAdjust="spacingAndGlyphs">ADC - exposure time:</text>
<line x1="458.00" y1="520.90" x2="465.60" y2="520.90" stroke="#d9343c" stroke-width="0.7" stroke-dasharray="0.9,0.9" opacity="0.6"/>
<path d="M461.8,518.4L463.8,522.1L459.8,522.1Z" fill="#d9343c"/>
<text x="470.6" y="522.2" font-size="5.2" text-anchor="start" fill="#1a1a1a">SYD985 - 6 h</text>
<line x1="458.00" y1="527.40" x2="465.60" y2="527.40" stroke="#d9343c" stroke-width="0.9"/>
<circle cx="461.8" cy="527.4" r="1.6" fill="white" stroke="#d9343c" stroke-width="1.0"/>
<text x="470.6" y="529.0" font-size="5.2" text-anchor="start" fill="#1a1a1a">SYD985 - 24 h</text>
<line x1="458.00" y1="534.60" x2="465.60" y2="534.60" stroke="#d9343c" stroke-width="0.9"/>
<circle cx="461.8" cy="534.6" r="1.8" fill="#d9343c"/>
<text x="470.6" y="536.2" font-size="5.2" text-anchor="start" fill="#1a1a1a">SYD985 - 12 days</text>
<line x1="458.00" y1="548.80" x2="465.60" y2="548.80" stroke="#34479a" stroke-width="0.7" stroke-dasharray="0.9,0.9" opacity="0.6"/>
<path d="M461.8,546.3L463.8,550.0L459.8,550.0Z" fill="#34479a"/>
<text x="470.6" y="550.1" font-size="5.2" text-anchor="start" fill="#1a1a1a">T-DM1 - 6h</text>
<line x1="458.00" y1="555.60" x2="465.60" y2="555.60" stroke="#34479a" stroke-width="0.9"/>
<circle cx="461.8" cy="555.6" r="1.6" fill="white" stroke="#34479a" stroke-width="1.0"/>
<text x="470.6" y="557.2" font-size="5.2" text-anchor="start" fill="#1a1a1a">T-DM1 - 24h</text>
<line x1="458.00" y1="562.90" x2="465.60" y2="562.90" stroke="#34479a" stroke-width="0.9"/>
<circle cx="461.8" cy="562.9" r="1.8" fill="#34479a"/>
<text x="470.6" y="564.5" font-size="5.2" text-anchor="start" fill="#1a1a1a">T-DM1 - 12 days</text>
</svg></body></html>
